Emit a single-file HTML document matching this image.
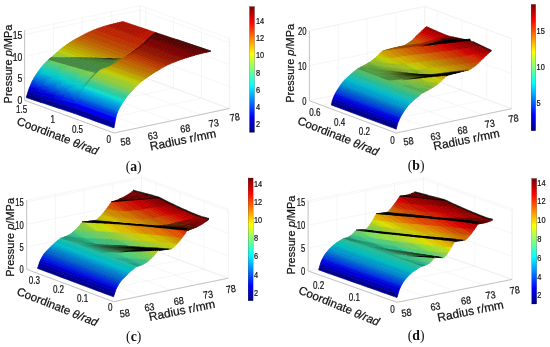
<!DOCTYPE html><html><head><meta charset="utf-8"><title>Pressure distribution</title><style>html,body{margin:0;padding:0;background:#fff}body{width:550px;height:347px;overflow:hidden;font-family:"Liberation Sans",sans-serif}</style></head><body><svg width="550" height="347" viewBox="0 0 550 347" style="display:block"><rect width="550" height="347" fill="#fff"/><defs><linearGradient id="jet" x1="0" y1="1" x2="0" y2="0"><stop offset="0.0000" stop-color="#00007f"/><stop offset="0.0312" stop-color="#00009f"/><stop offset="0.0625" stop-color="#0000bf"/><stop offset="0.0938" stop-color="#0000df"/><stop offset="0.1250" stop-color="#0000ff"/><stop offset="0.1562" stop-color="#001fff"/><stop offset="0.1875" stop-color="#003fff"/><stop offset="0.2188" stop-color="#005fff"/><stop offset="0.2500" stop-color="#007fff"/><stop offset="0.2812" stop-color="#009fff"/><stop offset="0.3125" stop-color="#00bfff"/><stop offset="0.3438" stop-color="#00dfff"/><stop offset="0.3750" stop-color="#00ffff"/><stop offset="0.4062" stop-color="#1fffdf"/><stop offset="0.4375" stop-color="#3fffbf"/><stop offset="0.4688" stop-color="#5fff9f"/><stop offset="0.5000" stop-color="#7fff7f"/><stop offset="0.5312" stop-color="#9fff5f"/><stop offset="0.5625" stop-color="#bfff3f"/><stop offset="0.5938" stop-color="#dfff1f"/><stop offset="0.6250" stop-color="#ffff00"/><stop offset="0.6562" stop-color="#ffdf00"/><stop offset="0.6875" stop-color="#ffbf00"/><stop offset="0.7188" stop-color="#ff9f00"/><stop offset="0.7500" stop-color="#ff7f00"/><stop offset="0.7812" stop-color="#ff5f00"/><stop offset="0.8125" stop-color="#ff3f00"/><stop offset="0.8438" stop-color="#ff1f00"/><stop offset="0.8750" stop-color="#ff0000"/><stop offset="0.9062" stop-color="#df0000"/><stop offset="0.9375" stop-color="#bf0000"/><stop offset="0.9688" stop-color="#9f0000"/><stop offset="1.0000" stop-color="#7f0000"/></linearGradient></defs><line x1="24.6" y1="100.3" x2="140.0" y2="75.8" stroke="#f0f0f0" stroke-width="0.6"/><line x1="140.0" y1="75.8" x2="229.4" y2="108.5" stroke="#f0f0f0" stroke-width="0.6"/><line x1="24.6" y1="78.3" x2="140.0" y2="53.9" stroke="#f0f0f0" stroke-width="0.6"/><line x1="140.0" y1="53.9" x2="229.4" y2="86.5" stroke="#f0f0f0" stroke-width="0.6"/><line x1="24.6" y1="56.4" x2="140.0" y2="31.9" stroke="#f0f0f0" stroke-width="0.6"/><line x1="140.0" y1="31.9" x2="229.4" y2="64.6" stroke="#f0f0f0" stroke-width="0.6"/><line x1="24.6" y1="34.5" x2="140.0" y2="10.0" stroke="#f0f0f0" stroke-width="0.6"/><line x1="140.0" y1="10.0" x2="229.4" y2="42.7" stroke="#f0f0f0" stroke-width="0.6"/><line x1="24.6" y1="30.1" x2="140.0" y2="5.6" stroke="#f0f0f0" stroke-width="0.6"/><line x1="140.0" y1="5.6" x2="229.4" y2="38.3" stroke="#f0f0f0" stroke-width="0.6"/><line x1="24.6" y1="100.3" x2="24.6" y2="30.1" stroke="#f0f0f0" stroke-width="0.6"/><line x1="114.0" y1="133.0" x2="24.6" y2="100.3" stroke="#f0f0f0" stroke-width="0.6"/><line x1="53.5" y1="94.2" x2="53.5" y2="23.9" stroke="#f0f0f0" stroke-width="0.6"/><line x1="142.8" y1="126.9" x2="53.5" y2="94.2" stroke="#f0f0f0" stroke-width="0.6"/><line x1="82.3" y1="88.0" x2="82.3" y2="17.8" stroke="#f0f0f0" stroke-width="0.6"/><line x1="171.7" y1="120.8" x2="82.3" y2="88.0" stroke="#f0f0f0" stroke-width="0.6"/><line x1="111.2" y1="81.9" x2="111.2" y2="11.7" stroke="#f0f0f0" stroke-width="0.6"/><line x1="200.6" y1="114.6" x2="111.2" y2="81.9" stroke="#f0f0f0" stroke-width="0.6"/><line x1="140.0" y1="75.8" x2="140.0" y2="5.6" stroke="#f0f0f0" stroke-width="0.6"/><line x1="229.4" y1="108.5" x2="140.0" y2="75.8" stroke="#f0f0f0" stroke-width="0.6"/><line x1="229.4" y1="108.5" x2="229.4" y2="38.3" stroke="#f0f0f0" stroke-width="0.6"/><line x1="114.0" y1="133.0" x2="229.4" y2="108.5" stroke="#f0f0f0" stroke-width="0.6"/><line x1="201.5" y1="98.3" x2="201.5" y2="28.0" stroke="#f0f0f0" stroke-width="0.6"/><line x1="86.1" y1="122.8" x2="201.5" y2="98.3" stroke="#f0f0f0" stroke-width="0.6"/><line x1="173.5" y1="88.1" x2="173.5" y2="17.8" stroke="#f0f0f0" stroke-width="0.6"/><line x1="58.1" y1="112.6" x2="173.5" y2="88.1" stroke="#f0f0f0" stroke-width="0.6"/><line x1="145.6" y1="77.8" x2="145.6" y2="7.6" stroke="#f0f0f0" stroke-width="0.6"/><line x1="30.2" y1="102.3" x2="145.6" y2="77.8" stroke="#f0f0f0" stroke-width="0.6"/><line x1="140.0" y1="75.8" x2="140.0" y2="5.6" stroke="#f0f0f0" stroke-width="0.6"/><line x1="229.4" y1="108.5" x2="229.4" y2="38.3" stroke="#f0f0f0" stroke-width="0.6"/><line x1="24.6" y1="100.3" x2="140.0" y2="75.8" stroke="#f0f0f0" stroke-width="0.6"/><line x1="140.0" y1="75.8" x2="229.4" y2="108.5" stroke="#f0f0f0" stroke-width="0.6"/><g fill="currentColor" stroke="currentColor" stroke-width=".7" stroke-linejoin="round"><path color="#a10" d="M145.9 30.5l-2.1-.7l-2.1-.7l-2-.7l-2.1-.7l-2-.7l-2.1-.7l-2.1-.7l-2-.7l-2.1-.7l-2-.7l-2.1-.7l-2.1-.7l2.1-.5l2 .7l2 .6l1.9 .7l2 .7l2 .6l2 .7l2 .7l2 .7l2 .6l2 .7l2 .7l2 .6z"/><path color="#b10" d="M154.1 33.4l-2.1-.8l-2-.7l-2.1-.7l-2-.7l1.2-.9l2 .7l2 .7l2 .7l2 .6z"/><path color="#a10" d="M154.9 33.4l-.8 0l1-1.1l.8 .3z"/><path color="#800" d="M155.8 33.5l-.9-.1l1-.8l.8 .3z"/><path color="#400" d="M173.5 39.5l-8.9-3l-8.8-3l.9-.6l9.1 3l9 3.1z"/><path color="#500" d="M208.9 51.7l-8.9-3.1l-8.8-3l-8.9-3l-8.8-3.1l1.3-.5l9 3l9.1 3.1l9 3l9 3.1z"/><path color="#a10" d="M144.6 31.4l-2.1-.7l-2.1-.8l-2.2-.7l-2.1-.7l-2.1-.8l-2.1-.7l-2.2-.8l-2.1-.7l-2.1-.7l-2.1-.8l-2.2-.7l-2.1-.8l2-.4l2.1 .7l2.1 .7l2 .7l2.1 .7l2 .7l2.1 .7l2.1 .7l2 .7l2.1 .7l2 .7l2.1 .7l2.1 .7z"/><path color="#b10" d="M153.1 34.4l-2.1-.8l-2.1-.7l-2.1-.7l-2.2-.8l1.3-.9l2 .7l2.1 .7l2 .7l2.1 .8z"/><path color="#800" d="M154 34.2l-.9 .2l1-1l.8 0z"/><path color="#500" d="M154.8 34.1l-.8 .1l.9-.8l.9 .1z"/><path color="#400" d="M172.2 40.1l-8.7-3l-8.7-3l1-.6l8.8 3l8.9 3z"/><path color="#500" d="M206.9 52.2l-8.7-3.1l-8.7-3l-8.7-3l-8.6-3l1.3-.6l8.8 3.1l8.9 3l8.8 3l8.9 3.1z"/><path color="#a10" d="M143.4 32.3l-2.2-.8l-2.2-.8l-2.2-.7l-2.2-.8l-2.2-.8l-2.2-.7l-2.2-.8l-2.1-.8l-2.2-.8l-2.2-.7l-2.2-.8l-2.2-.8l2-.5l2.1 .8l2.2 .7l2.1 .8l2.1 .7l2.1 .7l2.2 .8l2.1 .7l2.1 .8l2.1 .7l2.2 .7l2.1 .8l2.1 .7z"/><path color="#b10" d="M152.2 35.4l-2.2-.8l-2.2-.8l-2.2-.7l-2.2-.8l1.2-.9l2.2 .8l2.1 .7l2.1 .7l2.1 .8z"/><path color="#400" d="M153 35l-.8 .4l.9-1l.9-.2z"/><path color="#000" d="M153.9 34.7l-.9 .3l1-.8l.8-.1z"/><path color="#400" d="M162.4 37.7l-8.5-3l.9-.6l8.7 3z"/><path color="#500" d="M204.8 52.6l-8.5-3l-8.5-2.9l-8.5-3l-8.4-3l-8.5-3l1.1-.6l8.7 3l8.6 3l8.7 3l8.7 3l8.7 3.1z"/><path color="#a10" d="M142.2 33.2l-2.3-.8l-2.2-.8l-2.3-.8l-2.3-.8l-2.2-.9l-2.3-.8l-2.3-.8l-2.2-.8l-2.3-.8l-2.2-.8l-2.3-.8l-2.3-.8l2.1-.5l2.2 .8l2.2 .8l2.2 .7l2.2 .8l2.1 .8l2.2 .8l2.2 .7l2.2 .8l2.2 .8l2.2 .7l2.2 .8l2.2 .8z"/><path color="#b10" d="M151.2 36.4l-2.2-.8l-2.3-.8l-2.3-.8l-2.2-.8l1.2-.9l2.2 .8l2.2 .7l2.2 .8l2.2 .8z"/><path color="#000" d="M152.9 35.4l-.8 .5l-.9 .5l1-1l.8-.4l.9-.3z"/><path color="#500" d="M194.5 50.2l-8.3-3l-8.3-3l-8.4-2.9l-8.3-3l-8.3-2.9l1-.7l8.5 3l8.5 3l8.4 3l8.5 3l8.5 2.9z"/><path color="#600" d="M202.8 53.1l-8.3-2.9l1.8-.6l8.5 3z"/><path color="#a10" d="M138.6 33.2l-2.3-.8l-2.3-.9l-2.4-.8l-2.3-.8l-2.3-.9l-2.3-.8l-2.4-.8l-2.3-.9l-2.3-.8l-2.4-.9l-2.3-.8l2-.5l2.3 .8l2.3 .8l2.2 .8l2.3 .8l2.2 .8l2.3 .8l2.3 .8l2.2 .9l2.3 .8l2.3 .8l2.2 .8z"/><path color="#b10" d="M150.3 37.4l-2.4-.8l-2.3-.9l-2.3-.8l-2.4-.9l-2.3-.8l1.3-.8l2.3 .8l2.2 .8l2.3 .8l2.3 .8l2.2 .8z"/><path color="#000" d="M151.9 36.1l-.8 .6l-.8 .7l.9-1l.9-.5l.8-.5z"/><path color="#500" d="M192.6 50.7l-8.1-2.9l-8.1-3l-8.2-2.9l-8.1-2.9l-8.2-2.9l1-.7l8.3 2.9l8.3 3l8.4 2.9l8.3 3l8.3 3z"/><path color="#600" d="M200.8 53.6l-8.2-2.9l1.9-.5l8.3 2.9z"/><path color="#a10" d="M137.3 34l-2.4-.8l-2.4-.9l-2.4-.9l-2.4-.8l-2.4-.9l-2.4-.9l-2.3-.8l-2.4-.9l-2.4-.9l-2.4-.8l-2.4-.9l2-.5l2.3 .8l2.4 .9l2.3 .8l2.3 .9l2.4 .8l2.3 .8l2.3 .9l2.3 .8l2.4 .8l2.3 .9l2.3 .8z"/><path color="#b10" d="M149.3 38.4l-2.4-.9l-2.4-.9l-2.4-.8l-2.4-.9l-2.4-.9l1.3-.8l2.3 .8l2.4 .9l2.3 .8l2.3 .9l2.4 .8z"/><path color="#000" d="M150.1 37.6l-.8 .8l1-1l.8-.7z"/><path color="#200" d="M151 36.8l-.9 .8l1-.9l.8-.6z"/><path color="#500" d="M182.8 48.3l-7.9-2.8l-8-2.9l-8-2.9l-7.9-2.9l.9-.7l8.2 2.9l8.1 2.9l8.2 2.9l8.1 3z"/><path color="#600" d="M198.7 54.1l-7.9-2.9l-8-2.9l1.7-.5l8.1 2.9l8.2 2.9z"/><path color="#a10" d="M133.5 34l-2.4-.9l-2.5-.9l-2.4-.9l-2.5-.9l-2.5-.9l-2.4-.9l-2.5-.9l-2.4-.9l-2.5-.9l-2.4-.9l2-.5l2.4 .9l2.4 .8l2.4 .9l2.4 .9l2.3 .8l2.4 .9l2.4 .9l2.4 .8l2.4 .9l2.4 .9z"/><path color="#b10" d="M148.3 39.4l-2.5-.9l-2.4-.9l-2.5-.9l-2.5-.9l-2.4-.9l-2.5-.9l1.4-.8l2.4 .8l2.4 .9l2.4 .9l2.4 .8l2.4 .9l2.4 .9z"/><path color="#200" d="M149.9 37.6l-.8 .9l-.8 .9l1-1l.8-.8l.9-.8z"/><path color="#500" d="M157.7 40.4l-7.8-2.8l1.1-.8l7.9 2.9z"/><path color="#600" d="M196.7 54.6l-7.8-2.8l-7.8-2.8l-7.8-2.9l-7.8-2.8l-7.8-2.9l1.2-.7l8 2.9l8 2.9l7.9 2.8l8 2.9l7.9 2.9z"/><path color="#a10" d="M137.2 36.6l-2.6-.9l-2.5-.9l-2.5-.9l-2.5-1l-2.5-.9l-2.6-.9l-2.5-.9l-2.5-.9l-2.5-1l-2.5-.9l-2.6-.9l-2.5-.9l2.1-.6l2.4 .9l2.5 .9l2.4 .9l2.5 .9l2.4 .9l2.5 .9l2.5 .9l2.4 .9l2.5 .9l2.4 .9l2.5 .9l2.4 .9z"/><path color="#b10" d="M147.2 40.3l-2.5-.9l-2.5-.9l-2.5-1l-2.5-.9l1.2-.8l2.5 .9l2.5 .9l2.4 .9l2.5 .9z"/><path color="#200" d="M148.9 38.4l-.8 1l-.9 .9l1.1-.9l.8-.9l.8-.9z"/><path color="#600" d="M194.7 55.2l-7.6-2.8l-7.7-2.8l-7.6-2.8l-7.6-2.8l-7.7-2.8l-7.6-2.8l1-.8l7.8 2.8l7.8 2.9l7.8 2.8l7.8 2.9l7.8 2.8l7.8 2.8z"/><path color="#a20" d="M146.2 41.3l-2.6-1l-2.6-.9l-2.5-1l-2.6-.9l-2.6-.9l-2.6-1l-2.6-.9l-2.6-1l-2.5-.9l-2.6-1l-2.6-.9l-2.6-1l-2.6-.9l-2.5-.9l-2.6-1l-2.6-.9l2-.6l2.5 .9l2.6 .9l2.5 .9l2.5 1l2.5 .9l2.5 .9l2.6 .9l2.5 .9l2.5 1l2.5 .9l2.5 .9l2.6 .9l2.5 .9l2.5 1l2.5 .9l2.5 .9z"/><path color="#200" d="M147.9 39.4l-.9 .9l-.8 1l1-1l.9-.9l.8-1z"/><path color="#700" d="M192.7 55.8l-7.5-2.8l-7.5-2.7l-7.4-2.7l-7.5-2.8l-7.5-2.7l-7.4-2.7l1-1l7.6 2.8l7.7 2.8l7.6 2.8l7.6 2.8l7.7 2.8l7.6 2.8z"/><path color="#b20" d="M145.2 42.3l-2.6-1l-2.7-.9l-2.6-1l-2.7-1l-2.6-1l-2.7-.9l-2.6-1l-2.7-1l-2.6-.9l-2.7-1l-2.6-1l-2.7-.9l-2.6-1l-2.7-1l-2.6-.9l-2.6-1l2-.6l2.6 .9l2.6 1l2.5 .9l2.6 .9l2.6 1l2.6 .9l2.6 1l2.5 .9l2.6 1l2.6 .9l2.6 1l2.6 .9l2.6 .9l2.5 1l2.6 .9l2.6 1z"/><path color="#200" d="M146.9 40.4l-.9 .9l-.8 1l1-1l.8-1l.9-.9z"/><path color="#700" d="M190.6 56.4l-7.3-2.7l-7.3-2.7l-7.3-2.6l-7.2-2.7l-7.3-2.7l-7.3-2.6l1-1l7.4 2.7l7.5 2.7l7.5 2.8l7.4 2.7l7.5 2.7l7.5 2.8z"/><path color="#b20" d="M144.2 43.3l-2.7-1l-2.7-.9l-2.7-1l-2.8-1l-2.7-1l-2.7-1l-2.7-1l-2.7-1l-2.7-1l-2.7-1l-2.7-1l-2.7-1l-2.7-1l-2.8-.9l-2.7-1l-2.7-1l2.1-.7l2.6 1l2.6 .9l2.7 1l2.6 1l2.7 .9l2.6 1l2.7 1l2.6 .9l2.7 1l2.6 1l2.7 .9l2.6 1l2.7 1l2.6 1l2.7 .9l2.6 1z"/><path color="#100" d="M145.9 41.4l-.9 1l-.8 .9l1-1l.8-1l.9-.9z"/><path color="#700" d="M188.6 57l-7.1-2.6l-7.1-2.6l-7.2-2.6l-7.1-2.6l-7.1-2.6l-7.1-2.6l1-1l7.3 2.6l7.3 2.7l7.2 2.7l7.3 2.6l7.3 2.7l7.3 2.7z"/><path color="#b20" d="M143.2 44.4l-2.8-1l-2.8-1l-2.8-1l-2.7-1.1l-2.8-1l-2.8-1l-2.7-1l-2.8-1l-2.8-1l-2.8-1l-2.7-1.1l-2.8-1l-2.8-1l-2.8-1l-2.7-1l-2.8-1l2-.7l2.7 1l2.7 1l2.8 .9l2.7 1l2.7 1l2.7 1l2.7 1l2.7 1l2.7 1l2.7 1l2.7 1l2.7 1l2.8 1l2.7 1l2.7 .9l2.7 1z"/><path color="#100" d="M144.8 42.4l-.8 1l-.8 1l1-1.1l.8-.9l.9-1z"/><path color="#700" d="M186.6 57.7l-7-2.6l-6.9-2.5l-7-2.6l-7-2.5l-6.9-2.5l-7-2.6l1.1-1l7.1 2.6l7.1 2.6l7.1 2.6l7.2 2.6l7.1 2.6l7.1 2.6z"/><path color="#b20" d="M142.1 45.5l-2.8-1.1l-2.9-1l-2.8-1l-2.8-1.1l-2.9-1l-2.8-1l-2.8-1.1l-2.9-1l-2.8-1l-2.8-1.1l-2.9-1l-2.8-1.1l-2.8-1l-2.9-1l-2.8-1.1l-2.8-1l2-.7l2.8 1l2.7 1l2.8 1l2.8 1l2.8 1l2.7 1.1l2.8 1l2.8 1l2.8 1l2.7 1l2.8 1l2.8 1l2.7 1.1l2.8 1l2.8 1l2.8 1z"/><path color="#100" d="M143.8 43.4l-.9 1.1l-.8 1l1.1-1.1l.8-1l.8-1z"/><path color="#800" d="M184.5 58.3l-6.8-2.4l-6.8-2.5l-6.7-2.5l-6.8-2.5l-6.8-2.5l-6.8-2.5l1-1l7 2.6l6.9 2.5l7 2.5l7 2.6l6.9 2.5l7 2.6z"/><path color="#b20" d="M141 46.6l-2.9-1.1l-2.9-1l-2.9-1.1l-2.9-1.1l-2.9-1l-2.9-1.1l-2.9-1l-2.8-1.1l-2.9-1l-2.9-1.1l-2.9-1.1l-2.9-1l-2.9-1.1l-2.9-1l-2.9-1.1l-2.9-1l2.1-.8l2.8 1l2.8 1.1l2.9 1l2.8 1l2.8 1.1l2.9 1l2.8 1.1l2.8 1l2.9 1l2.8 1.1l2.8 1l2.9 1l2.8 1.1l2.8 1l2.9 1l2.8 1.1z"/><path color="#100" d="M142.6 44.4l-.8 1.1l-.8 1.1l1.1-1.1l.8-1l.9-1.1z"/><path color="#800" d="M182.5 59l-6.6-2.4l-6.7-2.4l-6.6-2.5l-6.7-2.4l-6.6-2.4l-6.7-2.5l1.2-1l6.8 2.5l6.8 2.5l6.8 2.5l6.7 2.5l6.8 2.5l6.8 2.4z"/><path color="#b30" d="M139.8 47.7l-3-1.1l-2.9-1l-3-1.1l-2.9-1.1l-2.9-1.1l-3-1.1l-2.9-1l-3-1.1l-2.9-1.1l-2.9-1.1l-3-1l-2.9-1.1l-3-1.1l-2.9-1.1l-3-1l-2.9-1.1l2-.8l2.9 1l2.9 1.1l2.9 1l2.9 1.1l2.9 1l2.9 1.1l2.9 1.1l2.9 1l2.8 1.1l2.9 1l2.9 1.1l2.9 1l2.9 1.1l2.9 1.1l2.9 1l2.9 1.1z"/><path color="#100" d="M141.4 45.4l-.8 1.2l-.8 1.1l1.2-1.1l.8-1.1l.8-1.1z"/><path color="#810" d="M180.5 59.7l-6.5-2.4l-6.5-2.3l-6.5-2.4l-6.5-2.4l-6.6-2.4l-6.5-2.4l1.2-1l6.7 2.5l6.6 2.4l6.7 2.4l6.6 2.5l6.7 2.4l6.6 2.4z"/><path color="#b30" d="M138.5 48.9l-3-1.1l-3-1.1l-3-1.1l-3-1.1l-3-1.1l-3-1.1l-2.9-1.1l-3-1.1l-3-1.1l-3-1.1l-3-1l-3-1.1l-3-1.1l-3-1.1l-2.9-1.1l-3-1.1l2-.9l2.9 1.1l3 1l2.9 1.1l3 1.1l2.9 1.1l3 1l2.9 1.1l2.9 1.1l3 1.1l2.9 1l3 1.1l2.9 1.1l2.9 1.1l3 1.1l2.9 1l3 1.1z"/><path color="#100" d="M140.1 46.4l-.8 1.3l-.8 1.2l1.3-1.2l.8-1.1l.8-1.2z"/><path color="#810" d="M178.4 60.4l-6.3-2.3l-6.4-2.3l-6.4-2.4l-6.4-2.3l-6.4-2.3l-6.4-2.4l1.3-1l6.5 2.4l6.6 2.4l6.5 2.4l6.5 2.4l6.5 2.3l6.5 2.4z"/><path color="#b30" d="M137.1 50.1l-3.1-1.2l-3-1.1l-3-1.1l-3-1.1l-3.1-1.1l-3-1.1l-3-1.1l-3-1.1l-3.1-1.1l-3-1.1l-3-1.1l-3.1-1.1l-3-1.1l-3-1.1l-3-1.2l-3.1-1.1l2.1-.9l3 1.1l2.9 1.1l3 1.1l3 1.1l3 1.1l3 1l3 1.1l3 1.1l3 1.1l2.9 1.1l3 1.1l3 1.1l3 1.1l3 1.1l3 1.1l3 1.1z"/><path color="#100" d="M138.7 47.4l-.8 1.3l-.8 1.4l1.4-1.2l.8-1.2l.8-1.3z"/><path color="#810" d="M176.4 61.2l-6.3-2.3l-6.2-2.3l-6.3-2.3l-6.3-2.3l-6.3-2.3l-6.3-2.3l1.4-1l6.4 2.4l6.4 2.3l6.4 2.3l6.4 2.4l6.4 2.3l6.3 2.3z"/><path color="#b40" d="M135.7 51.3l-3.1-1.1l-3.1-1.2l-3-1.1l-3.1-1.1l-3.1-1.1l-3-1.2l-3.1-1.1l-3.1-1.1l-3-1.1l-3.1-1.1l-3.1-1.2l-3-1.1l-3.1-1.1l-3.1-1.1l-3-1.1l-3.1-1.2l2-1l3.1 1.1l3 1.2l3 1.1l3 1.1l3.1 1.1l3 1.1l3 1.1l3.1 1.1l3 1.1l3 1.1l3 1.1l3.1 1.1l3 1.1l3 1.1l3 1.1l3.1 1.2z"/><path color="#100" d="M137.3 48.5l-.8 1.4l-.8 1.4l1.4-1.2l.8-1.4l.8-1.3z"/><path color="#910" d="M174.4 62l-6.2-2.3l-6.2-2.2l-6.1-2.3l-6.2-2.2l-6.2-2.3l-6.2-2.2l1.4-1.1l6.3 2.3l6.3 2.3l6.3 2.3l6.3 2.3l6.2 2.3l6.3 2.3z"/><path color="#b40" d="M134.3 52.5l-3.1-1.1l-3.1-1.2l-3.2-1.1l-3.1-1.1l-3.1-1.2l-3.1-1.1l-3.1-1.1l-3.1-1.2l-3.1-1.1l-3.1-1.1l-3.1-1.2l-3.1-1.1l-3.1-1.2l-3.1-1.1l-3.1-1.1l-3.1-1.2l2-1l3.1 1.2l3 1.1l3.1 1.1l3.1 1.1l3 1.1l3.1 1.2l3.1 1.1l3 1.1l3.1 1.1l3.1 1.1l3 1.2l3.1 1.1l3.1 1.1l3 1.1l3.1 1.2l3.1 1.1z"/><path color="#100" d="M135.9 49.5l-.8 1.5l-.8 1.5l1.4-1.2l.8-1.4l.8-1.4z"/><path color="#910" d="M172.3 62.8l-6-2.2l-6.1-2.2l-6.1-2.2l-6-2.3l-6.1-2.2l-6.1-2.2l1.4-1l6.2 2.2l6.2 2.3l6.2 2.2l6.1 2.3l6.2 2.2l6.2 2.3z"/><path color="#b40" d="M132.8 53.7l-3.1-1.1l-3.1-1.2l-3.2-1.1l-3.1-1.1l-3.2-1.2l-3.1-1.1l-3.2-1.2l-3.1-1.1l-3.2-1.2l-3.1-1.1l-3.1-1.2l-3.2-1.1l-3.1-1.2l-3.2-1.1l-3.1-1.2l-3.2-1.1l2.1-1.1l3.1 1.2l3.1 1.1l3.1 1.1l3.1 1.2l3.1 1.1l3.1 1.2l3.1 1.1l3.1 1.1l3.1 1.2l3.1 1.1l3.1 1.1l3.1 1.2l3.1 1.1l3.2 1.1l3.1 1.2l3.1 1.1z"/><path color="#000" d="M134.5 50.6l-.8 1.6l-.9 1.5l1.5-1.2l.8-1.5l.8-1.5z"/><path color="#920" d="M170.3 63.7l-6-2.2l-5.9-2.2l-6-2.2l-6-2.1l-5.9-2.2l-6-2.2l1.4-1.1l6.1 2.2l6.1 2.2l6 2.3l6.1 2.2l6.1 2.2l6 2.2z"/><path color="#b50" d="M131.4 55l-3.2-1.2l-3.2-1.1l-3.2-1.2l-3.2-1.2l-3.1-1.1l-3.2-1.2l-3.2-1.1l-3.2-1.2l-3.1-1.2l-3.2-1.1l-3.2-1.2l-3.2-1.2l-3.2-1.1l-3.1-1.2l-3.2-1.1l-3.2-1.2l2-1l3.2 1.1l3.1 1.2l3.2 1.1l3.1 1.2l3.2 1.1l3.1 1.2l3.1 1.1l3.2 1.2l3.1 1.1l3.2 1.2l3.1 1.1l3.2 1.2l3.1 1.1l3.2 1.1l3.1 1.2l3.1 1.1z"/><path color="#000" d="M133 51.7l-.8 1.6l-.8 1.7l1.4-1.3l.9-1.5l.8-1.6z"/><path color="#920" d="M168.3 64.6l-5.9-2.2l-5.9-2.1l-5.8-2.2l-5.9-2.1l-5.9-2.2l-5.9-2.1l1.5-1.1l6 2.2l5.9 2.2l6 2.1l6 2.2l5.9 2.2l6 2.2z"/><path color="#b50" d="M129.8 56.3l-3.2-1.2l-3.2-1.2l-3.2-1.2l-3.2-1.1l-3.2-1.2l-3.2-1.2l-3.3-1.2l-3.2-1.1l-3.2-1.2l-3.2-1.2l-3.2-1.1l-3.2-1.2l-3.2-1.2l-3.2-1.2l-3.2-1.1l-3.2-1.2l2-1.1l3.2 1.2l3.2 1.1l3.1 1.2l3.2 1.1l3.2 1.2l3.2 1.2l3.2 1.1l3.1 1.2l3.2 1.2l3.2 1.1l3.2 1.2l3.1 1.1l3.2 1.2l3.2 1.2l3.2 1.1l3.2 1.2z"/><path color="#000" d="M131.5 52.9l-.9 1.7l-.8 1.7l1.6-1.3l.8-1.7l.8-1.6z"/><path color="#a20" d="M166.3 65.6l-5.8-2.1l-5.8-2.2l-5.8-2.1l-5.8-2.1l-5.8-2.1l-5.8-2.1l1.5-1.2l5.9 2.1l5.9 2.2l5.9 2.1l5.8 2.2l5.9 2.1l5.9 2.2z"/><path color="#b60" d="M128.1 57.5l-3.2-1.2l-3.2-1.1l-3.3-1.2l-3.2-1.2l-3.2-1.2l-3.2-1.2l-3.3-1.2l-3.2-1.1l-3.2-1.2l-3.3-1.2l-3.2-1.2l-3.2-1.2l-3.3-1.1l-3.2-1.2l-3.2-1.2l-3.2-1.2l2-1.1l3.2 1.2l3.2 1.1l3.2 1.2l3.2 1.2l3.2 1.2l3.2 1.1l3.2 1.2l3.2 1.2l3.2 1.1l3.3 1.2l3.2 1.2l3.2 1.2l3.2 1.1l3.2 1.2l3.2 1.2l3.2 1.2z"/><path color="#000" d="M129.8 54.1l-.8 1.7l-.9 1.7l1.7-1.2l.8-1.7l.9-1.7z"/><path color="#a30" d="M164.2 66.7l-5.7-2.1l-5.7-2.1l-5.8-2.1l-5.7-2.1l-5.8-2.1l-5.7-2.1l1.7-1.2l5.8 2.1l5.8 2.1l5.8 2.1l5.8 2.1l5.8 2.2l5.8 2.1z"/><path color="#b60" d="M126.3 58.8l-3.2-1.2l-3.2-1.2l-3.3-1.2l-3.2-1.2l-3.3-1.2l-3.2-1.2l-3.3-1.1l-3.2-1.2l-3.3-1.2l-3.2-1.2l-3.3-1.2l-3.2-1.2l-3.2-1.2l-3.3-1.2l-3.2-1.1l-3.3-1.2l2.1-1.2l3.2 1.2l3.2 1.2l3.2 1.2l3.3 1.1l3.2 1.2l3.2 1.2l3.3 1.2l3.2 1.2l3.2 1.1l3.3 1.2l3.2 1.2l3.2 1.2l3.2 1.2l3.3 1.2l3.2 1.1l3.2 1.2z"/><path color="#000" d="M128 55.3l-.8 1.7l-.9 1.8l1.8-1.3l.9-1.7l.8-1.7z"/><path color="#b30" d="M162.2 67.8l-5.7-2.1l-5.7-2.1l-5.7-2l-5.7-2.1l-5.7-2.1l-5.7-2.1l1.8-1.2l5.7 2.1l5.8 2.1l5.7 2.1l5.8 2.1l5.7 2.1l5.7 2.1z"/><path color="#b70" d="M124.4 60l-3.3-1.2l-3.2-1.2l-3.3-1.2l-3.2-1.2l-3.3-1.1l-3.2-1.2l-3.3-1.2l-3.2-1.2l-3.3-1.2l-3.2-1.2l-3.3-1.2l-3.2-1.2l-3.3-1.2l-3.2-1.1l-3.3-1.2l-3.2-1.2l2-1.2l3.3 1.2l3.2 1.1l3.3 1.2l3.2 1.2l3.2 1.2l3.3 1.2l3.2 1.2l3.3 1.2l3.2 1.2l3.3 1.1l3.2 1.2l3.3 1.2l3.2 1.2l3.3 1.2l3.2 1.2l3.2 1.2z"/><path color="#000" d="M126.1 56.5l-.9 1.8l-.8 1.7l1.9-1.2l.9-1.8l.8-1.7z"/><path color="#b40" d="M160.2 69l-5.7-2.1l-5.7-2l-5.7-2.1l-5.7-2.1l-5.6-2.1l-5.7-2.1l1.9-1.2l5.7 2.1l5.7 2.1l5.7 2.1l5.7 2l5.7 2.1l5.7 2.1z"/><path color="#b70" d="M123.1 58.9l-.5 .1l-.4 .1l-.5 .1l-.4 .1l-.5 0l-.4 .1l-.5 .1l-.4 .1l-8.1-3l-8.1-2.9l-8.1-3l-8.1-2.9l-8-3l-8.1-3l1.4-.8l3.2 1.2l3.3 1.2l3.2 1.1l3.3 1.2l3.2 1.2l3.3 1.2l3.2 1.2l3.3 1.2l3.2 1.2l3.3 1.2l3.2 1.2l3.3 1.1l3.2 1.2l3.3 1.2z"/><path color="#b60" d="M123.5 58.8l-.4 .1l-5.2-1.3l3.2 1.2z"/><path color="#583" d="M124.6 57.4l-.2 1.3l-.5 .1l-.4 0l-2.4 0l3.3 1.2l.8-1.7l.9-1.8z"/><path color="#b40" d="M158.7 69.9l-5.6-2.1l-5.7-2.1l-5.7-2.1l-5.7-2l-5.7-2.1l-5.7-2.1l1.5-.9l5.7 2.1l5.6 2.1l5.7 2.1l5.7 2.1l5.7 2l5.7 2.1z"/><path color="#b80" d="M114.6 59.2l-7.5-2.7l-7.5-2.8l-7.5-2.7l-7.5-2.8l-7.5-2.7l-7.6-2.8l1.5-.9l8.1 3l8 3l8.1 2.9l8.1 3l8.1 2.9l8.1 3z"/><path color="#000" d="M118.3 59.3l-.7 0l-.8 0l-.7 0l-.8-.1l-.7 0l4.9 .4l.4-.1l.5-.1l.4-.1l.5 0l.4-.1z"/><path color="#583" d="M123.2 58.3l-.4 1.2l-.8 0l-.7-.1l-.8 0l-.7 0l-.7 0l-.8-.1l3.4-.1l.5-.1l.4-.1l.5-.1l.4-.1l.4 0l.5-.1l.2-1.3z"/><path color="#b50" d="M157.3 70.8l-5.7-2.1l-5.7-2.1l-5.6-2.1l-5.7-2.1l-5.7-2l-5.7-2.1l1.4-.9l5.7 2.1l5.7 2.1l5.7 2l5.7 2.1l5.7 2.1l5.6 2.1z"/><path color="#b80" d="M109.7 58.9l-6.9-2.6l-7-2.5l-6.9-2.5l-6.9-2.6l-7-2.5l-6.9-2.5l1.4-1l7.6 2.8l7.5 2.7l7.5 2.8l7.5 2.7l7.5 2.8l7.5 2.7z"/><path color="#000" d="M114.9 59.5l-1-.1l-1.1-.1l-1-.2l-1.1-.1l-1-.1l4.9 .3l.7 0l.8 .1l.7 0l.8 0l.7 0z"/><path color="#121" d="M115.9 59.7l-1-.2l3.4-.2l.8 .1z"/><path color="#231" d="M117 59.8l-1.1-.1l3.2-.3l.7 0z"/><path color="#583" d="M121.7 59.1l-.6 1.2l-1-.1l-1-.1l-1.1-.2l-1-.1l2.8-.4l.7 0l.8 0l.7 .1l.8 0l.4-1.2z"/><path color="#b50" d="M155.9 71.6l-5.7-2l-5.7-2.1l-5.7-2.1l-5.7-2.1l-5.7-2.1l-5.7-2.1l1.5-.8l5.7 2.1l5.7 2l5.7 2.1l5.6 2.1l5.7 2.1l5.7 2.1z"/><path color="#b90" d="M104.8 58.6l-6.3-2.3l-6.4-2.4l-6.4-2.3l-6.3-2.3l-6.4-2.3l-6.3-2.4l1.4-.9l6.9 2.5l7 2.5l6.9 2.6l6.9 2.5l7 2.5l6.9 2.6z"/><path color="#010" d="M106.1 58.8l-1.3-.2l4.9 .3l1 .1z"/><path color="#121" d="M107.5 59.1l-1.4-.3l4.6 .2l1.1 .1z"/><path color="#231" d="M108.8 59.3l-1.3-.2l4.3 0l1 .2z"/><path color="#241" d="M110.1 59.5l-1.3-.2l4 0l1.1 .1z"/><path color="#342" d="M111.5 59.8l-1.4-.3l3.8-.1l1 .1z"/><path color="#352" d="M114.2 60.2l-1.4-.2l-1.3-.2l3.4-.3l1 .2l1.1 .1z"/><path color="#462" d="M115.5 60.5l-1.3-.3l2.8-.4l1 .1z"/><path color="#583" d="M120.3 60l-.8 1.1l-1.3-.2l-1.4-.2l-1.3-.2l2.5-.6l1.1 .2l1 .1l1 .1l.6-1.2z"/><path color="#b60" d="M154.5 72.5l-5.7-2.1l-5.7-2.1l-5.7-2l-5.7-2.1l-5.7-2.1l-5.7-2.1l1.4-.9l5.7 2.1l5.7 2.1l5.7 2.1l5.7 2.1l5.7 2.1l5.7 2z"/><path color="#b90" d="M99.9 58.3l-5.8-2.1l-5.7-2.1l-5.8-2.1l-5.8-2.1l-5.8-2.1l-5.7-2.1l1.4-1.1l6.3 2.4l6.4 2.3l6.3 2.3l6.4 2.3l6.4 2.4l6.3 2.3z"/><path color="#242" d="M101.5 58.7l-1.6-.4l4.9 .3l1.3 .2z"/><path color="#342" d="M103.2 59l-1.7-.3l4.6 .1l1.4 .3z"/><path color="#352" d="M106.4 59.7l-1.6-.4l-1.6-.3l4.3 .1l1.3 .2l1.3 .2z"/><path color="#362" d="M108.1 60l-1.7-.3l3.7-.2l1.4 .3z"/><path color="#462" d="M113 61l-1.7-.3l-1.6-.4l-1.6-.3l3.4-.2l1.3 .2l1.4 .2l1.3 .3z"/><path color="#473" d="M114.6 61.3l-1.6-.3l2.5-.5l1.3 .2z"/><path color="#583" d="M118.8 60.9l-1 1.1l-1.6-.3l-1.6-.4l2.2-.6l1.4 .2l1.3 .2l.8-1.1z"/><path color="#b60" d="M153 73.4l-5.7-2.1l-5.7-2.1l-5.7-2.1l-5.7-2l-5.7-2.1l-5.7-2.1l1.5-.9l5.7 2.1l5.7 2.1l5.7 2.1l5.7 2l5.7 2.1l5.7 2.1z"/><path color="#ba0" d="M95 58.1l-5.2-1.9l-5.2-1.9l-5.2-1.9l-5.2-1.9l-5.2-1.9l-5.2-1.9l1.5-1l5.7 2.1l5.8 2.1l5.8 2.1l5.8 2.1l5.7 2.1l5.8 2.1z"/><path color="#352" d="M96.9 58.5l-1.9-.4l4.9 .2l1.6 .4z"/><path color="#362" d="M98.9 59l-2-.5l4.6 .2l1.7 .3z"/><path color="#462" d="M104.6 60.3l-1.9-.5l-1.9-.4l-1.9-.4l4.3 0l1.6 .3l1.6 .4l1.7 .3z"/><path color="#463" d="M106.6 60.7l-2-.4l3.5-.3l1.6 .3z"/><path color="#473" d="M112.3 62l-1.9-.4l-1.9-.5l-1.9-.4l3.1-.4l1.6 .4l1.7 .3l1.6 .3z"/><path color="#583" d="M117.3 61.8l-1.1 1.1l-1.9-.5l-2-.4l2.3-.7l1.6 .4l1.6 .3l1-1.1z"/><path color="#b60" d="M151.6 74.3l-5.7-2.1l-5.7-2.1l-5.7-2.1l-5.8-2.1l-5.7-2l-5.7-2.1l1.5-.9l5.7 2.1l5.7 2.1l5.7 2l5.7 2.1l5.7 2.1l5.7 2.1z"/><path color="#ba0" d="M90.1 57.9l-4.6-1.7l-4.6-1.7l-4.6-1.6l-4.7-1.7l-4.6-1.7l-4.6-1.7l1.4-1.1l5.2 1.9l5.2 1.9l5.2 1.9l5.2 1.9l5.2 1.9l5.2 1.9z"/><path color="#462" d="M92.3 58.5l-2.2-.6l4.9 .2l1.9 .4z"/><path color="#463" d="M96.8 59.5l-2.3-.5l-2.2-.5l4.6 0l2 .5l1.9 .4z"/><path color="#473" d="M112.3 63.2l-2.2-.5l-2.2-.5l-2.3-.6l-2.2-.5l-2.2-.5l-2.2-.6l-2.2-.5l4-.1l1.9 .4l1.9 .5l2 .4l1.9 .4l1.9 .5l1.9 .4l2 .4z"/><path color="#483" d="M115.8 62.7l-1.3 1l-2.2-.5l2-.8l1.9 .5l1.1-1.1z"/><path color="#b70" d="M150.2 75.2l-5.8-2.1l-5.7-2.1l-5.7-2.1l-5.7-2.1l-5.8-2l-5.7-2.1l1.5-.9l5.7 2.1l5.7 2l5.8 2.1l5.7 2.1l5.7 2.1l5.7 2.1z"/><path color="#bb0" d="M85.2 57.8l-4-1.5l-4.1-1.5l-4-1.5l-4-1.4l-4.1-1.5l-4-1.5l1.4-1.1l4.6 1.7l4.6 1.7l4.7 1.7l4.6 1.6l4.6 1.7l4.6 1.7z"/><path color="#473" d="M110.3 64l-2.5-.6l-2.5-.6l-2.5-.6l-2.5-.7l-2.5-.6l-2.5-.6l-2.6-.7l-2.5-.6l-2.5-.6l-2.5-.6l4.9 .1l2.2 .6l2.2 .5l2.3 .5l2.2 .5l2.2 .6l2.2 .5l2.2 .5l2.3 .6l2.2 .5l2.2 .5z"/><path color="#483" d="M114.3 63.6l-1.5 1.1l-2.5-.7l2-.8l2.2 .5l1.3-1z"/><path color="#b70" d="M148.8 76.2l-5.8-2.1l-5.7-2.1l-5.8-2.1l-5.7-2.1l-5.8-2.1l-5.7-2.1l1.5-.9l5.7 2.1l5.8 2l5.7 2.1l5.7 2.1l5.7 2.1l5.8 2.1z"/><path color="#bb0" d="M80.3 57.7l-3.4-1.3l-3.5-1.2l-3.5-1.3l-3.4-1.3l-3.5-1.2l-3.4-1.3l1.4-1.2l4 1.5l4.1 1.5l4 1.4l4 1.5l4.1 1.5l4 1.5z"/><path color="#473" d="M99.9 62.7l-2.8-.7l-2.8-.7l-2.8-.7l-2.8-.8l-2.8-.7l-2.8-.7l-2.8-.7l4.9 .1l2.5 .6l2.5 .6l2.5 .6l2.6 .7l2.5 .6l2.5 .6l2.5 .7z"/><path color="#483" d="M112.8 64.5l-1.7 1.1l-2.8-.7l-2.8-.7l-2.8-.8l-2.8-.7l2.9-.5l2.5 .6l2.5 .6l2.5 .6l2.5 .7l1.5-1.1z"/><path color="#b80" d="M147.3 77.2l-5.7-2.2l-5.8-2.1l-5.8-2.1l-5.7-2.1l-5.8-2.1l-5.7-2.1l1.5-.9l5.7 2.1l5.8 2.1l5.7 2.1l5.8 2.1l5.7 2.1l5.8 2.1z"/><path color="#bc1" d="M75.4 57.6l-2.9-1l-2.8-1.1l-2.9-1l-2.9-1.1l-2.9-1l-2.9-1.1l1.5-1.2l3.4 1.3l3.5 1.2l3.4 1.3l3.5 1.3l3.5 1.2l3.4 1.3z"/><path color="#473" d="M84.7 60.1l-3.1-.8l-3.1-.8l-3.1-.9l4.9 .1l2.8 .7l2.8 .7l2.8 .7z"/><path color="#483" d="M111.2 65.5l-1.8 1.1l-3.1-.8l-3.1-.8l-3-.9l-3.1-.8l-3.1-.8l-3.1-.8l-3.1-.8l-3.1-.8l4-.3l2.8 .8l2.8 .7l2.8 .7l2.8 .7l2.8 .7l2.8 .8l2.8 .7l2.8 .7l1.7-1.1z"/><path color="#b80" d="M145.9 78.2l-5.8-2.2l-5.8-2.1l-5.7-2.1l-5.8-2.1l-5.8-2.1l-5.8-2.1l1.6-1l5.7 2.1l5.8 2.1l5.7 2.1l5.8 2.1l5.8 2.1l5.7 2.2z"/><path color="#ac2" d="M70.5 57.7l-2.3-.9l-2.3-.8l-2.3-.9l-2.3-.8l-2.3-.9l-2.3-.8l1.4-1.3l2.9 1.1l2.9 1l2.9 1.1l2.9 1l2.8 1.1l2.9 1z"/><path color="#483" d="M104.1 66.6l-3.3-.9l-3.4-.9l-3.4-.9l-3.3-.9l-3.4-.9l-3.3-.9l-3.4-.9l-3.4-.9l-3.3-.9l-3.4-.8l4.9-.1l3.1 .9l3.1 .8l3.1 .8l3.1 .8l3.1 .8l3.1 .8l3.1 .8l3.1 .8l3 .9l3.1 .8z"/><path color="#484" d="M107.5 67.5l-3.4-.9l2.2-.8l3.1 .8z"/><path color="#483" d="M109.4 66.4l-1.9 1.1l1.9-.9l1.8-1.1z"/><path color="#b90" d="M144.5 79.2l-5.9-2.1l-5.8-2.2l-5.8-2.1l-5.9-2.2l-5.8-2.1l-5.9-2.1l1.8-.9l5.8 2.1l5.8 2.1l5.8 2.1l5.7 2.1l5.8 2.1l5.8 2.2z"/><path color="#9c2" d="M65.6 57.7l-1.7-.7l-1.7-.6l-1.7-.6l-1.8-.7l-1.7-.6l-1.7-.6l1.4-1.3l2.3 .8l2.3 .9l2.3 .8l2.3 .9l2.3 .8l2.3 .9z"/><path color="#483" d="M76.4 60.6l-3.6-1l-3.6-1l-3.6-.9l4.9 0l3.4 .8l3.3 .9l3.4 .9z"/><path color="#484" d="M105.3 68.4l-3.6-1l-3.6-1l-3.6-.9l-3.6-1l-3.6-1l-3.6-1l-3.7-.9l-3.6-1l4.2-.3l3.4 .9l3.3 .9l3.4 .9l3.3 .9l3.4 .9l3.4 .9l3.3 .9l3.4 .9z"/><path color="#483" d="M107.4 67.2l-2.1 1.2l2.2-.9l1.9-1.1z"/><path color="#ba0" d="M143.1 80.3l-6-2.2l-5.9-2.2l-6-2.2l-5.9-2.1l-6-2.2l-5.9-2.2l2-.8l5.9 2.1l5.8 2.1l5.9 2.2l5.8 2.1l5.8 2.2l5.9 2.1z"/><path color="#9c3" d="M60.7 57.7l-1.1-.4l-1.2-.5l-1.1-.4l-1.2-.4l-1.1-.4l-1.1-.4l1.4-1.3l1.7 .6l1.7 .6l1.8 .7l1.7 .6l1.7 .6l1.7 .7z"/><path color="#484" d="M103 69.2l-3.9-1l-3.8-1.1l-3.8-1l-3.9-1.1l-3.8-1l-3.9-1.1l-3.8-1l-3.9-1.1l-3.8-1l-3.8-1.1l-3.9-1l4.9 0l3.6 .9l3.6 1l3.6 1l3.6 1l3.7 .9l3.6 1l3.6 1l3.6 1l3.6 .9l3.6 1l3.6 1z"/><path color="#483" d="M105.2 68.1l-2.2 1.1l2.3-.8l2.1-1.2z"/><path color="#ba0" d="M141.6 81.4l-6-2.2l-6.1-2.3l-6.1-2.2l-6-2.2l-6.1-2.2l-6.1-2.2l2.2-.9l5.9 2.2l6 2.2l5.9 2.1l6 2.2l5.9 2.2l6 2.2z"/><path color="#8c4" d="M55.8 57.7l-.5-.2l-.6-.2l-.6-.2l-.5-.3l-.6-.2l-.6-.2l1.5-1.2l1.1 .4l1.1 .4l1.2 .4l1.1 .4l1.2 .5l1.1 .4z"/><path color="#484" d="M103 69l-2.3 1.1l-4.1-1.1l-4.1-1.2l-4.1-1.1l-4-1.1l-4.1-1.2l-4.1-1.1l-4.1-1.1l-4-1.1l-4.1-1.2l-4.1-1.1l-4.1-1.1l4.9 0l3.9 1l3.8 1.1l3.8 1l3.9 1.1l3.8 1l3.9 1.1l3.8 1l3.9 1.1l3.8 1l3.8 1.1l3.9 1l2.2-1.1z"/><path color="#bb0" d="M140.2 82.6l-6.2-2.3l-6.2-2.3l-6.2-2.2l-6.2-2.3l-6.2-2.3l-6.2-2.2l2.2-.9l6.1 2.2l6.1 2.2l6 2.2l6.1 2.2l6.1 2.3l6 2.2z"/><path color="#7c4" d="M51 57.6l1.4-1.2l.6 .2l.6 .2l.5 .3l.6 .2l.6 .2z"/><path color="#7b4" d="M51 57.6l4.3-.1l.5 .2z"/><path color="#484" d="M100.9 70l-2.5 1l-4.3-1.2l-4.3-1.2l-4.3-1.2l-4.3-1.2l-4.3-1.2l-4.3-1.3l-4.4-1.2l-4.3-1.2l-4.3-1.2l-4.3-1.2l-4.3-1.3l4.8 .1l4.1 1.1l4.1 1.1l4.1 1.2l4 1.1l4.1 1.1l4.1 1.1l4.1 1.2l4 1.1l4.1 1.1l4.1 1.2l4.1 1.1l2.3-1.1z"/><path color="#bc0" d="M138.8 83.8l-6.3-2.3l-6.3-2.3l-6.4-2.3l-6.3-2.3l-6.3-2.3l-6.3-2.3l2.1-1l6.2 2.2l6.2 2.3l6.2 2.3l6.2 2.2l6.2 2.3l6.2 2.3z"/><path color="#484" d="M99 71.1l-2.5 .9l-4.3-1.1l-4.2-1.2l-4.3-1.3l-4.3-1.2l-4.2-1.2l-4.3-1.3l-4.3-1.2l-4.2-1.2l-4.3-1.3l-4.3-1.2l-4.2-1.2l1.4-1l4.3 1.3l4.3 1.2l4.3 1.2l4.3 1.2l4.4 1.2l4.3 1.3l4.3 1.2l4.3 1.2l4.3 1.2l4.3 1.2l4.3 1.2l2.5-1z"/><path color="#bc1" d="M137.4 85.2l-6.4-2.4l-6.4-2.3l-6.4-2.4l-6.4-2.3l-6.4-2.3l-6.4-2.4l1.9-1.1l6.3 2.3l6.3 2.3l6.3 2.3l6.4 2.3l6.3 2.3l6.3 2.3z"/><path color="#484" d="M92 72.6l-2.9-.8l-3-.9l-2.9-.8l-2.9-.8l-2.9-.9l-2.9-.8l-3-.8l-2.9-.9l-2.9-.8l-2.9-.8l-3-.9l-2.9-.8l-2.9-.8l-2.9-.9l-2.9-.8l1.4-1.5l4.2 1.2l4.3 1.2l4.3 1.3l4.2 1.2l4.3 1.2l4.3 1.3l4.2 1.2l4.3 1.2l4.3 1.3z"/><path color="#494" d="M96.1 72.9l-1.2 .5l-2.9-.8l-4-2.9l4.2 1.2l4.3 1.1z"/><path color="#484" d="M97.4 72.5l-1.3 .4l.4-.9l2.5-.9z"/><path color="#ac2" d="M135.9 86.6l-6.4-2.4l-6.4-2.3l-6.5-2.4l-6.4-2.3l-6.4-2.4l-6.4-2.3l1.6-1.4l6.4 2.4l6.4 2.3l6.4 2.3l6.4 2.4l6.4 2.3l6.4 2.4z"/><path color="#5b6" d="M49.6 62.3l-2.9-.9l1.5-1.3l2.9 .8z"/><path color="#5c6" d="M52.5 63.1l-2.9-.8l1.5-1.4l2.9 .9z"/><path color="#6c6" d="M64.2 66.5l-2.9-.9l-2.9-.8l-3-.9l-2.9-.8l1.5-1.3l2.9 .8l2.9 .8l3 .9l2.9 .8z"/><path color="#6c5" d="M70.1 68.2l-3-.9l-2.9-.8l1.5-1.4l2.9 .8l2.9 .9z"/><path color="#7c5" d="M81.7 71.5l-2.9-.8l-2.9-.9l-2.9-.8l-2.9-.8l1.4-1.4l3 .8l2.9 .8l2.9 .9l2.9 .8z"/><path color="#7c4" d="M87.6 73.2l-2.9-.8l-3-.9l1.5-1.4l2.9 .8l3 .9z"/><path color="#8c4" d="M93.4 74.9l-2.9-.8l-2.9-.9l1.5-1.4l2.9 .8l2.9 .8z"/><path color="#682" d="M95.9 74l-1.2 .4l-1.3 .5l1.5-1.5l1.2-.5l1.3-.4z"/><path color="#9c3" d="M134.4 88.1l-6.4-2.4l-6.4-2.3l-6.4-2.4l-6.5-2.3l-6.4-2.4l-6.4-2.3l1.5-1.5l6.4 2.3l6.4 2.4l6.4 2.3l6.5 2.4l6.4 2.3l6.4 2.4z"/><path color="#4c7" d="M48.1 63.7l-2.9-.8l1.5-1.5l2.9 .9z"/><path color="#5c7" d="M59.8 67.1l-2.9-.8l-2.9-.9l-3-.8l-2.9-.9l1.5-1.4l2.9 .8l2.9 .8l3 .9l2.9 .8z"/><path color="#5c6" d="M65.6 68.8l-2.9-.8l-2.9-.9l1.5-1.5l2.9 .9l2.9 .8z"/><path color="#6c6" d="M77.3 72.2l-2.9-.9l-2.9-.8l-2.9-.8l-3-.9l1.5-1.5l3 .9l2.9 .8l2.9 .8l2.9 .9z"/><path color="#6c5" d="M83.2 73.9l-2.9-.9l-3-.8l1.5-1.5l2.9 .8l3 .9z"/><path color="#7c5" d="M91.9 76.4l-2.9-.8l-2.9-.9l-2.9-.8l1.5-1.5l2.9 .8l2.9 .9l2.9 .8z"/><path color="#593" d="M93.2 76l-1.3 .4l1.5-1.5l1.3-.5z"/><path color="#693" d="M94.4 75.6l-1.2 .4l1.5-1.6l1.2-.4z"/><path color="#9c3" d="M133 89.7l-6.5-2.4l-6.4-2.3l-6.4-2.4l-6.4-2.3l-6.5-2.4l-6.4-2.3l1.5-1.6l6.4 2.3l6.4 2.4l6.5 2.3l6.4 2.4l6.4 2.3l6.4 2.4z"/><path color="#4c8" d="M58.3 68.7l-2.9-.8l-2.9-.9l-2.9-.8l-3-.9l-2.9-.8l1.5-1.6l2.9 .8l2.9 .9l3 .8l2.9 .9l2.9 .8z"/><path color="#4c7" d="M61.2 69.6l-2.9-.9l1.5-1.6l2.9 .9z"/><path color="#5c7" d="M75.8 73.8l-2.9-.8l-2.9-.9l-2.9-.8l-2.9-.9l-3-.8l1.5-1.6l2.9 .8l3 .9l2.9 .8l2.9 .8l2.9 .9z"/><path color="#5c6" d="M78.8 74.7l-3-.9l1.5-1.6l3 .8z"/><path color="#6c6" d="M90.5 78.1l-3-.9l-2.9-.8l-2.9-.9l-2.9-.8l1.5-1.7l2.9 .9l2.9 .8l2.9 .9l2.9 .8z"/><path color="#594" d="M91.7 77.6l-1.2 .5l1.4-1.7l1.3-.4z"/><path color="#694" d="M92.9 77.2l-1.2 .4l1.5-1.6l1.2-.4z"/><path color="#8c4" d="M131.5 91.3l-6.5-2.4l-6.4-2.3l-6.4-2.4l-6.4-2.3l-6.5-2.4l-6.4-2.3l1.5-1.6l6.4 2.3l6.5 2.4l6.4 2.3l6.4 2.4l6.4 2.3l6.5 2.4z"/><path color="#3c9" d="M59.8 71.3l-3-.9l-2.9-.8l-2.9-.9l-2.9-.8l-3-.8l-2.9-.9l1.5-1.7l2.9 .8l3 .9l2.9 .8l2.9 .9l2.9 .8l2.9 .9z"/><path color="#4c8" d="M77.3 76.4l-2.9-.9l-3-.8l-2.9-.9l-2.9-.8l-2.9-.9l-2.9-.8l1.4-1.7l3 .8l2.9 .9l2.9 .8l2.9 .9l2.9 .8l3 .9z"/><path color="#5c7" d="M89 79.8l-2.9-.9l-3-.8l-2.9-.9l-2.9-.8l1.5-1.7l2.9 .8l2.9 .9l2.9 .8l3 .9z"/><path color="#495" d="M90.2 79.3l-1.2 .5l1.5-1.7l1.2-.5z"/><path color="#595" d="M91.4 78.9l-1.2 .4l1.5-1.7l1.2-.4z"/><path color="#7c5" d="M130 93l-6.4-2.4l-6.5-2.3l-6.4-2.4l-6.4-2.3l-6.4-2.4l-6.5-2.3l1.5-1.7l6.4 2.3l6.5 2.4l6.4 2.3l6.4 2.4l6.4 2.3l6.5 2.4z"/><path color="#2cb" d="M43.7 68.9l-3-.8l1.5-1.9l2.9 .9z"/><path color="#2ca" d="M58.3 73.1l-3-.8l-2.9-.9l-2.9-.8l-2.9-.8l-2.9-.9l1.4-1.8l3 .8l2.9 .8l2.9 .9l2.9 .8l3 .9z"/><path color="#3ca" d="M61.2 74l-2.9-.9l1.5-1.8l2.9 .8z"/><path color="#3c9" d="M75.8 78.2l-2.9-.9l-2.9-.8l-3-.8l-2.9-.9l-2.9-.8l1.5-1.9l2.9 .9l2.9 .8l2.9 .9l3 .8l2.9 .9z"/><path color="#4c9" d="M78.7 79l-2.9-.8l1.5-1.8l2.9 .8z"/><path color="#4c8" d="M87.5 81.5l-2.9-.8l-3-.8l-2.9-.9l1.5-1.8l2.9 .9l3 .8l2.9 .9z"/><path color="#4a6" d="M88.7 81.1l-1.2 .4l1.5-1.7l1.2-.5z"/><path color="#4a5" d="M90 80.6l-1.3 .5l1.5-1.8l1.2-.4z"/><path color="#6c7" d="M128.5 94.7l-6.4-2.3l-6.4-2.4l-6.5-2.3l-6.4-2.4l-6.4-2.3l-6.4-2.4l1.4-1.7l6.5 2.3l6.4 2.4l6.4 2.3l6.4 2.4l6.5 2.3l6.4 2.4z"/><path color="#0cc" d="M42.2 70.9l-2.9-.8l1.4-2l3 .8z"/><path color="#1cc" d="M48 72.5l-2.9-.8l-2.9-.8l1.5-2l2.9 .9l2.9 .8z"/><path color="#1cb" d="M59.7 75.9l-2.9-.9l-2.9-.8l-3-.8l-2.9-.9l1.5-1.9l2.9 .8l2.9 .9l3 .8l2.9 .9z"/><path color="#2cb" d="M62.6 76.7l-2.9-.8l1.5-1.9l2.9 .8z"/><path color="#2ca" d="M77.2 80.8l-2.9-.8l-2.9-.8l-2.9-.8l-2.9-.9l-3-.8l1.5-1.9l2.9 .9l3 .8l2.9 .8l2.9 .9l2.9 .8z"/><path color="#3c9" d="M86 83.3l-2.9-.8l-2.9-.8l-3-.9l1.5-1.8l2.9 .9l3 .8l2.9 .8z"/><path color="#3a7" d="M87.2 82.9l-1.2 .4l1.5-1.8l1.2-.4z"/><path color="#3a6" d="M88.5 82.5l-1.3 .4l1.5-1.8l1.3-.5z"/><path color="#4c8" d="M127 96.6l-6.4-2.4l-6.4-2.3l-6.5-2.4l-6.4-2.3l-6.4-2.4l-6.4-2.3l1.5-1.9l6.4 2.4l6.4 2.3l6.4 2.4l6.5 2.3l6.4 2.4l6.4 2.3z"/><path color="#0bc" d="M40.7 72.9l-2.9-.8l1.5-2l2.9 .8z"/><path color="#0cc" d="M61.1 78.6l-2.9-.8l-2.9-.8l-2.9-.8l-2.9-.8l-3-.8l-2.9-.9l-2.9-.8l1.5-2l2.9 .8l2.9 .8l2.9 .9l3 .8l2.9 .8l2.9 .9l2.9 .8z"/><path color="#1cc" d="M67 80.3l-2.9-.8l-3-.9l1.5-1.9l3 .8l2.9 .9z"/><path color="#1cb" d="M78.7 83.5l-2.9-.8l-3-.8l-2.9-.8l-2.9-.8l1.5-1.9l2.9 .8l2.9 .8l2.9 .8l3 .9z"/><path color="#2ca" d="M84.5 85.2l-2.9-.9l-2.9-.8l1.5-1.8l2.9 .8l2.9 .8z"/><path color="#2a8" d="M85.8 84.8l-1.3 .4l1.5-1.9l1.2-.4z"/><path color="#3a8" d="M87 84.4l-1.2 .4l1.4-1.9l1.3-.4z"/><path color="#3c9" d="M125.5 98.5l-6.4-2.3l-6.4-2.4l-6.4-2.3l-6.5-2.4l-6.4-2.3l-6.4-2.4l1.5-1.9l6.4 2.3l6.4 2.4l6.4 2.3l6.5 2.4l6.4 2.3l6.4 2.4z"/><path color="#0ac" d="M39.8 74.2l-2.9-.8l.9-1.3l2.9 .8z"/><path color="#0bc" d="M57.3 79l-2.9-.8l-2.9-.8l-2.9-.8l-2.9-.8l-3-.8l-2.9-.8l.9-1.3l2.9 .8l2.9 .9l3 .8l2.9 .8l2.9 .8l2.9 .8z"/><path color="#0cc" d="M74.9 83.9l-3-.8l-2.9-.8l-2.9-.8l-2.9-.8l-2.9-.8l-3-.9l.9-1.2l2.9 .8l3 .9l2.9 .8l2.9 .8l2.9 .8l3 .8z"/><path color="#1cc" d="M80.7 85.5l-2.9-.8l-2.9-.8l.9-1.2l2.9 .8l2.9 .8z"/><path color="#1cb" d="M83.6 86.3l-2.9-.8l.9-1.2l2.9 .9z"/><path color="#1ba" d="M84.9 86l-1.3 .3l.9-1.1l1.3-.4z"/><path color="#2b9" d="M86.1 85.7l-1.2 .3l.9-1.2l1.2-.4z"/><path color="#2ca" d="M124.7 99.8l-6.5-2.4l-6.4-2.3l-6.4-2.4l-6.5-2.3l-6.4-2.4l-6.4-2.3l.9-1.3l6.4 2.4l6.4 2.3l6.5 2.4l6.4 2.3l6.4 2.4l6.4 2.3z"/><path color="#0ac" d="M50.6 78.7l-2.9-.8l-2.9-.8l-3-.8l-2.9-.8l-2.9-.8l.9-1.3l2.9 .8l2.9 .8l3 .8l2.9 .8l2.9 .8z"/><path color="#0bc" d="M65.2 82.7l-2.9-.8l-2.9-.8l-2.9-.8l-3-.8l-2.9-.8l.9-1.3l2.9 .8l2.9 .8l3 .9l2.9 .8l2.9 .8z"/><path color="#0cc" d="M82.8 87.5l-3-.8l-2.9-.8l-2.9-.8l-2.9-.8l-3-.8l-2.9-.8l.9-1.2l2.9 .8l2.9 .8l3 .8l2.9 .8l2.9 .8l2.9 .8z"/><path color="#1bb" d="M84 87.2l-1.2 .3l.8-1.2l1.3-.3z"/><path color="#1ba" d="M85.2 86.9l-1.2 .3l.9-1.2l1.2-.3z"/><path color="#1db" d="M123.8 101l-6.5-2.3l-6.4-2.4l-6.4-2.3l-6.4-2.4l-6.5-2.3l-6.4-2.4l.9-1.2l6.4 2.3l6.4 2.4l6.5 2.3l6.4 2.4l6.4 2.3l6.5 2.4z"/><path color="#09d" d="M49.7 80.1l-2.9-.8l-2.9-.8l-2.9-.8l-3-.8l-2.9-.8l.9-1.4l2.9 .8l2.9 .8l3 .8l2.9 .8l2.9 .8z"/><path color="#0ad" d="M52.6 80.9l-2.9-.8l.9-1.4l2.9 .8z"/><path color="#0ac" d="M61.4 83.2l-2.9-.8l-2.9-.7l-3-.8l.9-1.4l3 .8l2.9 .8l2.9 .8z"/><path color="#0bc" d="M76 87.2l-2.9-.8l-2.9-.8l-2.9-.8l-3-.8l-2.9-.8l.9-1.3l2.9 .8l2.9 .8l3 .8l2.9 .8l2.9 .8z"/><path color="#0cc" d="M81.9 88.7l-3-.7l-2.9-.8l.9-1.3l2.9 .8l3 .8z"/><path color="#0bb" d="M83.1 88.5l-1.2 .2l.9-1.2l1.2-.3z"/><path color="#0cb" d="M84.3 88.3l-1.2 .2l.9-1.3l1.2-.3z"/><path color="#1dc" d="M122.9 102.4l-6.4-2.4l-6.5-2.3l-6.4-2.4l-6.4-2.3l-6.5-2.4l-6.4-2.3l.9-1.4l6.4 2.4l6.5 2.3l6.4 2.4l6.4 2.3l6.4 2.4l6.5 2.3z"/><path color="#08d" d="M45.9 80.7l-2.9-.8l-2.9-.7l-3-.8l-2.9-.8l.9-1.5l2.9 .8l3 .8l2.9 .8l2.9 .8z"/><path color="#09d" d="M60.5 84.6l-2.9-.8l-2.9-.8l-2.9-.7l-3-.8l-2.9-.8l.9-1.4l2.9 .8l2.9 .8l3 .8l2.9 .7l2.9 .8z"/><path color="#0ad" d="M69.3 86.9l-2.9-.7l-3-.8l-2.9-.8l.9-1.4l2.9 .8l3 .8l2.9 .8z"/><path color="#0ac" d="M72.2 87.7l-2.9-.8l.9-1.3l2.9 .8z"/><path color="#0bc" d="M83.4 89.7l-1.2 .2l-1.2 .1l-2.9-.7l-3-.8l-2.9-.8l.9-1.3l2.9 .8l2.9 .8l3 .7l1.2-.2l1.2-.2z"/><path color="#0cd" d="M122 103.8l-6.4-2.4l-6.5-2.3l-6.4-2.4l-6.4-2.3l-6.4-2.4l-6.5-2.3l.9-1.4l6.4 2.3l6.5 2.4l6.4 2.3l6.4 2.4l6.5 2.3l6.4 2.4z"/><path color="#07d" d="M45 82.2l-2.9-.8l-2.9-.7l-2.9-.8l-3-.7l.9-1.6l2.9 .8l3 .8l2.9 .7l2.9 .8z"/><path color="#08d" d="M56.7 85.3l-2.9-.8l-2.9-.8l-3-.7l-2.9-.8l.9-1.5l2.9 .8l3 .8l2.9 .7l2.9 .8z"/><path color="#09d" d="M71.3 89.1l-2.9-.8l-2.9-.7l-2.9-.8l-3-.8l-2.9-.7l.9-1.5l2.9 .8l2.9 .8l3 .8l2.9 .7l2.9 .8z"/><path color="#0ad" d="M80.1 91.4l-2.9-.8l-3-.7l-2.9-.8l.9-1.4l2.9 .8l3 .8l2.9 .7z"/><path color="#0ac" d="M82.5 91.1l-1.2 .1l-1.2 .2l.9-1.4l1.2-.1l1.2-.2z"/><path color="#0bd" d="M121.1 105.2l-6.4-2.4l-6.4-2.3l-6.5-2.4l-6.4-2.3l-6.4-2.4l-6.5-2.3l.9-1.4l6.5 2.3l6.4 2.4l6.4 2.3l6.4 2.4l6.5 2.3l6.4 2.4z"/><path color="#06d" d="M44.1 83.8l-2.9-.8l-2.9-.7l-2.9-.8l-3-.7l.9-1.6l3 .7l2.9 .8l2.9 .7l2.9 .8z"/><path color="#07d" d="M55.8 86.8l-2.9-.8l-2.9-.7l-2.9-.8l-3-.7l.9-1.6l2.9 .8l3 .7l2.9 .8l2.9 .8z"/><path color="#08d" d="M67.5 89.8l-2.9-.8l-2.9-.7l-3-.8l-2.9-.7l.9-1.5l2.9 .7l3 .8l2.9 .8l2.9 .7z"/><path color="#09d" d="M79.2 92.8l-2.9-.8l-2.9-.7l-3-.8l-2.9-.7l.9-1.5l2.9 .8l2.9 .8l3 .7l2.9 .8z"/><path color="#09c" d="M80.4 92.7l-1.2 .1l.9-1.4l1.2-.2z"/><path color="#0ac" d="M81.7 92.6l-1.3 .1l.9-1.5l1.2-.1z"/><path color="#0ad" d="M120.2 106.7l-6.4-2.4l-6.4-2.3l-6.5-2.4l-6.4-2.3l-6.4-2.4l-6.4-2.3l.8-1.5l6.5 2.3l6.4 2.4l6.4 2.3l6.5 2.4l6.4 2.3l6.4 2.4z"/><path color="#04d" d="M34.5 83.3l-2.9-.7l.8-1.8l3 .7z"/><path color="#05d" d="M43.2 85.5l-2.9-.7l-2.9-.7l-2.9-.8l.9-1.8l2.9 .8l2.9 .7l2.9 .8z"/><path color="#06d" d="M54.9 88.5l-2.9-.8l-2.9-.7l-2.9-.7l-3-.8l.9-1.7l3 .7l2.9 .8l2.9 .7l2.9 .8z"/><path color="#07d" d="M66.6 91.4l-2.9-.7l-2.9-.8l-2.9-.7l-3-.7l.9-1.7l2.9 .7l3 .8l2.9 .7l2.9 .8z"/><path color="#08d" d="M78.3 94.3l-2.9-.7l-2.9-.7l-3-.8l-2.9-.7l.9-1.6l2.9 .7l3 .8l2.9 .7l2.9 .8z"/><path color="#08c" d="M79.5 94.3l-1.2 0l.9-1.5l1.2-.1z"/><path color="#09c" d="M80.8 94.2l-1.3 .1l.9-1.6l1.3-.1z"/><path color="#09d" d="M119.3 108.3l-6.4-2.4l-6.4-2.3l-6.5-2.4l-6.4-2.3l-6.4-2.4l-6.4-2.3l.9-1.6l6.4 2.3l6.4 2.4l6.4 2.3l6.5 2.4l6.4 2.3l6.4 2.4z"/><path color="#03d" d="M36.5 86.1l-2.9-.8l-2.9-.7l.9-2l2.9 .7l2.9 .8z"/><path color="#04d" d="M48.2 88.9l-2.9-.7l-2.9-.7l-3-.7l-2.9-.7l.9-2l2.9 .7l2.9 .7l3 .8l2.9 .7z"/><path color="#05d" d="M57 91l-3-.7l-2.9-.7l-2.9-.7l.9-1.9l2.9 .7l2.9 .8l3 .7z"/><path color="#06d" d="M68.7 93.9l-3-.7l-2.9-.7l-2.9-.8l-2.9-.7l.9-1.8l2.9 .7l2.9 .8l2.9 .7l2.9 .7z"/><path color="#07d" d="M78.7 96l-1.3 0l-2.9-.7l-2.9-.7l-2.9-.7l.8-1.8l3 .8l2.9 .7l2.9 .7l1.2 0z"/><path color="#08d" d="M118.4 110.1l-6.4-2.4l-6.4-2.3l-6.4-2.4l-6.5-2.3l-6.4-2.4l-6.4-2.3l-1.2 0l.8-1.7l1.3-.1l6.4 2.3l6.4 2.4l6.4 2.3l6.5 2.4l6.4 2.3l6.4 2.4z"/><path color="#02d" d="M41.5 89.6l-3-.7l-2.9-.7l-2.9-.7l-2.9-.7l.9-2.2l2.9 .7l2.9 .8l2.9 .7l3 .7z"/><path color="#03d" d="M50.2 91.7l-2.9-.7l-2.9-.7l-2.9-.7l.9-2.1l2.9 .7l2.9 .7l2.9 .7z"/><path color="#04d" d="M59 93.8l-2.9-.7l-2.9-.7l-3-.7l.9-2.1l2.9 .7l3 .7l2.9 .7z"/><path color="#05d" d="M70.7 96.6l-2.9-.7l-3-.7l-2.9-.7l-2.9-.7l.9-2.1l2.9 .8l2.9 .7l3 .7l2.9 .7z"/><path color="#06d" d="M77.8 98l-1.3-.1l-2.9-.6l-2.9-.7l.9-2l2.9 .7l2.9 .7l1.3 0z"/><path color="#07d" d="M117.6 112.1l-6.5-2.3l-6.4-2.4l-6.4-2.3l-6.5-2.4l-6.4-2.3l-6.4-2.4l-1.2 0l.9-2l1.2 0l6.4 2.3l6.4 2.4l6.5 2.3l6.4 2.4l6.4 2.3l6.4 2.4z"/><path color="#00d" d="M37.7 91.2l-3-.7l-2.9-.7l-2.9-.7l.9-2.3l2.9 .7l2.9 .7l2.9 .7z"/><path color="#01d" d="M46.4 93.3l-2.9-.7l-2.9-.7l-2.9-.7l.8-2.3l3 .7l2.9 .7l2.9 .7z"/><path color="#02d" d="M55.2 95.3l-2.9-.7l-3-.6l-2.9-.7l.9-2.3l2.9 .7l3 .7l2.9 .7z"/><path color="#03d" d="M64 97.4l-3-.7l-2.9-.7l-2.9-.7l.9-2.2l2.9 .7l2.9 .7l2.9 .7z"/><path color="#04d" d="M72.7 99.5l-2.9-.7l-2.9-.7l-2.9-.7l.8-2.2l3 .7l2.9 .7l2.9 .7z"/><path color="#05d" d="M116.7 114.4l-6.5-2.3l-6.4-2.4l-6.4-2.3l-6.4-2.4l-6.5-2.3l-6.4-2.4l-1.2-.1l-1.3-.1l-2.9-.6l.9-2.2l2.9 .6l1.3 .1l1.2 0l6.4 2.4l6.4 2.3l6.5 2.4l6.4 2.3l6.4 2.4l6.5 2.3z"/><path color="#00b" d="M30.9 92.5l-2.9-.8l.9-2.6l2.9 .7z"/><path color="#00c" d="M39.7 94.7l-2.9-.8l-2.9-.7l-3-.7l.9-2.7l2.9 .7l3 .7l2.9 .7z"/><path color="#00d" d="M54.3 98.3l-2.9-.7l-2.9-.7l-3-.8l-2.9-.7l-2.9-.7l.9-2.8l2.9 .7l2.9 .7l2.9 .7l3 .6l2.9 .7z"/><path color="#01d" d="M57.2 99.1l-2.9-.8l.9-3l2.9 .7z"/><path color="#01e" d="M63.1 100.5l-2.9-.7l-3-.7l.9-3.1l2.9 .7l3 .7z"/><path color="#02e" d="M74.8 103.5l-3-.8l-2.9-.7l-2.9-.7l-2.9-.8l.9-3.1l2.9 .7l2.9 .7l2.9 .7l2.9 .6z"/><path color="#03e" d="M115.8 118l-6.5-2.4l-6.4-2.3l-6.4-2.4l-6.4-2.3l-6.5-2.4l-6.4-2.4l-1.2-.1l-1.2-.2l.8-3.4l1.3 .1l1.2 .1l6.4 2.4l6.5 2.3l6.4 2.4l6.4 2.3l6.4 2.4l6.5 2.3z"/><path color="#009" d="M33 96.3l-3-.8l-2.9-.9l.9-2.9l2.9 .8l3 .7z"/><path color="#00a" d="M41.7 98.9l-2.9-.9l-2.9-.8l-2.9-.9l.9-3.1l2.9 .7l2.9 .8l2.9 .7z"/><path color="#00b" d="M53.4 102.2l-2.9-.8l-2.9-.8l-2.9-.9l-3-.8l.9-3.5l2.9 .7l3 .8l2.9 .7l2.9 .7z"/><path color="#00c" d="M65.1 105.6l-2.9-.8l-2.9-.9l-3-.8l-2.9-.9l.9-3.9l2.9 .8l3 .7l2.9 .7l2.9 .8z"/><path color="#00d" d="M76.3 108.8l-1.2-.3l-1.2-.3l-2.9-.9l-3-.8l-2.9-.9l.9-4.3l2.9 .7l2.9 .7l3 .8l1.2 .2l1.2 .1z"/><path color="#00e" d="M114.9 122.9l-6.4-2.3l-6.5-2.4l-6.4-2.3l-6.4-2.4l-6.4-2.3l-6.5-2.4l.9-5l6.4 2.4l6.5 2.4l6.4 2.3l6.4 2.4l6.4 2.3l6.5 2.4z"/><path color="#007" d="M40.8 102.4l-2.9-1l-2.9-.9l-2.9-1l-2.9-1l-3-.9l.9-3l2.9 .9l3 .8l2.9 .9l2.9 .8l2.9 .9z"/><path color="#008" d="M58.4 108.2l-2.9-1l-3-1l-2.9-.9l-2.9-1l-2.9-1l-3-.9l.9-3.5l3 .8l2.9 .9l2.9 .8l2.9 .8l2.9 .9l3 .8z"/><path color="#009" d="M114 127.9l-6.4-2.3l-6.5-2.4l-6.4-2.3l-6.4-2.4l-6.4-2.3l-6.5-2.4l-1.2-.4l-1.2-.4l-2.9-1l-3-.9l-2.9-1l-2.9-1l-2.9-.9l.9-4.3l2.9 .9l2.9 .8l2.9 .9l3 .8l2.9 .9l1.2 .3l1.2 .3l6.5 2.4l6.4 2.3l6.4 2.4l6.4 2.3l6.5 2.4l6.4 2.3z"/></g><path d="M176.3 39.3L177.2 39.6L178.1 39.9L179 40.2L179.8 40.5L180.7 40.8L181.6 41.1L182.5 41.4L183.4 41.7L184.3 42L185.2 42.3L186.1 42.6L187 42.9L187.8 43.2L188.7 43.5L189.6 43.8L190.5 44.1L191.4 44.4L192.3 44.7L193.2 45L194.1 45.3L194.9 45.6L195.8 45.9L196.7 46.2L197.6 46.5L198.5 46.8L199.4 47.1L200.3 47.4L201.2 47.7L202.1 48L202.9 48.3L203.8 48.6L204.7 48.9L205.6 49.2L206.5 49.5L207.4 49.8L208.3 50.1L209.2 50.4L210 50.7L210.9 51" fill="none" stroke="#000" stroke-opacity="0.55" stroke-width="1.0"/><path d="M24.6 30.1L24.6 100.3L114.0 133.0L229.4 108.5" fill="none" stroke="#c4c4c4" stroke-width="1"/><line x1="309.4" y1="100.7" x2="424.7" y2="76.4" stroke="#f0f0f0" stroke-width="0.6"/><line x1="424.7" y1="76.4" x2="511.5" y2="108.7" stroke="#f0f0f0" stroke-width="0.6"/><line x1="309.4" y1="65.7" x2="424.7" y2="41.4" stroke="#f0f0f0" stroke-width="0.6"/><line x1="424.7" y1="41.4" x2="511.5" y2="73.7" stroke="#f0f0f0" stroke-width="0.6"/><line x1="309.4" y1="30.7" x2="424.7" y2="6.4" stroke="#f0f0f0" stroke-width="0.6"/><line x1="424.7" y1="6.4" x2="511.5" y2="38.7" stroke="#f0f0f0" stroke-width="0.6"/><line x1="309.4" y1="30.7" x2="424.7" y2="6.4" stroke="#f0f0f0" stroke-width="0.6"/><line x1="424.7" y1="6.4" x2="511.5" y2="38.7" stroke="#f0f0f0" stroke-width="0.6"/><line x1="309.4" y1="100.7" x2="309.4" y2="30.7" stroke="#f0f0f0" stroke-width="0.6"/><line x1="396.2" y1="133.0" x2="309.4" y2="100.7" stroke="#f0f0f0" stroke-width="0.6"/><line x1="338.2" y1="94.6" x2="338.2" y2="24.6" stroke="#f0f0f0" stroke-width="0.6"/><line x1="425.0" y1="126.9" x2="338.2" y2="94.6" stroke="#f0f0f0" stroke-width="0.6"/><line x1="367.0" y1="88.6" x2="367.0" y2="18.6" stroke="#f0f0f0" stroke-width="0.6"/><line x1="453.9" y1="120.8" x2="367.0" y2="88.6" stroke="#f0f0f0" stroke-width="0.6"/><line x1="395.9" y1="82.5" x2="395.9" y2="12.5" stroke="#f0f0f0" stroke-width="0.6"/><line x1="482.7" y1="114.8" x2="395.9" y2="82.5" stroke="#f0f0f0" stroke-width="0.6"/><line x1="424.7" y1="76.4" x2="424.7" y2="6.4" stroke="#f0f0f0" stroke-width="0.6"/><line x1="511.5" y1="108.7" x2="424.7" y2="76.4" stroke="#f0f0f0" stroke-width="0.6"/><line x1="511.5" y1="108.7" x2="511.5" y2="38.7" stroke="#f0f0f0" stroke-width="0.6"/><line x1="396.2" y1="133.0" x2="511.5" y2="108.7" stroke="#f0f0f0" stroke-width="0.6"/><line x1="486.7" y1="99.5" x2="486.7" y2="29.5" stroke="#f0f0f0" stroke-width="0.6"/><line x1="371.4" y1="123.8" x2="486.7" y2="99.5" stroke="#f0f0f0" stroke-width="0.6"/><line x1="461.9" y1="90.2" x2="461.9" y2="20.2" stroke="#f0f0f0" stroke-width="0.6"/><line x1="346.6" y1="114.5" x2="461.9" y2="90.2" stroke="#f0f0f0" stroke-width="0.6"/><line x1="437.1" y1="81.0" x2="437.1" y2="11.0" stroke="#f0f0f0" stroke-width="0.6"/><line x1="321.8" y1="105.3" x2="437.1" y2="81.0" stroke="#f0f0f0" stroke-width="0.6"/><line x1="424.7" y1="76.4" x2="424.7" y2="6.4" stroke="#f0f0f0" stroke-width="0.6"/><line x1="511.5" y1="108.7" x2="511.5" y2="38.7" stroke="#f0f0f0" stroke-width="0.6"/><line x1="309.4" y1="100.7" x2="424.7" y2="76.4" stroke="#f0f0f0" stroke-width="0.6"/><line x1="424.7" y1="76.4" x2="511.5" y2="108.7" stroke="#f0f0f0" stroke-width="0.6"/><g fill="currentColor" stroke="currentColor" stroke-width=".7" stroke-linejoin="round"><path color="#900" d="M445.1 36.8l-10.7-4.4l-9.5-4.4l1.6-1.4l.4 .2l10.7 4.8l10.7 4.4z"/><path color="#700" d="M450.6 37.9l-5.5-1.1l3.2-.8l5.6 1.2z"/><path color="#400" d="M461.7 40l-5.5-1.1l-5.6-1l3.3-.7l5.5 1.1l5.5 1.2z"/><path color="#300" d="M467.2 41l-5.5-1l3.2-.5l5.5 1.2z"/><path color="#700" d="M477.9 46.4l-10.7-5.4l3.2-.3l10.7 5.2z"/><path color="#800" d="M488.6 51.6l-10.7-5.2l3.2-.5l10.3 4.9z"/><path color="#900" d="M489.8 52.2l-1.2-.6l2.8-.8z"/><path color="#a00" d="M441.9 37.7l-10.7-4.6l-7.9-3.7l1.6-1.4l9.5 4.4l10.7 4.4z"/><path color="#800" d="M447.4 38.6l-5.5-.9l3.2-.9l5.5 1.1z"/><path color="#400" d="M453 39.5l-5.6-.9l3.2-.7l5.6 1z"/><path color="#300" d="M464 41.3l-5.5-.9l-5.5-.9l3.2-.6l5.5 1.1l5.5 1z"/><path color="#800" d="M474.7 46.9l-10.7-5.6l3.2-.3l10.7 5.4z"/><path color="#900" d="M488.2 53.6l-2.8-1.3l-10.7-5.4l3.2-.5l10.7 5.2l1.2 .6z"/><path color="#b00" d="M438.7 38.6l-10.7-4.7l-6.3-3l1.6-1.5l7.9 3.7l10.7 4.6z"/><path color="#800" d="M444.2 39.3l-5.5-.7l3.2-.9l5.5 .9z"/><path color="#400" d="M449.8 40.1l-5.6-.8l3.2-.7l5.6 .9z"/><path color="#300" d="M460.8 41.6l-5.5-.7l-5.5-.8l3.2-.6l5.5 .9l5.5 .9z"/><path color="#800" d="M471.5 47.4l-10.7-5.8l3.2-.3l10.7 5.6z"/><path color="#900" d="M482.2 52.9l-10.7-5.5l3.2-.5l10.7 5.4z"/><path color="#a00" d="M486.6 55.1l-4.4-2.2l3.2-.6l2.8 1.3z"/><path color="#c00" d="M435.5 39.4l-10.7-4.7l-4.7-2.3l1.6-1.5l6.3 3l10.7 4.7z"/><path color="#900" d="M441 40l-5.5-.6l3.2-.8l5.5 .7z"/><path color="#500" d="M446.5 40.7l-5.5-.7l3.2-.7l5.6 .8z"/><path color="#300" d="M452.1 41.3l-5.6-.6l3.3-.6l5.5 .8z"/><path color="#200" d="M457.6 41.9l-5.5-.6l3.2-.4l5.5 .7z"/><path color="#900" d="M468.3 47.9l-10.7-6l3.2-.3l10.7 5.8z"/><path color="#a00" d="M479 53.6l-10.7-5.7l3.2-.5l10.7 5.5z"/><path color="#b00" d="M485 56.6l-6-3l3.2-.7l4.4 2.2z"/><path color="#c10" d="M432.3 40.3l-10.7-4.8l-3.2-1.5l1.7-1.6l4.7 2.3l10.7 4.7z"/><path color="#910" d="M437.8 40.8l-5.5-.5l3.2-.9l5.5 .6z"/><path color="#600" d="M443.3 41.3l-5.5-.5l3.2-.8l5.5 .7z"/><path color="#300" d="M448.9 41.8l-5.6-.5l3.2-.6l5.6 .6z"/><path color="#200" d="M454.4 42.3l-5.5-.5l3.2-.5l5.5 .6z"/><path color="#900" d="M465.1 48.4l-10.7-6.1l3.2-.4l10.7 6z"/><path color="#b00" d="M475.8 54.3l-10.7-5.9l3.2-.5l10.7 5.7z"/><path color="#c00" d="M483.4 58.1l-7.6-3.8l3.2-.7l6 3z"/><path color="#c20" d="M429.1 41.2l-10.7-4.9l-1.6-.7l1.6-1.6l3.2 1.5l10.7 4.8z"/><path color="#910" d="M434.6 41.5l-5.5-.3l3.2-.9l5.5 .5z"/><path color="#700" d="M440.1 41.9l-5.5-.4l3.2-.7l5.5 .5z"/><path color="#400" d="M445.7 42.2l-5.6-.3l3.2-.6l5.6 .5z"/><path color="#200" d="M451.2 42.6l-5.5-.4l3.2-.4l5.5 .5z"/><path color="#a00" d="M461.9 49l-10.7-6.4l3.2-.3l10.7 6.1z"/><path color="#c00" d="M472.6 55l-10.7-6l3.2-.6l10.7 5.9z"/><path color="#c10" d="M481.8 59.7l-9.2-4.7l3.2-.7l7.6 3.8z"/><path color="#c20" d="M415.2 37.2l1.6-1.6l1.6 .7z"/><path color="#c30" d="M425.9 42l-10.7-4.8l3.2-.9l10.7 4.9z"/><path color="#920" d="M431.4 42.3l-5.5-.3l3.2-.8l5.5 .3z"/><path color="#810" d="M436.9 42.5l-5.5-.2l3.2-.8l5.5 .4z"/><path color="#500" d="M442.4 42.7l-5.5-.2l3.2-.6l5.6 .3z"/><path color="#200" d="M448 43l-5.6-.3l3.3-.5l5.5 .4z"/><path color="#a00" d="M458.7 49.5l-10.7-6.5l3.2-.4l10.7 6.4z"/><path color="#c00" d="M469.4 55.7l-10.7-6.2l3.2-.5l10.7 6z"/><path color="#c20" d="M480.1 61.3l0 0l-10.7-5.6l3.2-.7l9.2 4.7z"/><path color="#c40" d="M422.7 43l-9.1-4.2l1.6-1.6l10.7 4.8z"/><path color="#920" d="M428.2 43l-5.5 0l3.2-1l5.5 .3z"/><path color="#910" d="M433.7 43.1l-5.5-.1l3.2-.7l5.5 .2z"/><path color="#600" d="M439.2 43.2l-5.5-.1l3.2-.6l5.5 .2z"/><path color="#300" d="M444.8 43.3l-5.6-.1l3.2-.5l5.6 .3z"/><path color="#b00" d="M455.5 50l-10.7-6.7l3.2-.3l10.7 6.5z"/><path color="#c10" d="M466.2 56.4l-10.7-6.4l3.2-.5l10.7 6.2z"/><path color="#c30" d="M478.5 63l-1.6-.9l-10.7-5.7l3.2-.7l10.7 5.6l0 0z"/><path color="#c50" d="M419.5 43.9l-7.5-3.4l1.6-1.7l9.1 4.2z"/><path color="#930" d="M425 43.8l-5.5 .1l3.2-.9l5.5 0z"/><path color="#920" d="M430.5 43.8l-5.5 0l3.2-.8l5.5 .1z"/><path color="#710" d="M436 43.7l-5.5 .1l3.2-.7l5.5 .1z"/><path color="#400" d="M441.6 43.7l-5.6 0l3.2-.5l5.6 .1z"/><path color="#c00" d="M452.3 50.6l-10.7-6.9l3.2-.4l10.7 6.7z"/><path color="#c20" d="M463 57.1l-10.7-6.5l3.2-.6l10.7 6.4z"/><path color="#c30" d="M473.7 63l-10.7-5.9l3.2-.7l10.7 5.7z"/><path color="#c40" d="M476.9 64.6l-3.2-1.6l3.2-.9l1.6 .9z"/><path color="#b50" d="M416.3 44.2l-5.9-2.6l1.6-1.1l7.5 3.4z"/><path color="#940" d="M421.8 44.2l-5.5 0l3.2-.3l5.5-.1z"/><path color="#920" d="M427.3 44.1l-5.5 .1l3.2-.4l5.5 0z"/><path color="#810" d="M432.8 44.1l-5.5 0l3.2-.3l5.5-.1z"/><path color="#500" d="M438.3 44l-5.5 .1l3.2-.4l5.6 0z"/><path color="#c00" d="M449.1 51l-10.8-7l3.3-.3l10.7 6.9z"/><path color="#c20" d="M459.8 57.4l-10.7-6.4l3.2-.4l10.7 6.5z"/><path color="#b40" d="M470.5 63.4l-10.7-6l3.2-.3l10.7 5.9z"/><path color="#b50" d="M475.3 65.8l-4.8-2.4l3.2-.4l3.2 1.6z"/><path color="#b60" d="M413.1 44.6l-4.3-1.9l1.6-1.1l5.9 2.6z"/><path color="#940" d="M418.6 44.6l-5.5 0l3.2-.4l5.5 0z"/><path color="#930" d="M424.1 44.5l-5.5 .1l3.2-.4l5.5-.1z"/><path color="#810" d="M429.6 44.5l-5.5 0l3.2-.4l5.5 0z"/><path color="#600" d="M435.1 44.4l-5.5 .1l3.2-.4l5.5-.1z"/><path color="#c10" d="M445.9 51.4l-10.8-7l3.2-.4l10.8 7z"/><path color="#c30" d="M456.6 57.8l-10.7-6.4l3.2-.4l10.7 6.4z"/><path color="#b40" d="M467.3 63.7l-10.7-5.9l3.2-.4l10.7 6z"/><path color="#b50" d="M473.7 66.9l-6.4-3.2l3.2-.3l4.8 2.4z"/><path color="#b60" d="M409.9 45l-2.8-1.2l1.7-1.1l4.3 1.9z"/><path color="#940" d="M415.4 44.9l-5.5 .1l3.2-.4l5.5 0z"/><path color="#930" d="M420.9 44.9l-5.5 0l3.2-.3l5.5-.1z"/><path color="#920" d="M426.4 44.8l-5.5 .1l3.2-.4l5.5 0z"/><path color="#710" d="M431.9 44.8l-5.5 0l3.2-.3l5.5-.1z"/><path color="#c10" d="M442.6 51.7l-10.7-6.9l3.2-.4l10.8 7z"/><path color="#c30" d="M453.4 58.2l-10.8-6.5l3.3-.3l10.7 6.4z"/><path color="#b50" d="M464.1 64.1l-10.7-5.9l3.2-.4l10.7 5.9z"/><path color="#b60" d="M472.1 68l-8-3.9l3.2-.4l6.4 3.2z"/><path color="#b60" d="M406.7 45.4l-1.2-.5l1.6-1.1l2.8 1.2z"/><path color="#950" d="M412.2 45.3l-5.5 .1l3.2-.4l5.5-.1z"/><path color="#930" d="M417.7 45.3l-5.5 0l3.2-.4l5.5 0z"/><path color="#920" d="M423.2 45.2l-5.5 .1l3.2-.4l5.5-.1z"/><path color="#710" d="M428.7 45.2l-5.5 0l3.2-.4l5.5 0z"/><path color="#c20" d="M439.4 52.1l-10.7-6.9l3.2-.4l10.7 6.9z"/><path color="#c40" d="M450.2 58.6l-10.8-6.5l3.2-.4l10.8 6.5z"/><path color="#b50" d="M460.9 64.5l-10.7-5.9l3.2-.4l10.7 5.9z"/><path color="#b60" d="M470.5 69.1l-9.6-4.6l3.2-.4l8 3.9z"/><path color="#a60" d="M403.9 45.8l1.6-.9l1.2 .5z"/><path color="#950" d="M409 45.7l-5.1 .1l2.8-.4l5.5-.1z"/><path color="#940" d="M414.5 45.7l-5.5 0l3.2-.4l5.5 0z"/><path color="#930" d="M420 45.6l-5.5 .1l3.2-.4l5.5-.1z"/><path color="#810" d="M425.5 45.6l-5.5 0l3.2-.4l5.5 0z"/><path color="#c20" d="M436.2 52.5l-10.7-6.9l3.2-.4l10.7 6.9z"/><path color="#c40" d="M446.9 59l-10.7-6.5l3.2-.4l10.8 6.5z"/><path color="#b60" d="M457.7 64.9l-10.8-5.9l3.3-.4l10.7 5.9z"/><path color="#b70" d="M468.8 69.9l-.4 0l-10.7-5l3.2-.4l9.6 4.6z"/><path color="#950" d="M405.8 46.1l-3.5 0l1.6-.3l5.1-.1z"/><path color="#940" d="M411.3 46.1l-5.5 0l3.2-.4l5.5 0z"/><path color="#930" d="M416.8 46l-5.5 .1l3.2-.4l5.5-.1z"/><path color="#920" d="M422.3 46l-5.5 0l3.2-.4l5.5 0z"/><path color="#c30" d="M433 52.9l-10.7-6.9l3.2-.4l10.7 6.9z"/><path color="#c50" d="M443.7 59.4l-10.7-6.5l3.2-.4l10.7 6.5z"/><path color="#b60" d="M454.5 65.3l-10.8-5.9l3.2-.4l10.8 5.9z"/><path color="#b70" d="M465.2 70.3l-10.7-5l3.2-.4l10.7 5z"/><path color="#850" d="M467.2 70.3l-2 0l3.2-.4l.4 0z"/><path color="#950" d="M408.1 46.5l-5.5 0l-1.9 0l1.6-.4l3.5 0l5.5 0z"/><path color="#930" d="M413.6 46.4l-5.5 .1l3.2-.4l5.5-.1z"/><path color="#920" d="M419.1 46.4l-5.5 0l3.2-.4l5.5 0z"/><path color="#c30" d="M429.8 53.3l-10.7-6.9l3.2-.4l10.7 6.9z"/><path color="#c50" d="M440.5 59.8l-10.7-6.5l3.2-.4l10.7 6.5z"/><path color="#b70" d="M451.2 65.7l-10.7-5.9l3.2-.4l10.8 5.9z"/><path color="#b80" d="M462 70.7l-10.8-5l3.3-.4l10.7 5z"/><path color="#750" d="M465.6 70.7l-3.6 0l3.2-.4l2 0z"/><path color="#960" d="M399.3 46.9l-.2 0l1.6-.4l1.9 0z"/><path color="#950" d="M404.9 46.9l-5.6 0l3.3-.4l5.5 0z"/><path color="#940" d="M410.4 46.8l-5.5 .1l3.2-.4l5.5-.1z"/><path color="#930" d="M415.9 46.8l-5.5 0l3.2-.4l5.5 0z"/><path color="#c40" d="M426.6 53.7l-10.7-6.9l3.2-.4l10.7 6.9z"/><path color="#c60" d="M437.3 60.2l-10.7-6.5l3.2-.4l10.7 6.5z"/><path color="#b70" d="M448 66.1l-10.7-5.9l3.2-.4l10.7 5.9z"/><path color="#b80" d="M458.8 71.1l-10.8-5l3.2-.4l10.8 5z"/><path color="#750" d="M464 71.1l-5.2 0l3.2-.4l3.6 0z"/><path color="#960" d="M397.5 47.3l1.6-.4l.2 0z"/><path color="#950" d="M401.7 47.3l-4.2 0l1.8-.4l5.6 0z"/><path color="#940" d="M407.2 47.2l-5.5 .1l3.2-.4l5.5-.1z"/><path color="#930" d="M412.7 47.2l-5.5 0l3.2-.4l5.5 0z"/><path color="#c40" d="M423.4 54.1l-10.7-6.9l3.2-.4l10.7 6.9z"/><path color="#c60" d="M434.1 60.6l-10.7-6.5l3.2-.4l10.7 6.5z"/><path color="#b80" d="M444.8 66.5l-10.7-5.9l3.2-.4l10.7 5.9z"/><path color="#b90" d="M455.5 71.5l-10.7-5l3.2-.4l10.8 5z"/><path color="#650" d="M461.1 71.5l-5.6 0l3.3-.4l5.2 0z"/><path color="#320" d="M462.4 71.5l-1.3 0l2.9-.4z"/><path color="#950" d="M398.5 47.7l-2.7 0l1.7-.4l4.2 0z"/><path color="#940" d="M404 47.6l-5.5 .1l3.2-.4l5.5-.1z"/><path color="#930" d="M409.5 47.6l-5.5 0l3.2-.4l5.5 0z"/><path color="#c50" d="M420.2 54.5l-10.7-6.9l3.2-.4l10.7 6.9z"/><path color="#c70" d="M430.9 61l-10.7-6.5l3.2-.4l10.7 6.5z"/><path color="#b80" d="M441.6 66.9l-10.7-5.9l3.2-.4l10.7 5.9z"/><path color="#b90" d="M452.3 71.9l-10.7-5l3.2-.4l10.7 5z"/><path color="#650" d="M457.9 71.9l-5.6 0l3.2-.4l5.6 0z"/><path color="#320" d="M460.8 71.8l-2.9 .1l3.2-.4l1.3 0z"/><path color="#960" d="M395.2 48l-1 .1l1.6-.4l2.7 0z"/><path color="#950" d="M400.8 48l-5.6 0l3.3-.3l5.5-.1z"/><path color="#940" d="M406.3 48l-5.5 0l3.2-.4l5.5 0z"/><path color="#c50" d="M417 54.9l-10.7-6.9l3.2-.4l10.7 6.9z"/><path color="#c70" d="M427.7 61.4l-10.7-6.5l3.2-.4l10.7 6.5z"/><path color="#b90" d="M438.4 67.3l-10.7-5.9l3.2-.4l10.7 5.9z"/><path color="#ba0" d="M449.1 72.3l-10.7-5l3.2-.4l10.7 5z"/><path color="#650" d="M454.7 72.3l-5.6 0l3.2-.4l5.6 0z"/><path color="#210" d="M459.2 72.2l-4.5 .1l3.2-.4l2.9-.1z"/><path color="#960" d="M392.6 48.4l1.6-.3l1-.1z"/><path color="#950" d="M397.6 48.4l-5 0l2.6-.4l5.6 0z"/><path color="#940" d="M403.1 48.4l-5.5 0l3.2-.4l5.5 0z"/><path color="#c60" d="M413.8 55.3l-10.7-6.9l3.2-.4l10.7 6.9z"/><path color="#c80" d="M424.5 61.8l-10.7-6.5l3.2-.4l10.7 6.5z"/><path color="#b90" d="M435.2 67.7l-10.7-5.9l3.2-.4l10.7 5.9z"/><path color="#ba0" d="M445.9 72.7l-10.7-5l3.2-.4l10.7 5z"/><path color="#650" d="M451.4 72.7l-5.5 0l3.2-.4l5.6 0z"/><path color="#110" d="M457 72.6l-5.6 .1l3.3-.4l4.5-.1z"/><path color="#000" d="M457.5 72.6l-.5 0l2.2-.4z"/><path color="#950" d="M394.4 48.8l-3.4 0l1.6-.4l5 0z"/><path color="#940" d="M399.9 48.8l-5.5 0l3.2-.4l5.5 0z"/><path color="#c60" d="M410.6 55.7l-10.7-6.9l3.2-.4l10.7 6.9z"/><path color="#c80" d="M421.3 62.2l-10.7-6.5l3.2-.4l10.7 6.5z"/><path color="#ba0" d="M432 68.1l-10.7-5.9l3.2-.4l10.7 5.9z"/><path color="#bb0" d="M442.7 73.1l-10.7-5l3.2-.4l10.7 5z"/><path color="#660" d="M448.2 73.1l-5.5 0l3.2-.4l5.5 0z"/><path color="#110" d="M453.8 73l-5.6 .1l3.2-.4l5.6-.1z"/><path color="#000" d="M455.9 73l-2.1 0l3.2-.4l.5 0z"/><path color="#960" d="M391.1 49.2l-1.7 0l1.6-.4l3.4 0z"/><path color="#950" d="M396.7 49.2l-5.6 0l3.3-.4l5.5 0z"/><path color="#c70" d="M407.4 56.1l-10.7-6.9l3.2-.4l10.7 6.9z"/><path color="#c90" d="M418.1 62.6l-10.7-6.5l3.2-.4l10.7 6.5z"/><path color="#ba0" d="M428.8 68.5l-10.7-5.9l3.2-.4l10.7 5.9z"/><path color="#bb0" d="M439.5 73.5l-10.7-5l3.2-.4l10.7 5z"/><path color="#660" d="M445 73.5l-5.5 0l3.2-.4l5.5 0z"/><path color="#110" d="M450.6 73.4l-5.6 .1l3.2-.4l5.6-.1z"/><path color="#000" d="M454.3 73.4l-3.7 0l3.2-.4l2.1 0z"/><path color="#960" d="M387.9 49.7l-.1 0l1.6-.5l1.7 0z"/><path color="#950" d="M393.5 49.6l-5.6 .1l3.2-.5l5.6 0z"/><path color="#c70" d="M404.2 56.5l-10.7-6.9l3.2-.4l10.7 6.9z"/><path color="#c90" d="M414.9 63l-10.7-6.5l3.2-.4l10.7 6.5z"/><path color="#cb0" d="M425.6 68.9l-10.7-5.9l3.2-.4l10.7 5.9z"/><path color="#bb0" d="M436.3 74l-10.7-5.1l3.2-.4l10.7 5z"/><path color="#660" d="M441.8 73.9l-5.5 .1l3.2-.5l5.5 0z"/><path color="#110" d="M447.3 73.9l-5.5 0l3.2-.4l5.6-.1z"/><path color="#000" d="M452.7 73.8l-5.4 .1l3.3-.5l3.7 0z"/><path color="#960" d="M386.2 50.1l1.6-.4l.1 0z"/><path color="#950" d="M390.3 50l-4.1 .1l1.7-.4l5.6-.1z"/><path color="#c80" d="M401 57l-10.7-7l3.2-.4l10.7 6.9z"/><path color="#ca0" d="M411.7 63.4l-10.7-6.4l3.2-.5l10.7 6.5z"/><path color="#cb0" d="M422.4 69.4l-10.7-6l3.2-.4l10.7 5.9z"/><path color="#ab1" d="M433.1 74.4l-10.7-5l3.2-.5l10.7 5.1z"/><path color="#660" d="M438.6 74.3l-5.5 .1l3.2-.4l5.5-.1z"/><path color="#110" d="M444.1 74.3l-5.5 0l3.2-.4l5.5 0z"/><path color="#000" d="M451.1 74.2l-1.4 .1l-5.6 0l3.2-.4l5.4-.1z"/><path color="#960" d="M387 50.5l-2.5 0l1.7-.4l4.1-.1z"/><path color="#c80" d="M397.8 57.4l-10.8-6.9l3.3-.5l10.7 7z"/><path color="#ca0" d="M408.5 63.9l-10.7-6.5l3.2-.4l10.7 6.4z"/><path color="#bc0" d="M419.2 69.8l-10.7-5.9l3.2-.5l10.7 6z"/><path color="#ab1" d="M429.9 74.8l-10.7-5l3.2-.4l10.7 5z"/><path color="#661" d="M435.4 74.8l-5.5 0l3.2-.4l5.5-.1z"/><path color="#110" d="M440.9 74.8l-5.5 0l3.2-.5l5.5 0z"/><path color="#000" d="M449.5 74.7l-3 0l-5.6 .1l3.2-.5l5.6 0l1.4-.1z"/><path color="#960" d="M383.8 51l-.9 0l1.6-.5l2.5 0z"/><path color="#c90" d="M394.6 57.9l-10.8-6.9l3.2-.5l10.8 6.9z"/><path color="#cb0" d="M405.3 64.3l-10.7-6.4l3.2-.5l10.7 6.5z"/><path color="#bc1" d="M416 70.2l-10.7-5.9l3.2-.4l10.7 5.9z"/><path color="#9b2" d="M426.7 75.2l-10.7-5l3.2-.4l10.7 5z"/><path color="#561" d="M432.2 75.2l-5.5 0l3.2-.4l5.5 0z"/><path color="#110" d="M437.7 75.2l-5.5 0l3.2-.4l5.5 0z"/><path color="#000" d="M447.9 75.1l-4.7 .1l-5.5 0l3.2-.4l5.6-.1l3 0z"/><path color="#c90" d="M391.1 58.1l-9.8-6.1l1.6-1l.9 0l10.8 6.9z"/><path color="#bb0" d="M401.8 64.3l-10.7-6.2l3.5-.2l10.7 6.4z"/><path color="#ab1" d="M412.5 70.1l-10.7-5.8l3.5 0l10.7 5.9z"/><path color="#8a2" d="M423.2 75.1l-10.7-5l3.5 .1l10.7 5z"/><path color="#561" d="M428.8 75.2l-5.6-.1l3.5 .1l5.5 0z"/><path color="#110" d="M434.3 75.3l-5.5-.1l3.4 0l5.5 0z"/><path color="#000" d="M446.2 76.1l-.9-.6l-5.5-.1l-5.5-.1l3.4-.1l5.5 0l4.7-.1z"/><path color="#ca0" d="M387.4 58.2l-7.7-4.6l1.6-1.6l9.8 6.1z"/><path color="#cb0" d="M398.1 64.3l-10.7-6.1l3.7-.1l10.7 6.2z"/><path color="#ab1" d="M408.8 69.9l-10.7-5.6l3.7 0l10.7 5.8z"/><path color="#8a2" d="M419.5 74.8l-10.7-4.9l3.7 .2l10.7 5z"/><path color="#561" d="M425 75.1l-5.5-.3l3.7 .3l5.6 .1z"/><path color="#110" d="M430.5 75.3l-5.5-.2l3.8 .1l5.5 .1z"/><path color="#000" d="M441.6 75.9l-5.5-.3l-5.6-.3l3.8 0l5.5 .1l5.5 .1z"/><path color="#c90" d="M444.6 77.8l-3-1.9l3.7-.4l.9 .6z"/><path color="#cb0" d="M383.3 58.2l-5.2-3l1.6-1.6l7.7 4.6z"/><path color="#bc0" d="M393.7 64l-10.4-5.8l4.1 0l10.7 6.1z"/><path color="#ab2" d="M404.1 69.4l-10.4-5.4l4.4 .3l10.7 5.6z"/><path color="#8b2" d="M414.4 74.1l-10.3-4.7l4.7 .5l10.7 4.9z"/><path color="#561" d="M420.3 74.6l-5.9-.5l5.1 .7l5.5 .3z"/><path color="#110" d="M426.1 75.2l-5.8-.6l4.7 .5l5.5 .2z"/><path color="#000" d="M437.8 76.2l-5.8-.5l-5.9-.5l4.4 .1l5.6 .3l5.5 .3z"/><path color="#ca0" d="M443 79.4l-5.2-3.2l3.8-.3l3 1.9z"/><path color="#cc0" d="M379.2 58.3l-2.7-1.6l1.6-1.5l5.2 3z"/><path color="#bc1" d="M389.3 63.8l-10.1-5.5l4.1-.1l10.4 5.8z"/><path color="#9b2" d="M399.3 68.9l-10-5.1l4.4 .2l10.4 5.4z"/><path color="#8a3" d="M409.4 73.4l-10.1-4.5l4.8 .5l10.3 4.7z"/><path color="#561" d="M415.6 74.2l-6.2-.8l5 .7l5.9 .5z"/><path color="#110" d="M421.7 75l-6.1-.8l4.7 .4l5.8 .6z"/><path color="#000" d="M434.1 76.6l-6.2-.8l-6.2-.8l4.4 .2l5.9 .5l5.8 .5z"/><path color="#cb0" d="M441.4 80.9l-7.3-4.3l3.7-.4l5.2 3.2z"/><path color="#bc0" d="M375.1 58.4l-.2-.2l1.6-1.5l2.7 1.6z"/><path color="#ac1" d="M384.9 63.6l-9.8-5.2l4.1-.1l10.1 5.5z"/><path color="#9b2" d="M394.6 68.4l-9.7-4.8l4.4 .2l10 5.1z"/><path color="#8a3" d="M404.3 72.7l-9.7-4.3l4.7 .5l10.1 4.5z"/><path color="#562" d="M410.8 73.8l-6.5-1.1l5.1 .7l6.2 .8z"/><path color="#110" d="M417.3 74.9l-6.5-1.1l4.8 .4l6.1 .8z"/><path color="#000" d="M423.8 75.9l-6.5-1l4.4 .1l6.2 .8z"/><path color="#110" d="M430.3 77l-6.5-1.1l4.1-.1l6.2 .8z"/><path color="#cc0" d="M439.8 82.4l-9.5-5.4l3.8-.4l7.3 4.3z"/><path color="#ac1" d="M373.2 59.6l1.7-1.4l.2 .2z"/><path color="#ab2" d="M380.5 63.3l-7.3-3.7l1.9-1.2l9.8 5.2z"/><path color="#9b2" d="M389.9 67.9l-9.4-4.6l4.4 .3l9.7 4.8z"/><path color="#7a3" d="M399.3 72l-9.4-4.1l4.7 .5l9.7 4.3z"/><path color="#572" d="M406.1 73.3l-6.8-1.3l5 .7l6.5 1.1z"/><path color="#120" d="M412.9 74.7l-6.8-1.4l4.7 .5l6.5 1.1z"/><path color="#110" d="M419.7 76.1l-6.8-1.4l4.4 .2l6.5 1z"/><path color="#220" d="M426.6 77.4l-6.9-1.3l4.1-.2l6.5 1.1z"/><path color="#bc0" d="M436 82.6l-9.4-5.2l3.7-.4l9.5 5.4z"/><path color="#bc1" d="M438.2 83.7l-2.2-1.1l3.8-.2z"/><path color="#9b2" d="M376.1 63l-4.5-2.2l1.6-1.2l7.3 3.7z"/><path color="#8b3" d="M385.2 67.3l-9.1-4.3l4.4 .3l9.4 4.6z"/><path color="#7a3" d="M394.2 71.2l-9-3.9l4.7 .6l9.4 4.1z"/><path color="#582" d="M401.4 72.9l-7.2-1.7l5.1 .8l6.8 1.3z"/><path color="#231" d="M408.5 74.5l-7.1-1.6l4.7 .4l6.8 1.4z"/><path color="#220" d="M415.7 76.2l-7.2-1.7l4.4 .2l6.8 1.4z"/><path color="#330" d="M422.8 77.8l-7.1-1.6l4-.1l6.9 1.3z"/><path color="#bc1" d="M431.9 82.6l-9.1-4.8l3.8-.4l9.4 5.2z"/><path color="#ab2" d="M436.6 85l-4.7-2.4l4.1 0l2.2 1.1z"/><path color="#9b3" d="M371.7 62.8l-1.7-.8l1.6-1.2l4.5 2.2z"/><path color="#8b3" d="M380.4 66.8l-8.7-4l4.4 .2l9.1 4.3z"/><path color="#7a3" d="M389.2 70.5l-8.8-3.7l4.8 .5l9 3.9z"/><path color="#682" d="M396.7 72.4l-7.5-1.9l5 .7l7.2 1.7z"/><path color="#341" d="M404.1 74.3l-7.4-1.9l4.7 .5l7.1 1.6z"/><path color="#230" d="M411.6 76.3l-7.5-2l4.4 .2l7.2 1.7z"/><path color="#340" d="M419.1 78.2l-7.5-1.9l4.1-.1l7.1 1.6z"/><path color="#ac1" d="M427.8 82.7l-8.7-4.5l3.7-.4l9.1 4.8z"/><path color="#9b2" d="M434.9 86.1l-7.1-3.4l4.1-.1l4.7 2.4z"/><path color="#8b3" d="M368.4 63l1.6-1l1.7 .8z"/><path color="#7b3" d="M375.7 66.2l-7.3-3.2l3.3-.2l8.7 4z"/><path color="#7a3" d="M384.1 69.7l-8.4-3.5l4.7 .6l8.8 3.7z"/><path color="#683" d="M391.9 71.9l-7.8-2.2l5.1 .8l7.5 1.9z"/><path color="#461" d="M399.7 74.1l-7.8-2.2l4.8 .5l7.4 1.9z"/><path color="#341" d="M407.5 76.4l-7.8-2.3l4.4 .2l7.5 2z"/><path color="#451" d="M415.3 78.6l-7.8-2.2l4.1-.1l7.5 1.9z"/><path color="#9b2" d="M423.7 82.7l-8.4-4.1l3.8-.4l8.7 4.5z"/><path color="#8b3" d="M433.3 87.1l-1.1-.5l-8.5-3.9l4.1 0l7.1 3.4z"/><path color="#7a3" d="M371 65.7l-4.2-1.8l1.6-.9l7.3 3.2z"/><path color="#6a3" d="M379.1 69l-8.1-3.3l4.7 .5l8.4 3.5z"/><path color="#693" d="M387.2 71.4l-8.1-2.4l5 .7l7.8 2.2z"/><path color="#572" d="M395.3 73.9l-8.1-2.5l4.7 .5l7.8 2.2z"/><path color="#451" d="M411.6 78.9l-8.2-2.5l-8.1-2.5l4.4 .2l7.8 2.3l7.8 2.2z"/><path color="#9b2" d="M419.7 82.7l-8.1-3.8l3.7-.3l8.4 4.1z"/><path color="#8b3" d="M427.8 86.3l-8.1-3.6l4 0l8.5 3.9z"/><path color="#7b3" d="M431.7 88l-3.9-1.7l4.4 .3l1.1 .5z"/><path color="#7a3" d="M366.3 65.2l-1.1-.4l1.6-.9l4.2 1.8z"/><path color="#693" d="M382.5 71.1l-8.5-2.8l-7.7-3.1l4.7 .5l8.1 3.3l8.1 2.4z"/><path color="#582" d="M390.9 73.8l-8.4-2.7l4.7 .3l8.1 2.5z"/><path color="#462" d="M407.8 79.3l-8.4-2.8l-8.5-2.7l4.4 .1l8.1 2.5l8.2 2.5z"/><path color="#8b3" d="M415.6 82.7l-7.8-3.4l3.8-.4l8.1 3.8z"/><path color="#7b3" d="M423.4 86.1l-7.8-3.4l4.1 0l8.1 3.6z"/><path color="#7a3" d="M430.1 88.9l-6.7-2.8l4.4 .2l3.9 1.7z"/><path color="#7b4" d="M363.6 65.7l1.6-.9l1.1 .4z"/><path color="#6a4" d="M369 67.9l-5.4-2.2l2.7-.5l7.7 3.1z"/><path color="#593" d="M377.8 70.8l-8.8-2.9l5 .4l8.5 2.8z"/><path color="#583" d="M386.5 73.7l-8.7-2.9l4.7 .3l8.4 2.7z"/><path color="#572" d="M395.3 76.7l-8.8-3l4.4 .1l8.5 2.7z"/><path color="#462" d="M404.1 79.6l-8.8-2.9l4.1-.2l8.4 2.8z"/><path color="#8b4" d="M411.5 82.8l-7.4-3.2l3.7-.3l7.8 3.4z"/><path color="#7b4" d="M428.5 89.9l-2-.8l-7.5-3.1l-7.5-3.2l4.1-.1l7.8 3.4l6.7 2.8z"/><path color="#6a4" d="M363.9 67.4l-2-.8l1.7-.9l5.4 2.2z"/><path color="#594" d="M373 70.5l-9.1-3.1l5.1 .5l8.8 2.9z"/><path color="#593" d="M382.1 73.7l-9.1-3.2l4.8 .3l8.7 2.9z"/><path color="#583" d="M391.2 76.8l-9.1-3.1l4.4 0l8.8 3z"/><path color="#573" d="M400.3 80l-9.1-3.2l4.1-.1l8.8 2.9z"/><path color="#7b4" d="M414.6 85.9l-7.2-3l-7.1-2.9l3.8-.4l7.4 3.2l7.5 3.2z"/><path color="#6b4" d="M421.7 88.8l-7.1-2.9l4.4 .1l7.5 3.1z"/><path color="#6a4" d="M426.9 90.8l-5.2-2l4.8 .3l2 .8z"/><path color="#5a4" d="M360.3 67.4l1.6-.8l2 .8z"/><path color="#594" d="M377.7 73.6l-9.4-3.3l-8-2.9l3.6 0l9.1 3.1l9.1 3.2z"/><path color="#583" d="M387.1 77l-9.4-3.4l4.4 .1l9.1 3.1z"/><path color="#483" d="M396.5 80.3l-9.4-3.3l4.1-.2l9.1 3.2z"/><path color="#7b5" d="M403.4 83.1l-6.9-2.8l3.8-.3l7.1 2.9z"/><path color="#6b5" d="M417 88.5l-6.8-2.7l-6.8-2.7l4-.2l7.2 3l7.1 2.9z"/><path color="#6a5" d="M425.3 91.6l-1.5-.5l-6.8-2.6l4.7 .3l5.2 2z"/><path color="#594" d="M383.1 77.1l-9.8-3.5l-9.7-3.6l-4.9-1.8l1.6-.8l8 2.9l9.4 3.3l9.4 3.4z"/><path color="#484" d="M392.8 80.6l-9.7-3.5l4-.1l9.4 3.3z"/><path color="#6b5" d="M405.8 85.7l-6.5-2.5l-6.5-2.6l3.7-.3l6.9 2.8l6.8 2.7z"/><path color="#5a5" d="M423.6 92.4l-4.8-1.8l-6.5-2.4l-6.5-2.5l4.4 .1l6.8 2.7l6.8 2.6l1.5 .5z"/><path color="#495" d="M358.9 69.7l-1.8-.6l1.6-.9l4.9 1.8z"/><path color="#494" d="M379 77.2l-10.1-3.7l-10-3.8l4.7 .3l9.7 3.6l9.8 3.5z"/><path color="#484" d="M389 81l-10-3.8l4.1-.1l9.7 3.5z"/><path color="#5b5" d="M401.4 85.6l-6.2-2.3l-6.2-2.3l3.8-.4l6.5 2.6l6.5 2.5z"/><path color="#5a5" d="M422 93.3l-8.3-3.1l-6.2-2.3l-6.1-2.3l4.4 .1l6.5 2.5l6.5 2.4l4.8 1.8z"/><path color="#5b6" d="M420.2 94.8l-2.7-1l-2.7-1l-2.7-1l-2.7-1l-2.7-1l-2.7-1l-2.7-1.1l-2.7-1l-2.7-1l-2.7-1l-2.7-1l-2.7-1l-2.7-1l-2.7-1l-2.7-1l-2.7-1l-2.7-1l-2.8-1l-2.7-1l-2.7-1l-2.7-1l-2.7-1.1l-2.7-1l-2.7-1l1.8-1.5l2.7 1l2.7 1l2.7 1l2.7 1l2.7 1l2.7 1l2.7 1l2.7 1l2.7 1.1l2.8 1l2.7 1l2.7 1l2.7 1l2.7 1l2.7 1l2.7 1l2.7 1l2.7 1l2.7 1l2.7 1l2.7 1l2.7 1l2.7 1.1l2.7 1z"/><path color="#4b7" d="M418.5 96.3l-2.8-1l-2.7-1l-2.7-1l-2.7-1l-2.7-1l-2.7-1l-2.7-1.1l-2.7-1l-2.7-1l-2.7-1l-2.7-1l-2.7-1l-2.7-1l-2.7-1l-2.7-1l-2.7-1l-2.7-1l-2.7-1l-2.7-1l-2.8-1l-2.7-1l-2.7-1.1l-2.7-1l-2.7-1l1.8-1.5l2.7 1l2.7 1l2.7 1.1l2.7 1l2.7 1l2.7 1l2.8 1l2.7 1l2.7 1l2.7 1l2.7 1l2.7 1l2.7 1l2.7 1l2.7 1l2.7 1l2.7 1l2.7 1.1l2.7 1l2.7 1l2.7 1l2.7 1l2.7 1l2.7 1z"/><path color="#3b8" d="M416.7 97.7l-2.7-1l-2.7-1l-2.8-1l-2.7-1l-2.7-1l-2.7-1l-2.7-1l-2.7-1l-2.7-1l-2.7-1l-2.7-1l-2.7-1l-2.7-1l-2.7-1.1l-2.7-1l-2.7-1l-2.7-1l-2.7-1l-2.7-1l-2.7-1l-2.7-1l-2.8-1l-2.7-1l-2.7-1l1.8-1.5l2.7 1l2.7 1l2.7 1.1l2.7 1l2.8 1l2.7 1l2.7 1l2.7 1l2.7 1l2.7 1l2.7 1l2.7 1l2.7 1l2.7 1l2.7 1l2.7 1l2.7 1l2.7 1.1l2.7 1l2.7 1l2.7 1l2.7 1l2.7 1l2.8 1z"/><path color="#2b9" d="M414.9 99.2l-2.7-1l-2.7-1l-2.7-1l-2.7-1l-2.7-1l-2.8-1l-2.7-1l-2.7-1l-2.7-1.1l-2.7-1l-2.7-1l-2.7-1l-2.7-1l-2.7-1l-2.7-1l-2.7-1l-2.7-1l-2.7-1l-2.7-1l-2.7-1l-2.7-1l-2.7-1l-2.7-1l-2.7-1.1l1.7-1.4l2.7 1l2.7 1l2.8 1l2.7 1l2.7 1l2.7 1l2.7 1l2.7 1l2.7 1l2.7 1l2.7 1.1l2.7 1l2.7 1l2.7 1l2.7 1l2.7 1l2.7 1l2.7 1l2.7 1l2.7 1l2.7 1l2.8 1l2.7 1l2.7 1z"/><path color="#2ba" d="M413.1 100.7l-2.7-1l-2.7-1l-2.7-1l-2.7-1l-2.7-1l-2.7-1l-2.7-1l-2.8-1l-2.7-1l-2.7-1l-2.7-1l-2.7-1l-2.7-1l-2.7-1.1l-2.7-1l-2.7-1l-2.7-1l-2.7-1l-2.7-1l-2.7-1l-2.7-1l-2.7-1l-2.7-1l-2.7-1l1.8-1.6l2.7 1.1l2.7 1l2.7 1l2.7 1l2.7 1l2.7 1l2.7 1l2.7 1l2.7 1l2.7 1l2.7 1l2.7 1l2.7 1l2.7 1l2.7 1l2.7 1.1l2.7 1l2.7 1l2.8 1l2.7 1l2.7 1l2.7 1l2.7 1l2.7 1z"/><path color="#1bb" d="M411.3 102.4l-2.7-1l-2.7-1l-2.7-1l-2.7-1l-2.7-1l-2.7-1l-2.7-1.1l-2.7-1l-2.7-1l-2.7-1l-2.8-1l-2.7-1l-2.7-1l-2.7-1l-2.7-1l-2.7-1l-2.7-1l-2.7-1l-2.7-1l-2.7-1l-2.7-1l-2.7-1.1l-2.7-1l-2.7-1l1.8-1.6l2.7 1l2.7 1l2.7 1l2.7 1l2.7 1l2.7 1l2.7 1l2.7 1l2.7 1l2.7 1l2.7 1.1l2.7 1l2.7 1l2.7 1l2.7 1l2.7 1l2.8 1l2.7 1l2.7 1l2.7 1l2.7 1l2.7 1l2.7 1l2.7 1z"/><path color="#0bc" d="M409.5 104.2l-2.7-1l-2.7-1l-2.7-1l-2.7-1l-2.7-1l-2.7-1l-2.7-1l-2.7-1l-2.7-1l-2.7-1l-2.7-1l-2.7-1l-2.8-1.1l-2.7-1l-2.7-1l-2.7-1l-2.7-1l-2.7-1l-2.7-1l-2.7-1l-2.7-1l-2.7-1l-2.7-1l-2.7-1l1.8-1.9l2.7 1l2.7 1l2.7 1.1l2.7 1l2.7 1l2.7 1l2.7 1l2.7 1l2.7 1l2.7 1l2.7 1l2.7 1l2.7 1l2.8 1l2.7 1l2.7 1l2.7 1l2.7 1.1l2.7 1l2.7 1l2.7 1l2.7 1l2.7 1l2.7 1z"/><path color="#0ac" d="M407.7 106.3l-2.7-1l-2.7-1l-2.7-1l-2.7-1l-2.7-1l-2.7-1l-2.7-1l-2.7-1l-2.7-1.1l-2.7-1l-2.7-1l-2.7-1l-2.7-1l-2.7-1l-2.7-1l-2.8-1l-2.7-1l-2.7-1l-2.7-1l-2.7-1l-2.7-1l-2.7-1l-2.7-1l-2.7-1.1l1.8-2l2.7 1l2.7 1l2.7 1l2.7 1l2.7 1l2.7 1l2.7 1l2.7 1l2.7 1l2.7 1l2.7 1l2.8 1.1l2.7 1l2.7 1l2.7 1l2.7 1l2.7 1l2.7 1l2.7 1l2.7 1l2.7 1l2.7 1l2.7 1l2.7 1z"/><path color="#09c" d="M406.8 107.5l-2.7-1l-2.7-1l-2.7-1l-2.8-1l-2.7-1l-2.7-1l-2.7-1l-2.7-1l-2.7-1l-2.7-1l-2.7-1.1l-2.7-1l-2.7-1l-2.7-1l-2.7-1l-2.7-1l-2.7-1l-2.7-1l-2.7-1l-2.7-1l-2.7-1l-2.7-1l-2.8-1l-2.7-1l1-1.3l2.7 1.1l2.7 1l2.7 1l2.7 1l2.7 1l2.7 1l2.7 1l2.7 1l2.8 1l2.7 1l2.7 1l2.7 1l2.7 1l2.7 1l2.7 1l2.7 1.1l2.7 1l2.7 1l2.7 1l2.7 1l2.7 1l2.7 1l2.7 1l2.7 1z"/><path color="#09c" d="M405.8 108.8l-2.7-1l-2.7-1l-2.7-1l-2.7-1l-2.7-1l-2.7-1l-2.7-1.1l-2.7-1l-2.7-1l-2.7-1l-2.7-1l-2.8-1l-2.7-1l-2.7-1l-2.7-1l-2.7-1l-2.7-1l-2.7-1l-2.7-1l-2.7-1l-2.7-1l-2.7-1.1l-2.7-1l-2.7-1l.9-1.2l2.7 1l2.8 1l2.7 1l2.7 1l2.7 1l2.7 1l2.7 1l2.7 1l2.7 1l2.7 1l2.7 1l2.7 1l2.7 1l2.7 1.1l2.7 1l2.7 1l2.7 1l2.7 1l2.7 1l2.7 1l2.8 1l2.7 1l2.7 1l2.7 1z"/><path color="#08c" d="M404.8 110.1l-2.7-1l-2.7-1l-2.7-1l-2.7-1l-2.7-1l-2.7-1l-2.7-1l-2.7-1l-2.7-1l-2.7-1l-2.7-1l-2.7-1l-2.7-1l-2.7-1.1l-2.7-1l-2.7-1l-2.7-1l-2.7-1l-2.8-1l-2.7-1l-2.7-1l-2.7-1l-2.7-1l-2.7-1l1-1.4l2.7 1l2.7 1l2.7 1.1l2.7 1l2.7 1l2.7 1l2.7 1l2.7 1l2.7 1l2.7 1l2.7 1l2.7 1l2.8 1l2.7 1l2.7 1l2.7 1l2.7 1l2.7 1.1l2.7 1l2.7 1l2.7 1l2.7 1l2.7 1l2.7 1z"/><path color="#07c" d="M403.9 111.5l-2.7-1l-2.7-1l-2.7-1l-2.7-1l-2.7-1l-2.7-1l-2.8-1l-2.7-1l-2.7-1l-2.7-1l-2.7-1l-2.7-1l-2.7-1l-2.7-1l-2.7-1.1l-2.7-1l-2.7-1l-2.7-1l-2.7-1l-2.7-1l-2.7-1l-2.7-1l-2.7-1l-2.7-1l.9-1.4l2.7 1l2.7 1l2.7 1l2.7 1l2.7 1l2.8 1l2.7 1l2.7 1l2.7 1l2.7 1l2.7 1.1l2.7 1l2.7 1l2.7 1l2.7 1l2.7 1l2.7 1l2.7 1l2.7 1l2.7 1l2.7 1l2.7 1l2.7 1l2.7 1z"/><path color="#06c" d="M402.9 113l-2.7-1l-2.7-1l-2.7-1l-2.7-1l-2.7-1l-2.7-1l-2.7-1l-2.7-1l-2.7-1l-2.7-1l-2.7-1.1l-2.7-1l-2.7-1l-2.7-1l-2.8-1l-2.7-1l-2.7-1l-2.7-1l-2.7-1l-2.7-1l-2.7-1l-2.7-1l-2.7-1l-2.7-1l1-1.5l2.7 1l2.7 1l2.7 1l2.7 1l2.7 1l2.7 1l2.7 1l2.7 1l2.7 1l2.7 1.1l2.7 1l2.7 1l2.7 1l2.7 1l2.7 1l2.7 1l2.7 1l2.8 1l2.7 1l2.7 1l2.7 1l2.7 1l2.7 1l2.7 1z"/><path color="#05c" d="M402 114.6l-2.7-1.1l-2.7-1l-2.8-1l-2.7-1l-2.7-1l-2.7-1l-2.7-1l-2.7-1l-2.7-1l-2.7-1l-2.7-1l-2.7-1l-2.7-1l-2.7-1l-2.7-1l-2.7-1.1l-2.7-1l-2.7-1l-2.7-1l-2.7-1l-2.7-1l-2.8-1l-2.7-1l-2.7-1l1-1.5l2.7 1l2.7 1l2.7 1l2.7 1l2.7 1l2.7 1l2.7 1l2.7 1l2.7 1l2.8 1l2.7 1l2.7 1l2.7 1l2.7 1.1l2.7 1l2.7 1l2.7 1l2.7 1l2.7 1l2.7 1l2.7 1l2.7 1l2.7 1l2.7 1z"/><path color="#04d" d="M401 116.2l-2.7-1l-2.7-1l-2.7-1l-2.7-1l-2.7-1l-2.7-1l-2.7-1l-2.7-1.1l-2.7-1l-2.7-1l-2.8-1l-2.7-1l-2.7-1l-2.7-1l-2.7-1l-2.7-1l-2.7-1l-2.7-1l-2.7-1l-2.7-1l-2.7-1l-2.7-1l-2.7-1.1l-2.7-1l.9-1.6l2.7 1l2.7 1l2.8 1l2.7 1l2.7 1l2.7 1l2.7 1l2.7 1l2.7 1.1l2.7 1l2.7 1l2.7 1l2.7 1l2.7 1l2.7 1l2.7 1l2.7 1l2.7 1l2.7 1l2.7 1l2.7 1l2.8 1l2.7 1l2.7 1.1z"/><path color="#03d" d="M400 118l-2.7-1l-2.7-1l-2.7-1l-2.7-1l-2.7-1l-2.7-1l-2.7-1.1l-2.7-1l-2.7-1l-2.7-1l-2.7-1l-2.7-1l-2.7-1l-2.7-1l-2.7-1l-2.7-1l-2.7-1l-2.8-1l-2.7-1l-2.7-1l-2.7-1l-2.7-1.1l-2.7-1l-2.7-1l1-1.8l2.7 1l2.7 1.1l2.7 1l2.7 1l2.7 1l2.7 1l2.7 1l2.7 1l2.7 1l2.7 1l2.7 1l2.7 1l2.7 1l2.8 1l2.7 1l2.7 1l2.7 1.1l2.7 1l2.7 1l2.7 1l2.7 1l2.7 1l2.7 1l2.7 1z"/><path color="#01d" d="M399.1 120l-2.7-1l-2.7-1l-2.7-1l-2.7-1l-2.7-1l-2.7-1l-2.8-1.1l-2.7-1l-2.7-1l-2.7-1l-2.7-1l-2.7-1l-2.7-1l-2.7-1l-2.7-1l-2.7-1l-2.7-1l-2.7-1l-2.7-1l-2.7-1l-2.7-1l-2.7-1.1l-2.7-1l-2.7-1l.9-2l2.7 1l2.7 1l2.7 1.1l2.7 1l2.7 1l2.7 1l2.8 1l2.7 1l2.7 1l2.7 1l2.7 1l2.7 1l2.7 1l2.7 1l2.7 1l2.7 1l2.7 1l2.7 1.1l2.7 1l2.7 1l2.7 1l2.7 1l2.7 1l2.7 1z"/><path color="#00d" d="M398.1 122.2l-2.7-1l-2.7-1l-2.7-1l-2.7-1l-2.7-1l-2.7-1l-2.7-1l-2.7-1l-2.7-1l-2.7-1l-2.7-1l-2.7-1l-2.7-1.1l-2.8-1l-2.7-1l-2.7-1l-2.7-1l-2.7-1l-2.7-1l-2.7-1l-2.7-1l-2.7-1l-2.7-1l-2.7-1l1-2.3l2.7 1l2.7 1l2.7 1.1l2.7 1l2.7 1l2.7 1l2.7 1l2.7 1l2.7 1l2.7 1l2.7 1l2.7 1l2.7 1l2.7 1l2.7 1l2.7 1l2.7 1l2.8 1.1l2.7 1l2.7 1l2.7 1l2.7 1l2.7 1l2.7 1z"/><path color="#00b" d="M397.2 125l-2.7-1l-2.7-1l-2.8-1l-2.7-1l-2.7-1l-2.7-1l-2.7-1l-2.7-1l-2.7-1l-2.7-1l-2.7-1l-2.7-1.1l-2.7-1l-2.7-1l-2.7-1l-2.7-1l-2.7-1l-2.7-1l-2.7-1l-2.7-1l-2.7-1l-2.8-1l-2.7-1l-2.7-1l1-2.8l2.7 1l2.7 1l2.7 1l2.7 1l2.7 1l2.7 1l2.7 1l2.7 1l2.7 1l2.7 1l2.8 1l2.7 1.1l2.7 1l2.7 1l2.7 1l2.7 1l2.7 1l2.7 1l2.7 1l2.7 1l2.7 1l2.7 1l2.7 1l2.7 1z"/><path color="#008" d="M396.2 129.2l-2.7-1.1l-2.7-1l-2.7-1l-2.7-1l-2.7-1l-2.7-1l-2.7-1l-2.7-1l-2.7-1l-2.8-1l-2.7-1l-2.7-1l-2.7-1l-2.7-1l-2.7-1.1l-2.7-1l-2.7-1l-2.7-1l-2.7-1l-2.7-1l-2.7-1l-2.7-1l-2.7-1l-2.7-1l.9-4.1l2.7 1l2.7 1l2.8 1l2.7 1l2.7 1l2.7 1l2.7 1l2.7 1l2.7 1l2.7 1l2.7 1l2.7 1l2.7 1.1l2.7 1l2.7 1l2.7 1l2.7 1l2.7 1l2.7 1l2.7 1l2.7 1l2.8 1l2.7 1l2.7 1z"/></g><g stroke="#000" stroke-linecap="butt" stroke-linejoin="round" fill="none"><path d="M401.7 79.9L403.5 79.8" stroke-width=".2"/><path d="M403.5 79.7L405.4 79.5" stroke-width=".3"/><path d="M405.4 79.5L407.2 79.3" stroke-width=".4"/><path d="M407.2 79.3L409 79.1" stroke-width=".5"/><path d="M409 79L410.8 78.9" stroke-width=".6"/><path d="M410.8 78.8L412.6 78.6" stroke-width=".8"/><path d="M412.6 78.6L414.4 78.4" stroke-width=".9"/><path d="M414.4 78.4L416.2 78.2" stroke-width="1"/><path d="M416.2 78.1L418 78" stroke-width="1.1"/><path d="M418 77.9L419.9 77.7" stroke-width="1.2"/><path d="M419.9 77.7L421.7 77.5" stroke-width="1.3"/><path d="M421.7 77.4L423.5 77.2" stroke-width="1.4"/><path d="M423.5 77.2L425.3 77" stroke-width="1.6"/><path d="M425.3 76.9L427.1 76.7" stroke-width="1.7"/><path d="M427.1 76.7L428.9 76.5" stroke-width="1.7"/><path d="M428.9 76.5L430.7 76.3" stroke-width="1.7"/><path d="M430.7 76.3L432.6 76.1" stroke-width="1.7"/><path d="M432.6 76.1L434.4 76" stroke-width="1.7"/><path d="M434.4 76L436.2 75.8" stroke-width="1.7"/><path d="M436.2 75.8L438 75.6" stroke-width="1.7"/><path d="M438 75.6L439.8 75.4" stroke-width="1.7"/><path d="M439.8 75.4L441.6 75.2" stroke-width="1.7"/><path d="M441.6 75.2L443.4 75.1" stroke-width="1.7"/><path d="M443.4 75.1L445.2 74.9" stroke-width="1.7"/><path d="M445.2 74.9L446.9 74.7" stroke-width="1.7"/><path d="M419.3 46.5L420.8 46.3" stroke-width=".2"/><path d="M420.8 46.2L422.4 46" stroke-width=".3"/><path d="M422.4 45.9L423.9 45.7" stroke-width=".5"/><path d="M423.9 45.6L425.5 45.4" stroke-width=".7"/><path d="M425.5 45.3L427 45.1" stroke-width="1"/><path d="M427 45L428.6 44.8" stroke-width="1.2"/><path d="M428.6 44.7L430.1 44.5" stroke-width="1.4"/><path d="M430.1 44.4L431.7 44.2" stroke-width="1.7"/><path d="M431.7 44.1L433.2 43.9" stroke-width="2"/><path d="M433.2 43.8L434.8 43.6" stroke-width="2.2"/><path d="M434.8 43.5L436.3 43.3" stroke-width="2.4"/><path d="M436.3 43.2L437.9 43" stroke-width="2.6"/><path d="M437.9 42.9L439.4 42.7" stroke-width="2.8"/><path d="M439.4 42.6L441 42.4" stroke-width="3.1"/><path d="M441 42.3L442.5 42.1" stroke-width="3.3"/><path d="M442.5 42L444.1 41.9" stroke-width="3.4"/><path d="M444.1 41.9L445.6 41.7" stroke-width="3.5"/><path d="M445.6 41.7L447.2 41.5" stroke-width="3.4"/><path d="M447.2 41.5L448.7 41.4" stroke-width="3.4"/><path d="M448.7 41.4L450.3 41.2" stroke-width="3.3"/><path d="M450.3 41.3L451.8 41.1" stroke-width="3.2"/><path d="M451.8 41.2L453.4 41" stroke-width="3.1"/><path d="M453.4 41.1L454.9 40.9" stroke-width="3"/><path d="M454.9 41.1L456.5 40.9" stroke-width="2.7"/><path d="M456.5 41.1L458 40.9" stroke-width="2.4"/><path d="M458 41L459.6 40.8" stroke-width="2.2"/><path d="M459.6 40.8L461.1 40.7" stroke-width="2.2"/><path d="M461.1 40.7L462.7 40.5" stroke-width="2.2"/><path d="M462.7 40.5L464.2 40.4" stroke-width="2.2"/><path d="M464.2 40.4L465.8 40.2" stroke-width="2.2"/><path d="M465.8 40.2L467.3 40.1" stroke-width="2.2"/><path d="M467.3 40.1L468.9 39.9" stroke-width="2.2"/><path d="M468.9 39.9L470.4 39.8" stroke-width="2.2"/></g><path d="M472.8 41.6L473.3 41.8L473.8 42.1L474.3 42.3L474.7 42.5L475.2 42.8L475.7 43L476.2 43.2L476.7 43.5L477.1 43.7L477.6 43.9L478.1 44.2L478.6 44.4L479 44.6L479.5 44.8L480 45.1L480.5 45.3L480.9 45.5L481.4 45.8L481.9 46L482.4 46.2L482.9 46.4L483.3 46.7L483.8 46.9L484.3 47.1L484.8 47.3L485.2 47.6L485.7 47.8L486.2 48L486.7 48.2L487.1 48.5L487.6 48.7L488.1 48.9L488.6 49.1L489.1 49.4L489.5 49.6L490 49.8L490.5 50L491 50.2L491.4 50.5" fill="none" stroke="#000" stroke-opacity="0.7" stroke-width="1.2"/><path d="M309.4 30.7L309.4 100.7L396.2 133.0L511.5 108.7" fill="none" stroke="#c4c4c4" stroke-width="1"/><line x1="26.7" y1="269.3" x2="141.5" y2="245.8" stroke="#f0f0f0" stroke-width="0.6"/><line x1="141.5" y1="245.8" x2="228.3" y2="278.2" stroke="#f0f0f0" stroke-width="0.6"/><line x1="26.7" y1="246.9" x2="141.5" y2="223.4" stroke="#f0f0f0" stroke-width="0.6"/><line x1="141.5" y1="223.4" x2="228.3" y2="255.8" stroke="#f0f0f0" stroke-width="0.6"/><line x1="26.7" y1="224.4" x2="141.5" y2="200.9" stroke="#f0f0f0" stroke-width="0.6"/><line x1="141.5" y1="200.9" x2="228.3" y2="233.3" stroke="#f0f0f0" stroke-width="0.6"/><line x1="26.7" y1="201.9" x2="141.5" y2="178.4" stroke="#f0f0f0" stroke-width="0.6"/><line x1="141.5" y1="178.4" x2="228.3" y2="210.8" stroke="#f0f0f0" stroke-width="0.6"/><line x1="26.7" y1="200.2" x2="141.5" y2="176.7" stroke="#f0f0f0" stroke-width="0.6"/><line x1="141.5" y1="176.7" x2="228.3" y2="209.1" stroke="#f0f0f0" stroke-width="0.6"/><line x1="26.7" y1="269.3" x2="26.7" y2="200.2" stroke="#f0f0f0" stroke-width="0.6"/><line x1="113.5" y1="301.7" x2="26.7" y2="269.3" stroke="#f0f0f0" stroke-width="0.6"/><line x1="55.4" y1="263.4" x2="55.4" y2="194.3" stroke="#f0f0f0" stroke-width="0.6"/><line x1="142.2" y1="295.8" x2="55.4" y2="263.4" stroke="#f0f0f0" stroke-width="0.6"/><line x1="84.1" y1="257.6" x2="84.1" y2="188.4" stroke="#f0f0f0" stroke-width="0.6"/><line x1="170.9" y1="289.9" x2="84.1" y2="257.6" stroke="#f0f0f0" stroke-width="0.6"/><line x1="112.8" y1="251.7" x2="112.8" y2="182.5" stroke="#f0f0f0" stroke-width="0.6"/><line x1="199.6" y1="284.1" x2="112.8" y2="251.7" stroke="#f0f0f0" stroke-width="0.6"/><line x1="141.5" y1="245.8" x2="141.5" y2="176.7" stroke="#f0f0f0" stroke-width="0.6"/><line x1="228.3" y1="278.2" x2="141.5" y2="245.8" stroke="#f0f0f0" stroke-width="0.6"/><line x1="228.3" y1="278.2" x2="228.3" y2="209.1" stroke="#f0f0f0" stroke-width="0.6"/><line x1="113.5" y1="301.7" x2="228.3" y2="278.2" stroke="#f0f0f0" stroke-width="0.6"/><line x1="204.1" y1="269.2" x2="204.1" y2="200.0" stroke="#f0f0f0" stroke-width="0.6"/><line x1="89.3" y1="292.7" x2="204.1" y2="269.2" stroke="#f0f0f0" stroke-width="0.6"/><line x1="179.9" y1="260.1" x2="179.9" y2="191.0" stroke="#f0f0f0" stroke-width="0.6"/><line x1="65.1" y1="283.6" x2="179.9" y2="260.1" stroke="#f0f0f0" stroke-width="0.6"/><line x1="155.8" y1="251.1" x2="155.8" y2="182.0" stroke="#f0f0f0" stroke-width="0.6"/><line x1="41.0" y1="274.6" x2="155.8" y2="251.1" stroke="#f0f0f0" stroke-width="0.6"/><line x1="141.5" y1="245.8" x2="141.5" y2="176.7" stroke="#f0f0f0" stroke-width="0.6"/><line x1="228.3" y1="278.2" x2="228.3" y2="209.1" stroke="#f0f0f0" stroke-width="0.6"/><line x1="26.7" y1="269.3" x2="141.5" y2="245.8" stroke="#f0f0f0" stroke-width="0.6"/><line x1="141.5" y1="245.8" x2="228.3" y2="278.2" stroke="#f0f0f0" stroke-width="0.6"/><g fill="currentColor" stroke="currentColor" stroke-width=".7" stroke-linejoin="round"><path color="#700" d="M143.6 195.3l-11.4-2.9l-.8-.2l1.6-1.3l2.8 .8l11.4 3z"/><path color="#600" d="M155 198.1l-11.4-2.8l3.6-.6l11.4 3.1z"/><path color="#700" d="M168.9 205.4l-13.9-7.3l3.6-.3l14 7z"/><path color="#800" d="M182.8 212l-13.9-6.6l3.7-.6l13.9 6.4z"/><path color="#900" d="M196.7 217.9l-13.9-5.9l3.7-.8l13.9 5.8z"/><path color="#800" d="M207.3 220.5l-10.6-2.6l3.7-.9l8.6 2.3z"/><path color="#700" d="M139.9 195.8l-10.2-2.4l1.7-1.2l.8 .2l11.4 2.9z"/><path color="#600" d="M151.3 198.5l-11.4-2.7l3.7-.5l11.4 2.8z"/><path color="#800" d="M165.2 206l-13.9-7.5l3.7-.4l13.9 7.3z"/><path color="#900" d="M179.1 212.8l-13.9-6.8l3.7-.6l13.9 6.6z"/><path color="#a00" d="M193.1 218.8l-14-6l3.7-.8l13.9 5.9z"/><path color="#800" d="M204.5 221.4l-11.4-2.6l3.6-.9l10.6 2.6z"/><path color="#700" d="M205.6 221.7l-1.1-.3l2.8-.9z"/><path color="#700" d="M136.2 196.3l-8.2-1.8l1.7-1.1l10.2 2.4z"/><path color="#600" d="M147.6 198.8l-11.4-2.5l3.7-.5l11.4 2.7z"/><path color="#800" d="M161.6 206.6l-14-7.8l3.7-.3l13.9 7.5z"/><path color="#a00" d="M175.5 213.6l-13.9-7l3.6-.6l13.9 6.8z"/><path color="#b00" d="M189.4 219.6l-13.9-6l3.6-.8l14 6z"/><path color="#800" d="M200.8 222.2l-11.4-2.6l3.7-.8l11.4 2.6z"/><path color="#700" d="M204 222.8l-3.2-.6l3.7-.8l1.1 .3z"/><path color="#700" d="M132.6 196.8l-6.3-1.3l1.7-1l8.2 1.8z"/><path color="#600" d="M144 199.1l-11.4-2.3l3.6-.5l11.4 2.5z"/><path color="#900" d="M157.9 207.2l-13.9-8.1l3.6-.3l14 7.8z"/><path color="#b00" d="M171.8 214.4l-13.9-7.2l3.7-.6l13.9 7z"/><path color="#c00" d="M185.7 220.5l-13.9-6.1l3.7-.8l13.9 6z"/><path color="#800" d="M197.1 222.9l-11.4-2.4l3.7-.9l11.4 2.6z"/><path color="#700" d="M202.3 223.9l-5.2-1l3.7-.7l3.2 .6z"/><path color="#700" d="M128.9 197.3l-4.3-.8l1.7-1l6.3 1.3z"/><path color="#600" d="M140.3 199.5l-11.4-2.2l3.7-.5l11.4 2.3z"/><path color="#a00" d="M154.2 207.8l-13.9-8.3l3.7-.4l13.9 8.1z"/><path color="#c00" d="M168.2 215.2l-14-7.4l3.7-.6l13.9 7.2z"/><path color="#c10" d="M182.1 221.4l-13.9-6.2l3.6-.8l13.9 6.1z"/><path color="#800" d="M193.5 223.6l-11.4-2.2l3.6-.9l11.4 2.4z"/><path color="#700" d="M200.6 224.9l-7.1-1.3l3.6-.7l5.2 1z"/><path color="#700" d="M125.2 197.9l-2.3-.4l1.7-1l4.3 .8z"/><path color="#600" d="M136.6 199.8l-11.4-1.9l3.7-.6l11.4 2.2z"/><path color="#b00" d="M150.6 208.5l-14-8.7l3.7-.3l13.9 8.3z"/><path color="#c10" d="M164.5 216l-13.9-7.5l3.6-.7l14 7.4z"/><path color="#c20" d="M178.4 222.3l-13.9-6.3l3.7-.8l13.9 6.2z"/><path color="#710" d="M189.8 224.3l-11.4-2l3.7-.9l11.4 2.2z"/><path color="#700" d="M198.9 225.8l-9.1-1.5l3.7-.7l7.1 1.3z"/><path color="#600" d="M133 200.2l-11.4-1.8l-.4-.1l1.7-.8l2.3 .4l11.4 1.9z"/><path color="#b00" d="M146.9 209.1l-13.9-8.9l3.6-.4l14 8.7z"/><path color="#c20" d="M160.8 216.8l-13.9-7.7l3.7-.6l13.9 7.5z"/><path color="#c30" d="M174.7 223.2l-13.9-6.4l3.7-.8l13.9 6.3z"/><path color="#610" d="M186.1 225l-11.4-1.8l3.7-.9l11.4 2z"/><path color="#600" d="M197.2 226.7l-11.1-1.7l3.7-.7l9.1 1.5z"/><path color="#600" d="M119.5 199.1l1.7-.8l.4 .1z"/><path color="#500" d="M129.3 200.5l-9.8-1.4l2.1-.7l11.4 1.8z"/><path color="#c00" d="M143.2 209.7l-13.9-9.2l3.7-.3l13.9 8.9z"/><path color="#c30" d="M157.2 217.6l-14-7.9l3.7-.6l13.9 7.7z"/><path color="#c40" d="M171.1 224.1l-13.9-6.5l3.6-.8l13.9 6.4z"/><path color="#620" d="M182.5 225.7l-11.4-1.6l3.6-.9l11.4 1.8z"/><path color="#610" d="M193.9 227.3l-11.4-1.6l3.6-.7l11.1 1.7z"/><path color="#600" d="M195.5 227.5l-1.6-.2l3.3-.6z"/><path color="#500" d="M125.6 200.8l-7.7-.9l1.6-.8l9.8 1.4z"/><path color="#c10" d="M139.6 210.3l-14-9.5l3.7-.3l13.9 9.2z"/><path color="#c30" d="M153.5 218.4l-13.9-8.1l3.6-.6l14 7.9z"/><path color="#c50" d="M167.4 225l-13.9-6.6l3.7-.8l13.9 6.5z"/><path color="#520" d="M178.8 226.4l-11.4-1.4l3.7-.9l11.4 1.6z"/><path color="#510" d="M190.2 227.8l-11.4-1.4l3.7-.7l11.4 1.6z"/><path color="#500" d="M193.8 228.2l-3.6-.4l3.7-.5l1.6 .2z"/><path color="#400" d="M122 201.2l-5.8-.8l1.7-.5l7.7 .9z"/><path color="#c10" d="M135.9 210.6l-13.9-9.4l3.6-.4l14 9.5z"/><path color="#c40" d="M149.8 218.8l-13.9-8.2l3.7-.3l13.9 8.1z"/><path color="#b50" d="M163.7 225.3l-13.9-6.5l3.7-.4l13.9 6.6z"/><path color="#420" d="M175.1 226.7l-11.4-1.4l3.7-.3l11.4 1.4z"/><path color="#410" d="M192.1 228.8l-5.6-.7l-11.4-1.4l3.7-.3l11.4 1.4l3.6 .4z"/><path color="#400" d="M118.3 201.5l-3.8-.5l1.7-.6l5.8 .8z"/><path color="#c20" d="M132.2 210.9l-13.9-9.4l3.7-.3l13.9 9.4z"/><path color="#c50" d="M146.2 219.1l-14-8.2l3.7-.3l13.9 8.2z"/><path color="#b60" d="M160.1 225.6l-13.9-6.5l3.6-.3l13.9 6.5z"/><path color="#420" d="M171.5 227l-11.4-1.4l3.6-.3l11.4 1.4z"/><path color="#410" d="M190.5 229.4l-7.6-1l-11.4-1.4l3.6-.3l11.4 1.4l5.6 .7z"/><path color="#300" d="M114.6 201.8l-1.8-.2l1.7-.6l3.8 .5z"/><path color="#c20" d="M128.6 211.3l-14-9.5l3.7-.3l13.9 9.4z"/><path color="#c50" d="M142.5 219.4l-13.9-8.1l3.6-.4l14 8.2z"/><path color="#b70" d="M156.4 226l-13.9-6.6l3.7-.3l13.9 6.5z"/><path color="#420" d="M167.8 227.4l-11.4-1.4l3.7-.4l11.4 1.4z"/><path color="#310" d="M188.8 230l-9.6-1.2l-11.4-1.4l3.7-.4l11.4 1.4l7.6 1z"/><path color="#300" d="M111.1 202.3l1.7-.7l1.8 .2z"/><path color="#c30" d="M124.7 211.5l-13.6-9.2l3.5-.5l14 9.5z"/><path color="#c60" d="M138.6 219.7l-13.9-8.2l3.9-.2l13.9 8.1z"/><path color="#b70" d="M152.6 226.2l-14-6.5l3.9-.3l13.9 6.6z"/><path color="#530" d="M164 227.6l-11.4-1.4l3.8-.2l11.4 1.4z"/><path color="#310" d="M186.8 230.4l-11.4-1.4l-11.4-1.4l3.8-.2l11.4 1.4l9.6 1.2z"/><path color="#300" d="M187.1 230.7l-.3-.3l2-.4z"/><path color="#d40" d="M118.6 210.9l-9.2-6l1.7-2.6l13.6 9.2z"/><path color="#c70" d="M132.5 219.1l-13.9-8.2l6.1 .6l13.9 8.2z"/><path color="#c80" d="M146.5 225.6l-14-6.5l6.1 .6l14 6.5z"/><path color="#430" d="M157.8 227l-11.3-1.4l6.1 .6l11.4 1.4z"/><path color="#210" d="M169.2 228.4l-11.4-1.4l6.2 .6l11.4 1.4z"/><path color="#200" d="M180.6 229.8l-11.4-1.4l6.2 .6l11.4 1.4z"/><path color="#d20" d="M185.4 233.2l-4.8-3.4l6.2 .6l.3 .3z"/><path color="#c50" d="M112.5 210.3l-4.8-3.1l1.7-2.3l9.2 6z"/><path color="#c70" d="M126.4 218.5l-13.9-8.2l6.1 .6l13.9 8.2z"/><path color="#c80" d="M140.3 225l-13.9-6.5l6.1 .6l14 6.5z"/><path color="#430" d="M151.7 226.4l-11.4-1.4l6.2 .6l11.3 1.4z"/><path color="#110" d="M163.1 227.8l-11.4-1.4l6.1 .6l11.4 1.4z"/><path color="#100" d="M174.5 229.2l-11.4-1.4l6.1 .6l11.4 1.4z"/><path color="#d30" d="M183.7 235.6l-9.2-6.4l6.1 .6l4.8 3.4z"/><path color="#c60" d="M106.4 209.7l-.4-.2l1.7-2.3l4.8 3.1z"/><path color="#c80" d="M120.3 217.9l-13.9-8.2l6.1 .6l13.9 8.2z"/><path color="#c90" d="M134.2 224.4l-13.9-6.5l6.1 .6l13.9 6.5z"/><path color="#430" d="M145.6 225.8l-11.4-1.4l6.1 .6l11.4 1.4z"/><path color="#100" d="M168.4 228.6l-11.4-1.4l-11.4-1.4l6.1 .6l11.4 1.4l11.4 1.4z"/><path color="#d50" d="M182 237.9l-13.6-9.3l6.1 .6l9.2 6.4z"/><path color="#c70" d="M104.4 211.6l1.6-2.1l.4 .2z"/><path color="#c80" d="M114.2 217.3l-9.8-5.7l2-1.9l13.9 8.2z"/><path color="#c90" d="M128.1 223.8l-13.9-6.5l6.1 .6l13.9 6.5z"/><path color="#430" d="M139.5 225.2l-11.4-1.4l6.1 .6l11.4 1.4z"/><path color="#000" d="M162.3 228l-11.4-1.4l-11.4-1.4l6.1 .6l11.4 1.4l11.4 1.4z"/><path color="#d50" d="M176.2 237.4l-13.9-9.4l6.1 .6l13.6 9.3z"/><path color="#c70" d="M180.3 240l-4.1-2.6l5.8 .5z"/><path color="#c90" d="M108.1 216.6l-5.4-2.9l1.7-2.1l9.8 5.7z"/><path color="#ca0" d="M122 223.2l-13.9-6.6l6.1 .7l13.9 6.5z"/><path color="#440" d="M133.4 224.6l-11.4-1.4l6.1 .6l11.4 1.4z"/><path color="#000" d="M156.2 227.4l-11.4-1.4l-11.4-1.4l6.1 .6l11.4 1.4l11.4 1.4z"/><path color="#d60" d="M170.1 236.8l-13.9-9.4l6.1 .6l13.9 9.4z"/><path color="#c80" d="M178.6 242l-8.5-5.2l6.1 .6l4.1 2.6z"/><path color="#ca0" d="M101.9 216l-.9-.5l1.7-1.8l5.4 2.9z"/><path color="#cb0" d="M115.9 222.6l-14-6.6l6.2 .6l13.9 6.6z"/><path color="#440" d="M127.3 224l-11.4-1.4l6.1 .6l11.4 1.4z"/><path color="#000" d="M150 226.8l-11.3-1.4l-11.4-1.4l6.1 .6l11.4 1.4l11.4 1.4z"/><path color="#d70" d="M164 236.2l-14-9.4l6.2 .6l13.9 9.4z"/><path color="#c90" d="M177 243.9l-13-7.7l6.1 .6l8.5 5.2z"/><path color="#cb0" d="M109.7 222l-10.4-4.7l1.7-1.8l.9 .5l14 6.6z"/><path color="#440" d="M121.1 223.4l-11.4-1.4l6.2 .6l11.4 1.4z"/><path color="#000" d="M143.9 226.2l-11.4-1.4l-11.4-1.4l6.2 .6l11.4 1.4l11.3 1.4z"/><path color="#d70" d="M157.9 235.6l-14-9.4l6.1 .6l14 9.4z"/><path color="#ca0" d="M171.8 243.8l-13.9-8.2l6.1 .6l13 7.7z"/><path color="#cb0" d="M175.3 245.6l-3.5-1.8l5.2 .1z"/><path color="#bb0" d="M103.6 221.4l-6-2.6l1.7-1.5l10.4 4.7z"/><path color="#440" d="M115 222.8l-11.4-1.4l6.1 .6l11.4 1.4z"/><path color="#000" d="M137.8 225.6l-11.4-1.4l-11.4-1.4l6.1 .6l11.4 1.4l11.4 1.4z"/><path color="#d80" d="M151.7 235.1l-13.9-9.5l6.1 .6l14 9.4z"/><path color="#cb0" d="M165.7 243.2l-14-8.1l6.2 .5l13.9 8.2z"/><path color="#cc0" d="M173.6 247.2l-7.9-4l6.1 .6l3.5 1.8z"/><path color="#ab1" d="M97.5 220.9l-1.6-.7l1.7-1.4l6 2.6z"/><path color="#440" d="M108.9 222.3l-11.4-1.4l6.1 .5l11.4 1.4z"/><path color="#000" d="M131.7 225.1l-11.4-1.4l-11.4-1.4l6.1 .5l11.4 1.4l11.4 1.4z"/><path color="#d80" d="M145.6 234.5l-13.9-9.4l6.1 .5l13.9 9.5z"/><path color="#cb0" d="M159.5 242.7l-13.9-8.2l6.1 .6l14 8.1z"/><path color="#bc1" d="M171.9 248.6l-12.4-5.9l6.2 .5l7.9 4z"/><path color="#891" d="M94.2 220.7l1.7-.5l1.6 .7z"/><path color="#440" d="M102.8 221.8l-8.6-1.1l3.3 .2l11.4 1.4z"/><path color="#000" d="M125.6 224.6l-11.4-1.4l-11.4-1.4l6.1 .5l11.4 1.4l11.4 1.4z"/><path color="#d90" d="M139.5 234.1l-13.9-9.5l6.1 .5l13.9 9.4z"/><path color="#cc0" d="M153.4 242.2l-13.9-8.1l6.1 .4l13.9 8.2z"/><path color="#bc1" d="M167.4 248.7l-14-6.5l6.1 .5l12.4 5.9z"/><path color="#9a1" d="M170.2 249.1l-2.8-.4l4.5-.1z"/><path color="#220" d="M96.7 221.4l-4.1-.5l1.6-.2l8.6 1.1z"/><path color="#000" d="M119.5 224.2l-11.4-1.4l-11.4-1.4l6.1 .4l11.4 1.4l11.4 1.4z"/><path color="#da0" d="M133.4 233.6l-13.9-9.4l6.1 .4l13.9 9.5z"/><path color="#cc0" d="M147.3 241.8l-13.9-8.2l6.1 .5l13.9 8.1z"/><path color="#ac2" d="M161.2 248.3l-13.9-6.5l6.1 .4l14 6.5z"/><path color="#781" d="M168.5 249.2l-7.3-.9l6.2 .4l2.8 .4z"/><path color="#000" d="M113.3 223.8l-11.4-1.4l-11-1.4l1.7-.1l4.1 .5l11.4 1.4l11.4 1.4z"/><path color="#db0" d="M127.3 233.3l-14-9.5l6.2 .4l13.9 9.4z"/><path color="#bc1" d="M141.2 241.4l-13.9-8.1l6.1 .3l13.9 8.2z"/><path color="#9c3" d="M155.1 247.9l-13.9-6.5l6.1 .4l13.9 6.5z"/><path color="#561" d="M166.5 249.3l-11.4-1.4l6.1 .4l7.3 .9z"/><path color="#010" d="M166.8 249.4l-.3-.1l2-.1z"/><path color="#000" d="M107.2 223.5l-11.4-1.4l-6.6-.9l1.7-.2l11 1.4l11.4 1.4z"/><path color="#db0" d="M121.1 232.9l-13.9-9.4l6.1 .3l14 9.5z"/><path color="#bc2" d="M135.1 241.1l-14-8.2l6.2 .4l13.9 8.1z"/><path color="#9c3" d="M149 247.6l-13.9-6.5l6.1 .3l13.9 6.5z"/><path color="#341" d="M160.4 249l-11.4-1.4l6.1 .3l11.4 1.4z"/><path color="#000" d="M165.1 249.6l-4.7-.6l6.1 .3l.3 .1z"/><path color="#000" d="M101.1 223.1l-11.4-1.4l-2.2-.2l1.7-.3l6.6 .9l11.4 1.4z"/><path color="#dc0" d="M115 232.6l-13.9-9.5l6.1 .4l13.9 9.4z"/><path color="#ac3" d="M129 240.8l-14-8.2l6.1 .3l14 8.2z"/><path color="#8c4" d="M142.9 247.3l-13.9-6.5l6.1 .3l13.9 6.5z"/><path color="#341" d="M154.3 248.7l-11.4-1.4l6.1 .3l11.4 1.4z"/><path color="#000" d="M163.5 249.8l-9.2-1.1l6.1 .3l4.7 .6z"/><path color="#000" d="M95 222.8l-9.2-1.1l1.7-.2l2.2 .2l11.4 1.4z"/><path color="#cd0" d="M108.9 232.3l-13.9-9.5l6.1 .3l13.9 9.5z"/><path color="#9c3" d="M122.8 240.4l-13.9-8.1l6.1 .3l14 8.2z"/><path color="#7c5" d="M136.8 246.9l-14-6.5l6.2 .4l13.9 6.5z"/><path color="#342" d="M148.2 248.4l-11.4-1.5l6.1 .4l11.4 1.4z"/><path color="#000" d="M161.8 250l-2.2-.2l-11.4-1.4l6.1 .3l9.2 1.1z"/><path color="#000" d="M88.9 222.5l-4.8-.6l1.7-.2l9.2 1.1z"/><path color="#bd1" d="M102.8 231.9l-13.9-9.4l6.1 .3l13.9 9.5z"/><path color="#8c4" d="M116.7 240.1l-13.9-8.2l6.1 .4l13.9 8.1z"/><path color="#6c6" d="M130.6 246.6l-13.9-6.5l6.1 .3l14 6.5z"/><path color="#342" d="M142 248l-11.4-1.4l6.2 .3l11.4 1.5z"/><path color="#000" d="M160.1 250.3l-6.7-.9l-11.4-1.4l6.2 .4l11.4 1.4l2.2 .2z"/><path color="#000" d="M82.7 222.1l-.3 0l1.7-.2l4.8 .6z"/><path color="#bd2" d="M96.7 231.5l-14-9.4l6.2 .4l13.9 9.4z"/><path color="#7c5" d="M110.6 239.5l-13.9-8l6.1 .4l13.9 8.2z"/><path color="#5b6" d="M124.5 246l-13.9-6.5l6.1 .6l13.9 6.5z"/><path color="#242" d="M135.9 247.5l-11.4-1.5l6.1 .6l11.4 1.4z"/><path color="#000" d="M158.4 250.5l-11.1-1.5l-11.4-1.5l6.1 .5l11.4 1.4l6.7 .9z"/><path color="#bc1" d="M80.7 224.1l1.7-2l.3 0z"/><path color="#9c3" d="M92.1 231.4l-11.4-7.3l2-2l14 9.4z"/><path color="#7c5" d="M106 239.4l-13.9-8l4.6 .1l13.9 8z"/><path color="#5b6" d="M119.9 245.8l-13.9-6.4l4.6 .1l13.9 6.5z"/><path color="#242" d="M131.3 247.4l-11.4-1.6l4.6 .2l11.4 1.5z"/><path color="#000" d="M154.1 250.7l-11.4-1.7l-11.4-1.6l4.6 .1l11.4 1.5l11.1 1.5z"/><path color="#bc1" d="M156.7 252.4l-2.6-1.7l4.3-.2z"/><path color="#8c4" d="M87.6 231.4l-8.5-5.3l1.6-2l11.4 7.3z"/><path color="#6c6" d="M101.5 239.2l-13.9-7.8l4.5 0l13.9 8z"/><path color="#4b7" d="M115.4 245.6l-13.9-6.4l4.5 .2l13.9 6.4z"/><path color="#243" d="M126.8 247.3l-11.4-1.7l4.5 .2l11.4 1.6z"/><path color="#000" d="M149.6 250.8l-11.4-1.7l-11.4-1.8l4.5 .1l11.4 1.6l11.4 1.7z"/><path color="#ac2" d="M155 254.4l-5.4-3.6l4.5-.1l2.6 1.7z"/><path color="#7c5" d="M83.1 231.4l-5.7-3.5l1.7-1.8l8.5 5.3z"/><path color="#6c6" d="M97 239.1l-13.9-7.7l4.5 0l13.9 7.8z"/><path color="#4b7" d="M110.9 245.4l-13.9-6.3l4.5 .1l13.9 6.4z"/><path color="#253" d="M122.3 247.2l-11.4-1.8l4.5 .2l11.4 1.7z"/><path color="#010" d="M133.7 249.1l-11.4-1.9l4.5 .1l11.4 1.8z"/><path color="#110" d="M145.1 251l-11.4-1.9l4.5 0l11.4 1.7z"/><path color="#9c3" d="M153.3 256.3l-8.2-5.3l4.5-.2l5.4 3.6z"/><path color="#7c5" d="M78.6 231.4l-2.9-1.7l1.7-1.8l5.7 3.5z"/><path color="#5c7" d="M92.5 238.9l-13.9-7.5l4.5 0l13.9 7.7z"/><path color="#4b7" d="M106.4 245.1l-13.9-6.2l4.5 .2l13.9 6.3z"/><path color="#253" d="M117.8 247.1l-11.4-2l4.5 .3l11.4 1.8z"/><path color="#121" d="M140.6 251.2l-11.4-2l-11.4-2.1l4.5 .1l11.4 1.9l11.4 1.9z"/><path color="#8c4" d="M151.6 258l-11-6.8l4.5-.2l8.2 5.3z"/><path color="#6c6" d="M74.1 231.3l-.1 0l1.7-1.6l2.9 1.7z"/><path color="#5c7" d="M88 238.7l-13.9-7.4l4.5 .1l13.9 7.5z"/><path color="#3b8" d="M101.9 244.9l-13.9-6.2l4.5 .2l13.9 6.2z"/><path color="#264" d="M113.3 247l-11.4-2.1l4.5 .2l11.4 2z"/><path color="#131" d="M124.7 249.2l-11.4-2.2l4.5 .1l11.4 2.1z"/><path color="#231" d="M136.1 251.3l-11.4-2.1l4.5 0l11.4 2z"/><path color="#7c5" d="M150 259.6l-13.9-8.3l4.5-.1l11 6.8z"/><path color="#5c7" d="M72.3 232.8l1.7-1.5l.1 0z"/><path color="#4c7" d="M83.5 238.6l-11.2-5.8l1.8-1.5l13.9 7.4z"/><path color="#3b8" d="M97.5 244.7l-14-6.1l4.5 .1l13.9 6.2z"/><path color="#264" d="M108.9 246.9l-11.4-2.2l4.4 .2l11.4 2.1z"/><path color="#242" d="M131.6 251.5l-11.4-2.3l-11.3-2.3l4.4 .1l11.4 2.2l11.4 2.1z"/><path color="#6c6" d="M145.6 259.7l-14-8.2l4.5-.2l13.9 8.3z"/><path color="#5c7" d="M148.3 261.1l-2.7-1.4l4.4-.1z"/><path color="#3b8" d="M79 238.1l-8.4-4.1l1.7-1.2l11.2 5.8z"/><path color="#2a7" d="M93 244.1l-14-6l4.5 .5l14 6.1z"/><path color="#275" d="M104.4 246.6l-11.4-2.5l4.5 .6l11.4 2.2z"/><path color="#243" d="M115.8 249.2l-11.4-2.6l4.5 .3l11.3 2.3z"/><path color="#242" d="M127.1 251.7l-11.3-2.5l4.4 0l11.4 2.3z"/><path color="#6c6" d="M141.1 259.5l-14-7.8l4.5-.2l14 8.2z"/><path color="#4b7" d="M146.6 262.3l-5.5-2.8l4.5 .2l2.7 1.4z"/><path color="#3b8" d="M74.5 237.6l-5.6-2.6l1.7-1l8.4 4.1z"/><path color="#2a7" d="M88.5 243.4l-14-5.8l4.5 .5l14 6z"/><path color="#276" d="M99.9 246.3l-11.4-2.9l4.5 .7l11.4 2.5z"/><path color="#253" d="M111.3 249.1l-11.4-2.8l4.5 .3l11.4 2.6z"/><path color="#353" d="M122.7 251.9l-11.4-2.8l4.5 .1l11.3 2.5z"/><path color="#5c7" d="M136.6 259.2l-13.9-7.3l4.4-.2l14 7.8z"/><path color="#4b7" d="M144.9 263.3l-8.3-4.1l4.5 .3l5.5 2.8z"/><path color="#3a8" d="M70.1 237.1l-2.9-1.3l1.7-.8l5.6 2.6z"/><path color="#297" d="M84 242.8l-13.9-5.7l4.4 .5l14 5.8z"/><path color="#286" d="M95.4 245.9l-11.4-3.1l4.5 .6l11.4 2.9z"/><path color="#264" d="M106.8 249l-11.4-3.1l4.5 .4l11.4 2.8z"/><path color="#364" d="M118.2 252.1l-11.4-3.1l4.5 .1l11.4 2.8z"/><path color="#5c7" d="M132.1 259l-13.9-6.9l4.5-.2l13.9 7.3z"/><path color="#3b8" d="M143.2 264.2l-11.1-5.2l4.5 .2l8.3 4.1z"/><path color="#2a8" d="M65.6 236.6l1.6-.8l2.9 1.3z"/><path color="#297" d="M90.9 245.6l-11.4-3.4l-13.9-5.6l4.5 .5l13.9 5.7l11.4 3.1z"/><path color="#275" d="M102.3 249l-11.4-3.4l4.5 .3l11.4 3.1z"/><path color="#375" d="M113.7 252.4l-11.4-3.4l4.5 0l11.4 3.1z"/><path color="#4c8" d="M127.6 258.9l-13.9-6.5l4.5-.3l13.9 6.9z"/><path color="#3b8" d="M141.5 265l-13.9-6.1l4.5 .1l11.1 5.2z"/><path color="#2a8" d="M63.9 237.3l1.7-.7z"/><path color="#297" d="M86.4 245.3l-11.4-3.7l-11.1-4.3l1.7-.7l13.9 5.6l11.4 3.4z"/><path color="#286" d="M109.2 252.6l-11.4-3.6l-11.4-3.7l4.5 .3l11.4 3.4l11.4 3.4z"/><path color="#3b8" d="M123.1 258.7l-13.9-6.1l4.5-.2l13.9 6.5z"/><path color="#2a8" d="M139.8 265.6l-2.8-1.1l-13.9-5.8l4.5 .2l13.9 6.1z"/><path color="#297" d="M70.5 241l-8.3-3.2l1.7-.5l11.1 4.3z"/><path color="#2a8" d="M81.9 245l-11.4-4l4.5 .6l11.4 3.7z"/><path color="#297" d="M104.7 252.9l-11.4-4l-11.4-3.9l4.5 .3l11.4 3.7l11.4 3.6z"/><path color="#3b8" d="M118.6 258.5l-13.9-5.6l4.5-.3l13.9 6.1z"/><path color="#2a8" d="M132.5 264l-13.9-5.5l4.5 .2l13.9 5.8z"/><path color="#298" d="M138.1 266.2l-5.6-2.2l4.5 .5l2.8 1.1z"/><path color="#197" d="M66 240.4l-5.5-2.1l1.7-.5l8.3 3.2z"/><path color="#2a8" d="M100.2 253.2l-11.4-4.3l-11.4-4.3l-11.4-4.2l4.5 .6l11.4 4l11.4 3.9l11.4 4z"/><path color="#2b9" d="M114.1 258.4l-13.9-5.2l4.5-.3l13.9 5.6z"/><path color="#2a8" d="M128 263.6l-13.9-5.2l4.5 .1l13.9 5.5z"/><path color="#297" d="M136.5 266.7l-8.5-3.1l4.5 .4l5.6 2.2z"/><path color="#2ba" d="M135 267.8l-3.1-1.2l-3.2-1.2l-3.2-1.1l-3.1-1.2l-3.2-1.2l-3.2-1.2l-3.1-1.2l-3.2-1.2l-3.2-1.1l-3.1-1.2l-3.2-1.2l-3.2-1.2l-3.1-1.2l-3.2-1.1l-3.2-1.2l-3.1-1.2l-3.2-1.2l-3.2-1.2l-3.1-1.2l-3.2-1.1l-3.1-1.2l-3.2-1.2l-3.2-1.2l-3.1-1.2l1.4-1.1l3.2 1.2l3.1 1.2l3.2 1.2l3.2 1.2l3.1 1.1l3.2 1.2l3.1 1.2l3.2 1.2l3.2 1.2l3.1 1.2l3.2 1.1l3.2 1.2l3.1 1.2l3.2 1.2l3.2 1.2l3.1 1.1l3.2 1.2l3.2 1.2l3.1 1.2l3.2 1.2l3.2 1.1l3.1 1.2l3.2 1.2l3.2 1.2z"/><path color="#1ba" d="M133.6 268.9l-3.2-1.2l-3.1-1.2l-3.2-1.2l-3.2-1.1l-3.1-1.2l-3.2-1.2l-3.2-1.2l-3.1-1.2l-3.2-1.1l-3.2-1.2l-3.1-1.2l-3.2-1.2l-3.2-1.2l-3.1-1.1l-3.2-1.2l-3.2-1.2l-3.1-1.2l-3.2-1.2l-3.2-1.2l-3.1-1.1l-3.2-1.2l-3.1-1.2l-3.2-1.2l-3.2-1.2l1.5-1.1l3.1 1.2l3.2 1.2l3.2 1.2l3.1 1.2l3.2 1.1l3.1 1.2l3.2 1.2l3.2 1.2l3.1 1.2l3.2 1.2l3.2 1.1l3.1 1.2l3.2 1.2l3.2 1.2l3.1 1.2l3.2 1.1l3.2 1.2l3.1 1.2l3.2 1.2l3.2 1.2l3.1 1.2l3.2 1.1l3.2 1.2l3.1 1.2z"/><path color="#0bb" d="M132.2 270l-3.2-1.2l-3.2-1.1l-3.1-1.2l-3.2-1.2l-3.2-1.2l-3.1-1.2l-3.2-1.1l-3.2-1.2l-3.1-1.2l-3.2-1.2l-3.2-1.2l-3.1-1.2l-3.2-1.1l-3.2-1.2l-3.1-1.2l-3.2-1.2l-3.2-1.2l-3.1-1.1l-3.2-1.2l-3.2-1.2l-3.1-1.2l-3.2-1.2l-3.1-1.1l-3.2-1.2l1.4-1.2l3.2 1.2l3.2 1.2l3.1 1.2l3.2 1.2l3.1 1.1l3.2 1.2l3.2 1.2l3.1 1.2l3.2 1.2l3.2 1.2l3.1 1.1l3.2 1.2l3.2 1.2l3.1 1.2l3.2 1.2l3.2 1.1l3.1 1.2l3.2 1.2l3.2 1.2l3.1 1.2l3.2 1.1l3.2 1.2l3.1 1.2l3.2 1.2z"/><path color="#0bb" d="M130.7 271.2l-3.1-1.1l-3.2-1.2l-3.2-1.2l-3.1-1.2l-3.2-1.2l-3.2-1.2l-3.1-1.1l-3.2-1.2l-3.2-1.2l-3.1-1.2l-3.2-1.2l-3.2-1.1l-3.1-1.2l-3.2-1.2l-3.2-1.2l-3.1-1.2l-3.2-1.2l-3.2-1.1l-3.1-1.2l-3.2-1.2l-3.2-1.2l-3.1-1.2l-3.2-1.1l-3.1-1.2l1.4-1.2l3.2 1.2l3.1 1.1l3.2 1.2l3.1 1.2l3.2 1.2l3.2 1.2l3.1 1.1l3.2 1.2l3.2 1.2l3.1 1.2l3.2 1.2l3.2 1.1l3.1 1.2l3.2 1.2l3.2 1.2l3.1 1.2l3.2 1.2l3.2 1.1l3.1 1.2l3.2 1.2l3.2 1.2l3.1 1.2l3.2 1.1l3.2 1.2z"/><path color="#0bc" d="M129.3 272.6l-3.2-1.2l-3.1-1.2l-3.2-1.2l-3.2-1.2l-3.1-1.1l-3.2-1.2l-3.2-1.2l-3.1-1.2l-3.2-1.2l-3.2-1.1l-3.1-1.2l-3.2-1.2l-3.2-1.2l-3.1-1.2l-3.2-1.2l-3.2-1.1l-3.1-1.2l-3.2-1.2l-3.2-1.2l-3.1-1.2l-3.2-1.1l-3.2-1.2l-3.1-1.2l-3.2-1.2l1.5-1.3l3.1 1.2l3.2 1.1l3.1 1.2l3.2 1.2l3.2 1.2l3.1 1.2l3.2 1.1l3.2 1.2l3.1 1.2l3.2 1.2l3.2 1.2l3.1 1.2l3.2 1.1l3.2 1.2l3.1 1.2l3.2 1.2l3.2 1.2l3.1 1.1l3.2 1.2l3.2 1.2l3.1 1.2l3.2 1.2l3.2 1.2l3.1 1.1z"/><path color="#0ac" d="M127.8 274l-3.1-1.2l-3.2-1.1l-3.1-1.2l-3.2-1.2l-3.2-1.2l-3.1-1.2l-3.2-1.2l-3.2-1.1l-3.1-1.2l-3.2-1.2l-3.2-1.2l-3.1-1.2l-3.2-1.1l-3.2-1.2l-3.1-1.2l-3.2-1.2l-3.2-1.2l-3.1-1.2l-3.2-1.1l-3.2-1.2l-3.1-1.2l-3.2-1.2l-3.2-1.2l-3.1-1.1l1.4-1.5l3.2 1.2l3.1 1.2l3.2 1.2l3.2 1.1l3.1 1.2l3.2 1.2l3.2 1.2l3.1 1.2l3.2 1.1l3.2 1.2l3.1 1.2l3.2 1.2l3.2 1.2l3.1 1.2l3.2 1.1l3.2 1.2l3.1 1.2l3.2 1.2l3.2 1.2l3.1 1.1l3.2 1.2l3.2 1.2l3.1 1.2l3.2 1.2z"/><path color="#09c" d="M126.4 275.5l-3.2-1.2l-3.1-1.2l-3.2-1.1l-3.1-1.2l-3.2-1.2l-3.2-1.2l-3.1-1.2l-3.2-1.2l-3.2-1.1l-3.1-1.2l-3.2-1.2l-3.2-1.2l-3.1-1.2l-3.2-1.1l-3.2-1.2l-3.1-1.2l-3.2-1.2l-3.2-1.2l-3.1-1.2l-3.2-1.1l-3.2-1.2l-3.1-1.2l-3.2-1.2l-3.2-1.2l1.5-1.4l3.1 1.1l3.2 1.2l3.2 1.2l3.1 1.2l3.2 1.2l3.2 1.1l3.1 1.2l3.2 1.2l3.2 1.2l3.1 1.2l3.2 1.2l3.2 1.1l3.1 1.2l3.2 1.2l3.2 1.2l3.1 1.2l3.2 1.1l3.2 1.2l3.1 1.2l3.2 1.2l3.2 1.2l3.1 1.2l3.2 1.1l3.1 1.2z"/><path color="#08c" d="M125 276.9l-3.2-1.1l-3.2-1.2l-3.1-1.2l-3.2-1.2l-3.1-1.2l-3.2-1.1l-3.2-1.2l-3.1-1.2l-3.2-1.2l-3.2-1.2l-3.1-1.2l-3.2-1.1l-3.2-1.2l-3.1-1.2l-3.2-1.2l-3.2-1.2l-3.1-1.1l-3.2-1.2l-3.2-1.2l-3.1-1.2l-3.2-1.2l-3.2-1.2l-3.1-1.1l-3.2-1.2l1.4-1.5l3.2 1.2l3.2 1.2l3.1 1.2l3.2 1.2l3.2 1.1l3.1 1.2l3.2 1.2l3.2 1.2l3.1 1.2l3.2 1.2l3.2 1.1l3.1 1.2l3.2 1.2l3.2 1.2l3.1 1.2l3.2 1.1l3.2 1.2l3.1 1.2l3.2 1.2l3.2 1.2l3.1 1.2l3.2 1.1l3.1 1.2l3.2 1.2z"/><path color="#07c" d="M124 277.8l-3.1-1.1l-3.2-1.2l-3.2-1.2l-3.1-1.2l-3.2-1.2l-3.2-1.1l-3.1-1.2l-3.2-1.2l-3.2-1.2l-3.1-1.2l-3.2-1.2l-3.2-1.1l-3.1-1.2l-3.2-1.2l-3.2-1.2l-3.1-1.2l-3.2-1.1l-3.2-1.2l-3.1-1.2l-3.2-1.2l-3.1-1.2l-3.2-1.2l-3.2-1.1l-3.1-1.2l.9-.9l3.2 1.2l3.1 1.1l3.2 1.2l3.2 1.2l3.1 1.2l3.2 1.2l3.2 1.2l3.1 1.1l3.2 1.2l3.2 1.2l3.1 1.2l3.2 1.2l3.2 1.1l3.1 1.2l3.2 1.2l3.2 1.2l3.1 1.2l3.2 1.2l3.2 1.1l3.1 1.2l3.2 1.2l3.1 1.2l3.2 1.2l3.2 1.1z"/><path color="#07c" d="M123.1 278.7l-3.2-1.2l-3.2-1.1l-3.1-1.2l-3.2-1.2l-3.2-1.2l-3.1-1.2l-3.2-1.1l-3.2-1.2l-3.1-1.2l-3.2-1.2l-3.2-1.2l-3.1-1.1l-3.2-1.2l-3.1-1.2l-3.2-1.2l-3.2-1.2l-3.1-1.2l-3.2-1.1l-3.2-1.2l-3.1-1.2l-3.2-1.2l-3.2-1.2l-3.1-1.1l-3.2-1.2l1-.9l3.1 1.2l3.2 1.1l3.2 1.2l3.1 1.2l3.2 1.2l3.1 1.2l3.2 1.2l3.2 1.1l3.1 1.2l3.2 1.2l3.2 1.2l3.1 1.2l3.2 1.1l3.2 1.2l3.1 1.2l3.2 1.2l3.2 1.2l3.1 1.2l3.2 1.1l3.2 1.2l3.1 1.2l3.2 1.2l3.2 1.2l3.1 1.1z"/><path color="#06c" d="M122.1 279.7l-3.2-1.2l-3.1-1.2l-3.2-1.2l-3.2-1.1l-3.1-1.2l-3.2-1.2l-3.1-1.2l-3.2-1.2l-3.2-1.2l-3.1-1.1l-3.2-1.2l-3.2-1.2l-3.1-1.2l-3.2-1.2l-3.2-1.1l-3.1-1.2l-3.2-1.2l-3.2-1.2l-3.1-1.2l-3.2-1.2l-3.2-1.1l-3.1-1.2l-3.2-1.2l-3.2-1.2l1-.9l3.2 1.2l3.1 1.1l3.2 1.2l3.2 1.2l3.1 1.2l3.2 1.2l3.2 1.1l3.1 1.2l3.2 1.2l3.2 1.2l3.1 1.2l3.2 1.2l3.1 1.1l3.2 1.2l3.2 1.2l3.1 1.2l3.2 1.2l3.2 1.1l3.1 1.2l3.2 1.2l3.2 1.2l3.1 1.2l3.2 1.1l3.2 1.2z"/><path color="#06c" d="M121.2 280.7l-3.2-1.1l-3.2-1.2l-3.1-1.2l-3.2-1.2l-3.2-1.2l-3.1-1.1l-3.2-1.2l-3.2-1.2l-3.1-1.2l-3.2-1.2l-3.2-1.1l-3.1-1.2l-3.2-1.2l-3.2-1.2l-3.1-1.2l-3.2-1.2l-3.2-1.1l-3.1-1.2l-3.2-1.2l-3.2-1.2l-3.1-1.2l-3.2-1.1l-3.1-1.2l-3.2-1.2l.9-1.1l3.2 1.2l3.2 1.2l3.1 1.2l3.2 1.1l3.2 1.2l3.1 1.2l3.2 1.2l3.2 1.2l3.1 1.2l3.2 1.1l3.2 1.2l3.1 1.2l3.2 1.2l3.2 1.2l3.1 1.1l3.2 1.2l3.2 1.2l3.1 1.2l3.2 1.2l3.1 1.2l3.2 1.1l3.2 1.2l3.1 1.2l3.2 1.2z"/><path color="#05c" d="M120.2 282l-3.2-1.2l-3.1-1.2l-3.2-1.2l-3.2-1.1l-3.1-1.2l-3.2-1.2l-3.2-1.2l-3.1-1.2l-3.2-1.1l-3.2-1.2l-3.1-1.2l-3.2-1.2l-3.2-1.2l-3.1-1.2l-3.2-1.1l-3.1-1.2l-3.2-1.2l-3.2-1.2l-3.1-1.2l-3.2-1.1l-3.2-1.2l-3.1-1.2l-3.2-1.2l-3.2-1.2l1-1.2l3.2 1.2l3.1 1.2l3.2 1.1l3.1 1.2l3.2 1.2l3.2 1.2l3.1 1.2l3.2 1.1l3.2 1.2l3.1 1.2l3.2 1.2l3.2 1.2l3.1 1.2l3.2 1.1l3.2 1.2l3.1 1.2l3.2 1.2l3.2 1.2l3.1 1.1l3.2 1.2l3.2 1.2l3.1 1.2l3.2 1.2l3.2 1.1z"/><path color="#04c" d="M119.2 283.4l-3.1-1.2l-3.2-1.2l-3.2-1.2l-3.1-1.1l-3.2-1.2l-3.2-1.2l-3.1-1.2l-3.2-1.2l-3.1-1.2l-3.2-1.1l-3.2-1.2l-3.1-1.2l-3.2-1.2l-3.2-1.2l-3.1-1.1l-3.2-1.2l-3.2-1.2l-3.1-1.2l-3.2-1.2l-3.2-1.2l-3.1-1.1l-3.2-1.2l-3.2-1.2l-3.1-1.2l.9-1.4l3.2 1.2l3.2 1.2l3.1 1.2l3.2 1.2l3.2 1.1l3.1 1.2l3.2 1.2l3.2 1.2l3.1 1.2l3.2 1.1l3.1 1.2l3.2 1.2l3.2 1.2l3.1 1.2l3.2 1.2l3.2 1.1l3.1 1.2l3.2 1.2l3.2 1.2l3.1 1.2l3.2 1.1l3.2 1.2l3.1 1.2l3.2 1.2z"/><path color="#03d" d="M118.3 284.9l-3.2-1.1l-3.1-1.2l-3.2-1.2l-3.2-1.2l-3.1-1.2l-3.2-1.2l-3.2-1.1l-3.1-1.2l-3.2-1.2l-3.2-1.2l-3.1-1.2l-3.2-1.1l-3.2-1.2l-3.1-1.2l-3.2-1.2l-3.2-1.2l-3.1-1.2l-3.2-1.1l-3.2-1.2l-3.1-1.2l-3.2-1.2l-3.2-1.2l-3.1-1.1l-3.2-1.2l1-1.6l3.1 1.2l3.2 1.2l3.2 1.2l3.1 1.1l3.2 1.2l3.2 1.2l3.1 1.2l3.2 1.2l3.2 1.2l3.1 1.1l3.2 1.2l3.2 1.2l3.1 1.2l3.2 1.2l3.2 1.1l3.1 1.2l3.2 1.2l3.1 1.2l3.2 1.2l3.2 1.2l3.1 1.1l3.2 1.2l3.2 1.2l3.1 1.2z"/><path color="#02d" d="M117.3 286.7l-3.1-1.2l-3.2-1.2l-3.2-1.2l-3.1-1.2l-3.2-1.2l-3.2-1.1l-3.1-1.2l-3.2-1.2l-3.2-1.2l-3.1-1.2l-3.2-1.1l-3.2-1.2l-3.1-1.2l-3.2-1.2l-3.2-1.2l-3.1-1.2l-3.2-1.1l-3.1-1.2l-3.2-1.2l-3.2-1.2l-3.1-1.2l-3.2-1.1l-3.2-1.2l-3.1-1.2l.9-1.7l3.2 1.2l3.1 1.1l3.2 1.2l3.2 1.2l3.1 1.2l3.2 1.2l3.2 1.1l3.1 1.2l3.2 1.2l3.2 1.2l3.1 1.2l3.2 1.2l3.2 1.1l3.1 1.2l3.2 1.2l3.2 1.2l3.1 1.2l3.2 1.1l3.2 1.2l3.1 1.2l3.2 1.2l3.2 1.2l3.1 1.2l3.2 1.1z"/><path color="#01d" d="M116.4 288.5l-3.2-1.1l-3.2-1.2l-3.1-1.2l-3.2-1.2l-3.2-1.2l-3.1-1.1l-3.2-1.2l-3.2-1.2l-3.1-1.2l-3.2-1.2l-3.1-1.2l-3.2-1.1l-3.2-1.2l-3.1-1.2l-3.2-1.2l-3.2-1.2l-3.1-1.1l-3.2-1.2l-3.2-1.2l-3.1-1.2l-3.2-1.2l-3.2-1.2l-3.1-1.1l-3.2-1.2l1-1.9l3.1 1.2l3.2 1.2l3.2 1.1l3.1 1.2l3.2 1.2l3.2 1.2l3.1 1.2l3.2 1.1l3.1 1.2l3.2 1.2l3.2 1.2l3.1 1.2l3.2 1.2l3.2 1.1l3.1 1.2l3.2 1.2l3.2 1.2l3.1 1.2l3.2 1.1l3.2 1.2l3.1 1.2l3.2 1.2l3.2 1.2l3.1 1.2z"/><path color="#00c" d="M115.4 290.9l-3.2-1.1l-3.1-1.2l-3.2-1.2l-3.1-1.2l-3.2-1.2l-3.2-1.1l-3.1-1.2l-3.2-1.2l-3.2-1.2l-3.1-1.2l-3.2-1.2l-3.2-1.1l-3.1-1.2l-3.2-1.2l-3.2-1.2l-3.1-1.2l-3.2-1.1l-3.2-1.2l-3.1-1.2l-3.2-1.2l-3.2-1.2l-3.1-1.2l-3.2-1.1l-3.2-1.2l1-2.4l3.2 1.2l3.1 1.1l3.2 1.2l3.2 1.2l3.1 1.2l3.2 1.2l3.2 1.2l3.1 1.1l3.2 1.2l3.2 1.2l3.1 1.2l3.2 1.2l3.2 1.1l3.1 1.2l3.2 1.2l3.1 1.2l3.2 1.2l3.2 1.2l3.1 1.1l3.2 1.2l3.2 1.2l3.1 1.2l3.2 1.2l3.2 1.1z"/><path color="#00a" d="M114.5 293.9l-3.2-1.2l-3.2-1.2l-3.1-1.2l-3.2-1.2l-3.2-1.2l-3.1-1.1l-3.2-1.2l-3.2-1.2l-3.1-1.2l-3.2-1.2l-3.2-1.1l-3.1-1.2l-3.2-1.2l-3.2-1.2l-3.1-1.2l-3.2-1.2l-3.2-1.1l-3.1-1.2l-3.2-1.2l-3.2-1.2l-3.1-1.2l-3.2-1.1l-3.1-1.2l-3.2-1.2l.9-2.9l3.2 1.2l3.2 1.1l3.1 1.2l3.2 1.2l3.2 1.2l3.1 1.2l3.2 1.2l3.2 1.1l3.1 1.2l3.2 1.2l3.2 1.2l3.1 1.2l3.2 1.1l3.2 1.2l3.1 1.2l3.2 1.2l3.2 1.2l3.1 1.2l3.2 1.1l3.2 1.2l3.1 1.2l3.2 1.2l3.1 1.2l3.2 1.1z"/><path color="#008" d="M113.5 296.8l-3.2-1.2l-3.1-1.2l-3.2-1.2l-3.2-1.2l-3.1-1.1l-3.2-1.2l-3.2-1.2l-3.1-1.2l-3.2-1.2l-3.2-1.2l-3.1-1.1l-3.2-1.2l-3.1-1.2l-3.2-1.2l-3.2-1.2l-3.1-1.1l-3.2-1.2l-3.2-1.2l-3.1-1.2l-3.2-1.2l-3.2-1.2l-3.1-1.1l-3.2-1.2l-3.2-1.2l1-2.9l3.2 1.2l3.1 1.2l3.2 1.1l3.1 1.2l3.2 1.2l3.2 1.2l3.1 1.2l3.2 1.1l3.2 1.2l3.1 1.2l3.2 1.2l3.2 1.2l3.1 1.2l3.2 1.1l3.2 1.2l3.1 1.2l3.2 1.2l3.2 1.2l3.1 1.1l3.2 1.2l3.2 1.2l3.1 1.2l3.2 1.2l3.2 1.2z"/></g><g stroke="#000" stroke-linecap="butt" stroke-linejoin="round" fill="none"><path d="M115.4 252.4L117.6 252.2" stroke-width=".3"/><path d="M117.6 252.2L119.7 252" stroke-width=".4"/><path d="M119.7 252L121.9 251.9" stroke-width=".6"/><path d="M121.9 251.8L124.1 251.7" stroke-width=".7"/><path d="M124.1 251.6L126.2 251.5" stroke-width=".9"/><path d="M126.2 251.4L128.4 251.3" stroke-width="1.1"/><path d="M128.4 251.2L130.6 251.1" stroke-width="1.2"/><path d="M130.6 251L132.8 251" stroke-width="1.4"/><path d="M132.8 250.9L134.9 250.8" stroke-width="1.6"/><path d="M134.9 250.7L137.1 250.6" stroke-width="1.8"/><path d="M137.1 250.5L139.3 250.4" stroke-width="2"/><path d="M139.3 250.3L141.4 250.3" stroke-width="2.2"/><path d="M141.4 250.2L143.6 250.1" stroke-width="2.4"/><path d="M143.6 250.1L145.8 250" stroke-width="2.4"/><path d="M145.8 250L147.9 249.9" stroke-width="2.4"/><path d="M147.9 249.9L150.1 249.8" stroke-width="2.5"/><path d="M150.1 249.8L152.3 249.7" stroke-width="2.5"/><path d="M152.3 249.7L154.5 249.6" stroke-width="2.5"/><path d="M154.5 249.6L156.6 249.5" stroke-width="2.6"/><path d="M156.6 249.4L158.2 249.4" stroke-width="2.6"/><path d="M82.2 221.9L83 221.8" stroke-width="1"/><path d="M83 221.8L86 222" stroke-width="1"/><path d="M86 222L88.9 222.2" stroke-width="1.1"/><path d="M88.9 222.1L91.9 222.3" stroke-width="1.1"/><path d="M91.9 222.3L94.8 222.4" stroke-width="1.2"/><path d="M94.8 222.4L97.8 222.6" stroke-width="1.2"/><path d="M97.8 222.5L100.8 222.7" stroke-width="1.3"/><path d="M100.8 222.7L103.7 222.8" stroke-width="1.3"/><path d="M103.7 222.8L106.7 223" stroke-width="1.3"/><path d="M106.7 222.9L109.6 223.1" stroke-width="1.4"/><path d="M109.6 223.1L112.6 223.2" stroke-width="1.4"/><path d="M112.6 223.2L115.5 223.4" stroke-width="1.5"/><path d="M115.5 223.4L118.5 223.6" stroke-width="1.5"/><path d="M118.5 223.5L121.5 223.7" stroke-width="1.6"/><path d="M121.5 223.7L124.4 223.9" stroke-width="1.6"/><path d="M124.4 223.9L127.4 224.1" stroke-width="1.7"/><path d="M127.4 224.1L130.3 224.3" stroke-width="1.7"/><path d="M130.3 224.3L133.3 224.6" stroke-width="1.8"/><path d="M133.3 224.5L136.2 224.8" stroke-width="1.8"/><path d="M136.2 224.8L139.2 225" stroke-width="1.8"/><path d="M139.2 225L142.1 225.3" stroke-width="1.9"/><path d="M142.1 225.3L145.1 225.5" stroke-width="1.9"/><path d="M145.1 225.5L148.1 225.8" stroke-width="2"/><path d="M148.1 225.8L151 226.1" stroke-width="2"/><path d="M151 226L154 226.3" stroke-width="2.1"/><path d="M154 226.3L156.9 226.6" stroke-width="2.1"/><path d="M156.9 226.6L159.9 226.9" stroke-width="2.2"/><path d="M159.9 226.9L162.8 227.2" stroke-width="2.2"/><path d="M162.8 227.1L165.8 227.4" stroke-width="2.3"/><path d="M165.8 227.4L168.7 227.7" stroke-width="2.3"/><path d="M168.7 227.7L171.7 228" stroke-width="2.3"/><path d="M171.7 228L174.7 228.3" stroke-width="2.4"/><path d="M174.7 228.2L177.6 228.5" stroke-width="2.4"/><path d="M177.6 228.5L180.6 228.8" stroke-width="2.5"/><path d="M180.6 228.8L183.5 229.1" stroke-width="2.5"/><path d="M183.5 229L186.5 229.3" stroke-width="2.6"/><path d="M186.5 229.3L187.3 229.3" stroke-width="2.6"/><path d="M111.4 201.7L112.6 201.7" stroke-width="1"/><path d="M112.6 201.7L114.3 201.5" stroke-width="1"/><path d="M114.3 201.5L116.1 201.4" stroke-width="1"/><path d="M116.1 201.4L117.9 201.2" stroke-width="1.1"/><path d="M117.9 201.2L119.7 201" stroke-width="1.1"/><path d="M119.7 201L121.4 200.9" stroke-width="1.1"/><path d="M121.4 200.8L123.2 200.7" stroke-width="1.1"/><path d="M123.2 200.7L125 200.5" stroke-width="1.1"/><path d="M125 200.5L126.7 200.3" stroke-width="1.2"/><path d="M126.7 200.3L128.5 200.2" stroke-width="1.2"/><path d="M128.5 200.2L130.3 200" stroke-width="1.2"/><path d="M130.3 200L132.1 199.9" stroke-width="1.1"/><path d="M132.1 199.9L133.8 199.7" stroke-width="1.1"/><path d="M133.8 199.8L135.6 199.6" stroke-width="1"/><path d="M135.6 199.6L137.4 199.5" stroke-width="1"/><path d="M137.4 199.5L139.1 199.3" stroke-width=".9"/><path d="M139.1 199.4L140.9 199.2" stroke-width=".8"/><path d="M140.9 199.2L142.7 199.1" stroke-width=".8"/><path d="M142.7 199.1L144.5 199" stroke-width=".7"/><path d="M144.5 199L146.2 198.8" stroke-width=".6"/><path d="M146.2 198.8L148 198.7" stroke-width=".6"/><path d="M148 198.7L149.8 198.5" stroke-width=".6"/><path d="M149.8 198.5L151.5 198.3" stroke-width=".7"/><path d="M151.5 198.3L153.3 198.1" stroke-width=".7"/><path d="M153.3 198.1L155.1 198" stroke-width=".7"/><path d="M155.1 198L156.9 197.8" stroke-width=".7"/><path d="M156.9 197.8L158.6 197.6" stroke-width=".7"/></g><path d="M133 190.4L135 190.9L136.9 191.5L138.9 192L140.8 192.5L142.8 193L144.7 193.6L146.7 194.1L148.6 194.6L150.6 195.1L152.5 195.6L154.5 196.2L156.4 196.7L158.4 197.2L160.3 198.2L162.3 199.2L164.2 200.1L166.2 201.1L168.1 202.1L170.1 203.1L172 204L174 204.9L175.9 205.9L177.8 206.8L179.8 207.7L181.7 208.6L183.7 209.5L185.6 210.3L187.6 211.2L189.5 212.1L191.5 212.9L193.4 213.7L195.4 214.5L197.3 215.3L199.3 216L201.2 216.7L203.2 217.2L205.1 217.7L207.1 218.3L209 218.8" fill="none" stroke="#000" stroke-opacity="0.8" stroke-width="1.6"/><path d="M26.7 200.2L26.7 269.3L113.5 301.7L228.3 278.2" fill="none" stroke="#c4c4c4" stroke-width="1"/><line x1="308.1" y1="271.0" x2="423.3" y2="248.1" stroke="#f0f0f0" stroke-width="0.6"/><line x1="423.3" y1="248.1" x2="512.2" y2="279.4" stroke="#f0f0f0" stroke-width="0.6"/><line x1="308.1" y1="248.1" x2="423.3" y2="225.2" stroke="#f0f0f0" stroke-width="0.6"/><line x1="423.3" y1="225.2" x2="512.2" y2="256.5" stroke="#f0f0f0" stroke-width="0.6"/><line x1="308.1" y1="225.2" x2="423.3" y2="202.3" stroke="#f0f0f0" stroke-width="0.6"/><line x1="423.3" y1="202.3" x2="512.2" y2="233.6" stroke="#f0f0f0" stroke-width="0.6"/><line x1="308.1" y1="202.3" x2="423.3" y2="179.4" stroke="#f0f0f0" stroke-width="0.6"/><line x1="423.3" y1="179.4" x2="512.2" y2="210.7" stroke="#f0f0f0" stroke-width="0.6"/><line x1="308.1" y1="200.5" x2="423.3" y2="177.6" stroke="#f0f0f0" stroke-width="0.6"/><line x1="423.3" y1="177.6" x2="512.2" y2="208.9" stroke="#f0f0f0" stroke-width="0.6"/><line x1="308.1" y1="271.0" x2="308.1" y2="200.5" stroke="#f0f0f0" stroke-width="0.6"/><line x1="397.0" y1="302.3" x2="308.1" y2="271.0" stroke="#f0f0f0" stroke-width="0.6"/><line x1="336.9" y1="265.3" x2="336.9" y2="194.7" stroke="#f0f0f0" stroke-width="0.6"/><line x1="425.8" y1="296.6" x2="336.9" y2="265.3" stroke="#f0f0f0" stroke-width="0.6"/><line x1="365.7" y1="259.5" x2="365.7" y2="189.0" stroke="#f0f0f0" stroke-width="0.6"/><line x1="454.6" y1="290.9" x2="365.7" y2="259.5" stroke="#f0f0f0" stroke-width="0.6"/><line x1="394.5" y1="253.8" x2="394.5" y2="183.3" stroke="#f0f0f0" stroke-width="0.6"/><line x1="483.4" y1="285.1" x2="394.5" y2="253.8" stroke="#f0f0f0" stroke-width="0.6"/><line x1="423.3" y1="248.1" x2="423.3" y2="177.6" stroke="#f0f0f0" stroke-width="0.6"/><line x1="512.2" y1="279.4" x2="423.3" y2="248.1" stroke="#f0f0f0" stroke-width="0.6"/><line x1="512.2" y1="279.4" x2="512.2" y2="208.9" stroke="#f0f0f0" stroke-width="0.6"/><line x1="397.0" y1="302.3" x2="512.2" y2="279.4" stroke="#f0f0f0" stroke-width="0.6"/><line x1="474.8" y1="266.2" x2="474.8" y2="195.7" stroke="#f0f0f0" stroke-width="0.6"/><line x1="359.6" y1="289.1" x2="474.8" y2="266.2" stroke="#f0f0f0" stroke-width="0.6"/><line x1="437.4" y1="253.1" x2="437.4" y2="182.5" stroke="#f0f0f0" stroke-width="0.6"/><line x1="322.2" y1="276.0" x2="437.4" y2="253.1" stroke="#f0f0f0" stroke-width="0.6"/><line x1="423.3" y1="248.1" x2="423.3" y2="177.6" stroke="#f0f0f0" stroke-width="0.6"/><line x1="512.2" y1="279.4" x2="512.2" y2="208.9" stroke="#f0f0f0" stroke-width="0.6"/><line x1="308.1" y1="271.0" x2="423.3" y2="248.1" stroke="#f0f0f0" stroke-width="0.6"/><line x1="423.3" y1="248.1" x2="512.2" y2="279.4" stroke="#f0f0f0" stroke-width="0.6"/><g fill="currentColor" stroke="currentColor" stroke-width=".7" stroke-linejoin="round"><path color="#700" d="M415.5 193.9l-2.9-.7l1.7-.7l6.3 1.6z"/><path color="#600" d="M439.5 200l-12-3l-12-3.1l5.1 .2l12 3.2l12 3.2z"/><path color="#700" d="M453.6 206.8l-14.1-6.8l5.1 .5l14.2 6.5z"/><path color="#800" d="M481.8 218.5l-14.1-5.5l-14.1-6.2l5.2 .2l14.1 6.1l14.1 5.5z"/><path color="#700" d="M491 220.8l-9.2-2.3l5.2 .1l5.6 1.4z"/><path color="#700" d="M411 193.9l1.6-.7l2.9 .7z"/><path color="#600" d="M422.4 196.6l-11.4-2.7l4.5 0l12 3.1z"/><path color="#500" d="M434.4 199.5l-12-2.9l5.1 .4l12 3z"/><path color="#700" d="M448.5 206.5l-14.1-7l5.1 .5l14.1 6.8z"/><path color="#800" d="M462.6 212.9l-14.1-6.4l5.1 .3l14.1 6.2z"/><path color="#900" d="M476.7 218.5l-14.1-5.6l5.1 .1l14.1 5.5z"/><path color="#700" d="M489.3 221.5l-.6-.2l-12-2.8l5.1 0l9.2 2.3z"/><path color="#600" d="M417.3 196.2l-8-1.8l1.7-.5l11.4 2.7z"/><path color="#500" d="M429.3 198.9l-12-2.7l5.1 .4l12 2.9z"/><path color="#700" d="M443.4 206.2l-14.1-7.3l5.1 .6l14.1 7z"/><path color="#900" d="M471.6 218.4l-14.1-5.7l-14.1-6.5l5.1 .3l14.1 6.4l14.1 5.6z"/><path color="#700" d="M483.6 221.1l-12-2.7l5.1 .1l12 2.8z"/><path color="#600" d="M487.6 222l-4-.9l5.1 .2l.6 .2z"/><path color="#600" d="M412.2 195.9l-4.6-1l1.7-.5l8 1.8z"/><path color="#500" d="M424.2 198.4l-12-2.5l5.1 .3l12 2.7z"/><path color="#800" d="M438.3 205.9l-14.1-7.5l5.1 .5l14.1 7.3z"/><path color="#900" d="M452.4 212.6l-14.1-6.7l5.1 .3l14.1 6.5z"/><path color="#a00" d="M466.5 218.3l-14.1-5.7l5.1 .1l14.1 5.7z"/><path color="#700" d="M478.5 220.9l-12-2.6l5.1 .1l12 2.7z"/><path color="#600" d="M486 222.5l-7.5-1.6l5.1 .2l4 .9z"/><path color="#500" d="M419 197.9l-12-2.4l-1-.2l1.6-.4l4.6 1l12 2.5z"/><path color="#800" d="M433.1 205.6l-14.1-7.7l5.2 .5l14.1 7.5z"/><path color="#a00" d="M447.2 212.5l-14.1-6.9l5.2 .3l14.1 6.7z"/><path color="#b00" d="M461.4 218.3l-14.2-5.8l5.2 .1l14.1 5.7z"/><path color="#600" d="M484.3 222.9l-10.9-2.2l-12-2.4l5.1 0l12 2.6l7.5 1.6z"/><path color="#500" d="M404.3 195.6l1.7-.3l1 .2z"/><path color="#400" d="M413.9 197.4l-9.6-1.8l2.7-.1l12 2.4z"/><path color="#900" d="M428 205.3l-14.1-7.9l5.1 .5l14.1 7.7z"/><path color="#b00" d="M456.2 218.3l-14.1-5.9l-14.1-7.1l5.1 .3l14.1 6.9l14.2 5.8z"/><path color="#600" d="M468.2 220.5l-12-2.2l5.2 0l12 2.4z"/><path color="#500" d="M482.7 223.2l-2.4-.5l-12.1-2.2l5.2 .2l10.9 2.2z"/><path color="#400" d="M408.8 197l-6.1-1.1l1.6-.3l9.6 1.8z"/><path color="#900" d="M422.9 205.1l-14.1-8.1l5.1 .4l14.1 7.9z"/><path color="#b00" d="M437 212.3l-14.1-7.2l5.1 .2l14.1 7.1z"/><path color="#c00" d="M451.1 218.3l-14.1-6l5.1 .1l14.1 5.9z"/><path color="#600" d="M463.1 220.4l-12-2.1l5.1 0l12 2.2z"/><path color="#500" d="M475.1 222.5l-12-2.1l5.1 .1l12.1 2.2z"/><path color="#400" d="M481 223.5l-5.9-1l5.2 .2l2.4 .5z"/><path color="#300" d="M403.7 196.6l-2.7-.5l1.7-.2l6.1 1.1z"/><path color="#a00" d="M417.8 204.9l-14.1-8.3l5.1 .4l14.1 8.1z"/><path color="#c00" d="M431.9 212.3l-14.1-7.4l5.1 .2l14.1 7.2z"/><path color="#c10" d="M446 218.3l-14.1-6l5.1 0l14.1 6z"/><path color="#500" d="M458 220.3l-12-2l5.1 0l12 2.1z"/><path color="#400" d="M479.4 223.7l-9.4-1.5l-12-1.9l5.1 .1l12 2.1l5.9 1z"/><path color="#300" d="M399.4 196.9l1.6-.8l2.7 .5z"/><path color="#a00" d="M412.2 204.7l-12.8-7.8l4.3-.3l14.1 8.3z"/><path color="#c10" d="M426.3 212.2l-14.1-7.5l5.6 .2l14.1 7.4z"/><path color="#c20" d="M440.4 218.3l-14.1-6.1l5.6 .1l14.1 6z"/><path color="#510" d="M452.4 220.1l-12-1.8l5.6 0l12 2z"/><path color="#400" d="M464.4 221.9l-12-1.8l5.6 .2l12 1.9z"/><path color="#300" d="M477.7 224.5l-1.3-.9l-12-1.7l5.6 .3l9.4 1.5z"/><path color="#c00" d="M405 203.7l-7.3-4.3l1.7-2.5l12.8 7.8z"/><path color="#c10" d="M419.1 211.2l-14.1-7.5l7.2 1l14.1 7.5z"/><path color="#c20" d="M433.2 217.3l-14.1-6.1l7.2 1l14.1 6.1z"/><path color="#410" d="M445.2 219.1l-12-1.8l7.2 1l12 1.8z"/><path color="#300" d="M469.2 222.7l-12-1.8l-12-1.8l7.2 1l12 1.8l12 1.7z"/><path color="#a00" d="M476.1 227l-6.9-4.3l7.2 .9l1.3 .9z"/><path color="#d00" d="M397.8 202.8l-1.7-1l1.6-2.4l7.3 4.3z"/><path color="#c20" d="M411.9 210.3l-14.1-7.5l7.2 .9l14.1 7.5z"/><path color="#c30" d="M426 216.4l-14.1-6.1l7.2 .9l14.1 6.1z"/><path color="#410" d="M438 218.2l-12-1.8l7.2 .9l12 1.8z"/><path color="#300" d="M450 220l-12-1.8l7.2 .9l12 1.8z"/><path color="#200" d="M462 221.7l-12-1.7l7.2 .9l12 1.8z"/><path color="#b00" d="M474.4 229.4l-12.4-7.7l7.2 1l6.9 4.3z"/><path color="#c20" d="M404.7 209.4l-10.3-5.3l1.7-2.3l1.7 1l14.1 7.5z"/><path color="#c40" d="M418.8 215.5l-14.1-6.1l7.2 .9l14.1 6.1z"/><path color="#410" d="M430.8 217.3l-12-1.8l7.2 .9l12 1.8z"/><path color="#200" d="M454.8 220.9l-12-1.8l-12-1.8l7.2 .9l12 1.8l12 1.7z"/><path color="#c00" d="M468.9 229.5l-14.1-8.6l7.2 .8l12.4 7.7z"/><path color="#d10" d="M472.7 231.7l-3.8-2.2l5.5-.1z"/><path color="#c30" d="M397.5 208.7l-4.8-2.4l1.7-2.2l10.3 5.3z"/><path color="#c40" d="M411.6 214.8l-14.1-6.1l7.2 .7l14.1 6.1z"/><path color="#410" d="M423.6 216.6l-12-1.8l7.2 .7l12 1.8z"/><path color="#100" d="M447.6 220.1l-12-1.8l-12-1.7l7.2 .7l12 1.8l12 1.8z"/><path color="#d00" d="M461.7 228.7l-14.1-8.6l7.2 .8l14.1 8.6z"/><path color="#c20" d="M471.1 233.9l-9.4-5.2l7.2 .8l3.8 2.2z"/><path color="#c50" d="M404.4 214l-13.3-5.7l1.6-2l4.8 2.4l14.1 6.1z"/><path color="#420" d="M416.4 215.8l-12-1.8l7.2 .8l12 1.8z"/><path color="#000" d="M440.4 219.4l-12-1.8l-12-1.8l7.2 .8l12 1.7l12 1.8z"/><path color="#d10" d="M454.5 228l-14.1-8.6l7.2 .7l14.1 8.6z"/><path color="#c40" d="M469.4 235.9l-.8-.4l-14.1-7.5l7.2 .7l9.4 5.2z"/><path color="#c60" d="M397.2 213.3l-7.8-3.1l1.7-1.9l13.3 5.7z"/><path color="#420" d="M409.2 215.1l-12-1.8l7.2 .7l12 1.8z"/><path color="#000" d="M433.2 218.7l-12-1.8l-12-1.8l7.2 .7l12 1.8l12 1.8z"/><path color="#d20" d="M447.3 227.3l-14.1-8.6l7.2 .7l14.1 8.6z"/><path color="#c40" d="M461.4 234.8l-14.1-7.5l7.2 .7l14.1 7.5z"/><path color="#c60" d="M467.8 237.8l-6.4-3l7.2 .7l.8 .4z"/><path color="#c70" d="M390 212.7l-2.2-.8l1.6-1.7l7.8 3.1z"/><path color="#420" d="M402 214.5l-12-1.8l7.2 .6l12 1.8z"/><path color="#000" d="M426 218.1l-12-1.8l-12-1.8l7.2 .6l12 1.8l12 1.8z"/><path color="#d30" d="M440.1 226.7l-14.1-8.6l7.2 .6l14.1 8.6z"/><path color="#c50" d="M454.2 234.2l-14.1-7.5l7.2 .6l14.1 7.5z"/><path color="#c60" d="M466.1 239.5l-11.9-5.3l7.2 .6l6.4 3z"/><path color="#960" d="M386.1 212.6l1.7-.7l2.2 .8z"/><path color="#420" d="M394.8 213.9l-8.7-1.3l3.9 .1l12 1.8z"/><path color="#000" d="M418.8 217.4l-12-1.8l-12-1.7l7.2 .6l12 1.8l12 1.8z"/><path color="#d40" d="M432.9 226l-14.1-8.6l7.2 .7l14.1 8.6z"/><path color="#d60" d="M447 233.6l-14.1-7.6l7.2 .7l14.1 7.5z"/><path color="#c70" d="M461.1 239.7l-14.1-6.1l7.2 .6l11.9 5.3z"/><path color="#b70" d="M464.5 240.2l-3.4-.5l5-.2z"/><path color="#110" d="M387.6 213.2l-3.1-.4l1.6-.2l8.7 1.3z"/><path color="#000" d="M411.6 216.8l-12-1.8l-12-1.8l7.2 .7l12 1.7l12 1.8z"/><path color="#d40" d="M425.7 225.4l-14.1-8.6l7.2 .6l14.1 8.6z"/><path color="#d70" d="M439.8 232.9l-14.1-7.5l7.2 .6l14.1 7.6z"/><path color="#c80" d="M453.9 239l-14.1-6.1l7.2 .7l14.1 6.1z"/><path color="#750" d="M462.8 240.4l-8.9-1.4l7.2 .7l3.4 .5z"/><path color="#000" d="M404.4 216.2l-12-1.8l-9.6-1.4l1.7-.2l3.1 .4l12 1.8l12 1.8z"/><path color="#d50" d="M418.5 224.8l-14.1-8.6l7.2 .6l14.1 8.6z"/><path color="#d80" d="M432.6 232.3l-14.1-7.5l7.2 .6l14.1 7.5z"/><path color="#c90" d="M446.7 238.4l-14.1-6.1l7.2 .6l14.1 6.1z"/><path color="#540" d="M458.7 240.2l-12-1.8l7.2 .6l8.9 1.4z"/><path color="#000" d="M461.2 240.6l-2.5-.4l4.1 .2z"/><path color="#000" d="M397.2 215.6l-12-1.8l-4-.6l1.6-.2l9.6 1.4l12 1.8z"/><path color="#d60" d="M411.3 224.2l-14.1-8.6l7.2 .6l14.1 8.6z"/><path color="#d90" d="M425.4 231.7l-14.1-7.5l7.2 .6l14.1 7.5z"/><path color="#ca0" d="M439.5 237.8l-14.1-6.1l7.2 .6l14.1 6.1z"/><path color="#430" d="M451.5 239.6l-12-1.8l7.2 .6l12 1.8z"/><path color="#000" d="M459.5 240.8l-8-1.2l7.2 .6l2.5 .4z"/><path color="#000" d="M390 215l-10.5-1.6l1.7-.2l4 .6l12 1.8z"/><path color="#d70" d="M404.1 223.6l-14.1-8.6l7.2 .6l14.1 8.6z"/><path color="#d90" d="M418.2 231.1l-14.1-7.5l7.2 .6l14.1 7.5z"/><path color="#ca0" d="M432.3 237.2l-14.1-6.1l7.2 .6l14.1 6.1z"/><path color="#440" d="M444.3 239l-12-1.8l7.2 .6l12 1.8z"/><path color="#000" d="M457.8 241l-1.5-.2l-12-1.8l7.2 .6l8 1.2z"/><path color="#000" d="M382.8 214.4l-5-.8l1.7-.2l10.5 1.6z"/><path color="#d80" d="M396.9 223l-14.1-8.6l7.2 .6l14.1 8.6z"/><path color="#da0" d="M411 230.5l-14.1-7.5l7.2 .6l14.1 7.5z"/><path color="#cb0" d="M425.1 236.6l-14.1-6.1l7.2 .6l14.1 6.1z"/><path color="#440" d="M437.1 238.4l-12-1.8l7.2 .6l12 1.8z"/><path color="#000" d="M456.2 241.2l-7.1-1l-12-1.8l7.2 .6l12 1.8l1.5 .2z"/><path color="#000" d="M376.2 214.1l1.6-.5l5 .8z"/><path color="#d90" d="M389.6 222.3l-13.4-8.2l6.6 .3l14.1 8.6z"/><path color="#cb0" d="M403.7 229.8l-14.1-7.5l7.3 .7l14.1 7.5z"/><path color="#cc0" d="M417.8 235.9l-14.1-6.1l7.3 .7l14.1 6.1z"/><path color="#540" d="M429.8 237.7l-12-1.8l7.3 .7l12 1.8z"/><path color="#000" d="M454.5 241.7l-.7-.4l-12-1.8l-12-1.8l7.3 .7l12 1.8l7.1 1z"/><path color="#da0" d="M381.6 221.4l-7.1-4.2l1.7-3.1l13.4 8.2z"/><path color="#dc0" d="M395.7 228.9l-14.1-7.5l8 .9l14.1 7.5z"/><path color="#bc1" d="M409.8 235l-14.1-6.1l8 .9l14.1 6.1z"/><path color="#440" d="M421.8 236.8l-12-1.8l8 .9l12 1.8z"/><path color="#000" d="M445.9 240.3l-12-1.8l-12.1-1.7l8 .9l12 1.8l12 1.8z"/><path color="#d80" d="M452.9 244.7l-7-4.4l7.9 1l.7 .4z"/><path color="#db0" d="M373.6 220.5l-.7-.5l1.6-2.8l7.1 4.2z"/><path color="#dd0" d="M387.7 228l-14.1-7.5l8 .9l14.1 7.5z"/><path color="#bc2" d="M401.8 234.1l-14.1-6.1l8 .9l14.1 6.1z"/><path color="#440" d="M413.9 235.9l-12.1-1.8l8 .9l12 1.8z"/><path color="#000" d="M437.9 239.4l-12-1.8l-12-1.7l7.9 .9l12.1 1.7l12 1.8z"/><path color="#da0" d="M451.2 247.6l-13.3-8.2l8 .9l7 4.4z"/><path color="#cd0" d="M371.2 222.7l1.7-2.7l.7 .5z"/><path color="#bd1" d="M379.8 227.1l-8.6-4.4l2.4-2.2l14.1 7.5z"/><path color="#ac2" d="M393.9 233.2l-14.1-6.1l7.9 .9l14.1 6.1z"/><path color="#441" d="M405.9 235l-12-1.8l7.9 .9l12.1 1.8z"/><path color="#000" d="M429.9 238.6l-12-1.8l-12-1.8l8 .9l12 1.7l12 1.8z"/><path color="#db0" d="M444 247.2l-14.1-8.6l8 .8l13.3 8.2z"/><path color="#dd0" d="M449.6 250.3l-5.6-3.1l7.2 .4z"/><path color="#ac2" d="M371.8 226.2l-2.2-1.1l1.6-2.4l8.6 4.4z"/><path color="#9c3" d="M385.9 232.3l-14.1-6.1l8 .9l14.1 6.1z"/><path color="#341" d="M397.9 234.1l-12-1.8l8 .9l12 1.8z"/><path color="#000" d="M421.9 237.7l-12-1.8l-12-1.8l8 .9l12 1.8l12 1.8z"/><path color="#dc0" d="M436 246.3l-14.1-8.6l8 .9l14.1 8.6z"/><path color="#bd1" d="M447.9 252.7l-11.9-6.4l8 .9l5.6 3.1z"/><path color="#9c4" d="M367.9 227.3l1.7-2.2l2.2 1.1z"/><path color="#8c4" d="M377.9 231.5l-10-4.2l3.9-1.1l14.1 6.1z"/><path color="#341" d="M389.9 233.3l-12-1.8l8 .8l12 1.8z"/><path color="#000" d="M413.9 236.8l-12-1.7l-12-1.8l8 .8l12 1.8l12 1.8z"/><path color="#dd0" d="M428 245.5l-14.1-8.7l8 .9l14.1 8.6z"/><path color="#ad3" d="M442.1 253l-14.1-7.5l8 .8l11.9 6.4z"/><path color="#9c4" d="M446.3 254.9l-4.2-1.9l5.8-.3z"/><path color="#7c5" d="M369.9 230.6l-3.6-1.4l1.6-1.9l10 4.2z"/><path color="#342" d="M381.9 232.4l-12-1.8l8 .9l12 1.8z"/><path color="#000" d="M406 236l-12.1-1.8l-12-1.8l8 .9l12 1.8l12 1.7z"/><path color="#cd1" d="M420.1 244.6l-14.1-8.6l7.9 .8l14.1 8.7z"/><path color="#9d3" d="M434.2 252.1l-14.1-7.5l7.9 .9l14.1 7.5z"/><path color="#8c5" d="M444.6 256.8l-10.4-4.7l7.9 .9l4.2 1.9z"/><path color="#5a5" d="M364.6 230.1l1.7-.9l3.6 1.4z"/><path color="#242" d="M374 231.5l-9.4-1.4l5.3 .5l12 1.8z"/><path color="#000" d="M398 235.1l-12-1.8l-12-1.8l7.9 .9l12 1.8l12.1 1.8z"/><path color="#bd2" d="M412.1 243.7l-14.1-8.6l8 .9l14.1 8.6z"/><path color="#8d4" d="M426.2 251.2l-14.1-7.5l8 .9l14.1 7.5z"/><path color="#7c6" d="M440.3 257.3l-14.1-6.1l8 .9l10.4 4.7z"/><path color="#6c6" d="M442.9 257.7l-2.6-.4l4.3-.5z"/><path color="#121" d="M366 230.4l-3.1-.4l1.7 .1l9.4 1.4z"/><path color="#000" d="M390 234.3l-12-1.9l-12-2l8 1.1l12 1.8l12 1.8z"/><path color="#ad3" d="M404.1 242.7l-14.1-8.4l8 .8l14.1 8.6z"/><path color="#7c5" d="M418.2 250.1l-14.1-7.4l8 1l14.1 7.5z"/><path color="#6c6" d="M432.3 256.1l-14.1-6l8 1.1l14.1 6.1z"/><path color="#484" d="M441.3 257.6l-9-1.5l8 1.2l2.6 .4z"/><path color="#000" d="M382 233.4l-12-2l-8.7-1.5l1.6 .1l3.1 .4l12 2l12 1.9z"/><path color="#9d3" d="M396.1 241.6l-14.1-8.2l8 .9l14.1 8.4z"/><path color="#7c6" d="M410.2 248.9l-14.1-7.3l8 1.1l14.1 7.4z"/><path color="#5c7" d="M424.3 254.9l-14.1-6l8 1.2l14.1 6z"/><path color="#253" d="M436.3 256.9l-12-2l8 1.2l9 1.5z"/><path color="#000" d="M439.6 257.5l-3.3-.6l5 .7z"/><path color="#110" d="M374 232.4l-12-2.1l-2.4-.4l1.7 0l8.7 1.5l12 2z"/><path color="#9d4" d="M388.1 240.6l-14.1-8.2l8 1l14.1 8.2z"/><path color="#6c6" d="M402.2 247.7l-14.1-7.1l8 1l14.1 7.3z"/><path color="#5c7" d="M416.3 253.7l-14.1-6l8 1.2l14.1 6z"/><path color="#253" d="M428.4 255.8l-12.1-2.1l8 1.2l12 2z"/><path color="#110" d="M438 257.5l-9.6-1.7l7.9 1.1l3.3 .6z"/><path color="#121" d="M366.1 231.5l-8.1-1.5l1.6-.1l2.4 .4l12 2.1z"/><path color="#8d5" d="M380.2 239.4l-14.1-7.9l7.9 .9l14.1 8.2z"/><path color="#5c7" d="M394.3 246.5l-14.1-7.1l7.9 1.2l14.1 7.1z"/><path color="#4c8" d="M408.4 252.4l-14.1-5.9l7.9 1.2l14.1 6z"/><path color="#253" d="M420.4 254.6l-12-2.2l7.9 1.3l12.1 2.1z"/><path color="#121" d="M436.3 257.6l-3.9-.8l-12-2.2l8 1.2l9.6 1.7z"/><path color="#231" d="M358.1 230.5l-1.8-.3l1.7-.2l8.1 1.5z"/><path color="#7d6" d="M372.2 238.3l-14.1-7.8l8 1l14.1 7.9z"/><path color="#5c7" d="M386.3 245.2l-14.1-6.9l8 1.1l14.1 7.1z"/><path color="#3b8" d="M400.4 251.1l-14.1-5.9l8 1.3l14.1 5.9z"/><path color="#264" d="M412.4 253.4l-12-2.3l8 1.3l12 2.2z"/><path color="#132" d="M424.4 255.7l-12-2.3l8 1.2l12 2.2z"/><path color="#231" d="M434.7 257.7l-10.3-2l8 1.1l3.9 .8z"/><path color="#7c5" d="M354.7 231.8l1.6-1.6l1.8 .3z"/><path color="#6c6" d="M365.4 237.5l-10.7-5.7l3.4-1.3l14.1 7.8z"/><path color="#4c8" d="M379.5 244.3l-14.1-6.8l6.8 .8l14.1 6.9z"/><path color="#3b8" d="M393.6 250.1l-14.1-5.8l6.8 .9l14.1 5.9z"/><path color="#264" d="M405.7 252.6l-12.1-2.5l6.8 1l12 2.3z"/><path color="#242" d="M429.7 257.5l-12-2.5l-12-2.4l6.7 .8l12 2.3l10.3 2z"/><path color="#7c5" d="M433 259.4l-3.3-1.9l5 .2z"/><path color="#5c7" d="M359.2 236.9l-6.2-3.2l1.7-1.9l10.7 5.7z"/><path color="#4c8" d="M373.3 243.5l-14.1-6.6l6.2 .6l14.1 6.8z"/><path color="#3b8" d="M387.4 249.3l-14.1-5.8l6.2 .8l14.1 5.8z"/><path color="#275" d="M399.4 251.8l-12-2.5l6.2 .8l12.1 2.5z"/><path color="#253" d="M411.4 254.4l-12-2.6l6.3 .8l12 2.4z"/><path color="#252" d="M423.4 257l-12-2.6l6.3 .6l12 2.5z"/><path color="#6c6" d="M431.4 261.3l-8-4.3l6.3 .5l3.3 1.9z"/><path color="#4c7" d="M352.9 235.9l-1.5-.7l1.6-1.5l6.2 3.2z"/><path color="#3b8" d="M367 242.3l-14.1-6.4l6.3 1l14.1 6.6z"/><path color="#297" d="M381.1 247.9l-14.1-5.6l6.3 1.2l14.1 5.8z"/><path color="#286" d="M393.1 250.8l-12-2.9l6.3 1.4l12 2.5z"/><path color="#264" d="M405.2 253.6l-12.1-2.8l6.3 1l12 2.6z"/><path color="#263" d="M417.2 256.5l-12-2.9l6.2 .8l12 2.6z"/><path color="#5c7" d="M429.7 262.8l-12.5-6.3l6.2 .5l8 4.3z"/><path color="#4b8" d="M349.7 236.3l1.7-1.1l1.5 .7z"/><path color="#3b8" d="M360.8 241.1l-11.1-4.8l3.2-.4l14.1 6.4z"/><path color="#297" d="M374.9 246.6l-14.1-5.5l6.2 1.2l14.1 5.6z"/><path color="#286" d="M386.9 249.7l-12-3.1l6.2 1.3l12 2.9z"/><path color="#264" d="M398.9 252.8l-12-3.1l6.2 1.1l12.1 2.8z"/><path color="#364" d="M410.9 256l-12-3.2l6.3 .8l12 2.9z"/><path color="#4c7" d="M425 262.6l-14.1-6.6l6.3 .5l12.5 6.3z"/><path color="#4b8" d="M428 263.9l-3-1.3l4.7 .2z"/><path color="#3a8" d="M354.5 239.9l-6.5-2.7l1.7-.9l11.1 4.8z"/><path color="#297" d="M380.6 248.6l-12-3.4l-14.1-5.3l6.3 1.2l14.1 5.5l12 3.1z"/><path color="#275" d="M392.6 252l-12-3.4l6.3 1.1l12 3.1z"/><path color="#375" d="M404.7 255.4l-12.1-3.4l6.3 .8l12 3.2z"/><path color="#4b8" d="M418.8 261.6l-14.1-6.2l6.2 .6l14.1 6.6z"/><path color="#3b8" d="M426.4 264.8l-7.6-3.2l6.2 1l3 1.3z"/><path color="#297" d="M348.3 238.6l-1.9-.7l1.6-.7l6.5 2.7z"/><path color="#286" d="M362.4 243.8l-14.1-5.2l6.2 1.3l14.1 5.3z"/><path color="#297" d="M374.4 247.5l-12-3.7l6.2 1.4l12 3.4z"/><path color="#286" d="M386.4 251.2l-12-3.7l6.2 1.1l12 3.4z"/><path color="#386" d="M398.4 254.9l-12-3.7l6.2 .8l12.1 3.4z"/><path color="#3b8" d="M412.5 260.7l-14.1-5.8l6.3 .5l14.1 6.2z"/><path color="#3a8" d="M424.7 265.5l-12.2-4.8l6.3 .9l7.6 3.2z"/><path color="#297" d="M344.7 238.4l1.7-.5l1.9 .7z"/><path color="#286" d="M356.1 242.5l-11.4-4.1l3.6 .2l14.1 5.2z"/><path color="#2a7" d="M368.1 246.4l-12-3.9l6.3 1.3l12 3.7z"/><path color="#297" d="M380.1 250.4l-12-4l6.3 1.1l12 3.7z"/><path color="#397" d="M392.1 254.3l-12-3.9l6.3 .8l12 3.7z"/><path color="#3b8" d="M406.2 259.7l-14.1-5.4l6.3 .6l14.1 5.8z"/><path color="#2a7" d="M420.3 264.9l-14.1-5.2l6.3 1l12.2 4.8z"/><path color="#297" d="M423.1 265.9l-2.8-1l4.4 .6z"/><path color="#276" d="M349.8 241.1l-6.7-2.4l1.6-.3l11.4 4.1z"/><path color="#2a8" d="M400 258.8l-14.1-5l-12-4.2l-12-4.3l-12.1-4.2l6.3 1.4l12 3.9l12 4l12 3.9l14.1 5.4z"/><path color="#297" d="M414.1 263.7l-14.1-4.9l6.2 .9l14.1 5.2z"/><path color="#286" d="M421.4 266.3l-7.3-2.6l6.2 1.2l2.8 1z"/><path color="#2b9" d="M419.8 267.3l-2.6-.9l-2.6-.9l-2.6-.9l-2.6-.9l-2.6-1l-2.7-.9l-2.6-.9l-2.6-.9l-2.6-.9l-2.6-1l-2.6-.9l-2.6-.9l-2.6-.9l-2.7-.9l-2.6-1l-2.6-.9l-2.6-.9l-2.6-.9l-2.6-.9l-2.6-1l-2.6-.9l-2.6-.9l-2.7-.9l-2.6-.9l-2.6-1l-2.6-.9l-2.6-.9l-2.6-.9l-2.6-.9l-2.6-1l1.6-1l2.6 .9l2.6 1l2.6 .9l2.6 .9l2.6 .9l2.6 .9l2.7 1l2.6 .9l2.6 .9l2.6 .9l2.6 .9l2.6 1l2.6 .9l2.6 .9l2.6 .9l2.7 .9l2.6 .9l2.6 1l2.6 .9l2.6 .9l2.6 .9l2.6 .9l2.6 1l2.7 .9l2.6 .9l2.6 .9l2.6 .9l2.6 1l2.6 .9l2.6 .9z"/><path color="#2b9" d="M418.2 268.3l-2.6-.9l-2.6-.9l-2.6-.9l-2.6-.9l-2.7-1l-2.6-.9l-2.6-.9l-2.6-.9l-2.6-.9l-2.6-1l-2.6-.9l-2.6-.9l-2.7-.9l-2.6-.9l-2.6-1l-2.6-.9l-2.6-.9l-2.6-.9l-2.6-.9l-2.6-.9l-2.6-1l-2.7-.9l-2.6-.9l-2.6-.9l-2.6-.9l-2.6-1l-2.6-.9l-2.6-.9l-2.6-.9l-2.7-.9l1.7-1.1l2.6 1l2.6 .9l2.6 .9l2.6 .9l2.6 .9l2.6 1l2.6 .9l2.7 .9l2.6 .9l2.6 .9l2.6 1l2.6 .9l2.6 .9l2.6 .9l2.6 .9l2.6 1l2.7 .9l2.6 .9l2.6 .9l2.6 .9l2.6 1l2.6 .9l2.6 .9l2.6 .9l2.7 .9l2.6 1l2.6 .9l2.6 .9l2.6 .9l2.6 .9z"/><path color="#1ba" d="M416.6 269.4l-2.6-1l-2.6-.9l-2.7-.9l-2.6-.9l-2.6-.9l-2.6-1l-2.6-.9l-2.6-.9l-2.6-.9l-2.6-.9l-2.6-1l-2.7-.9l-2.6-.9l-2.6-.9l-2.6-.9l-2.6-1l-2.6-.9l-2.6-.9l-2.6-.9l-2.6-.9l-2.7-1l-2.6-.9l-2.6-.9l-2.6-.9l-2.6-.9l-2.6-1l-2.6-.9l-2.6-.9l-2.7-.9l-2.6-.9l1.6-1l2.7 .9l2.6 .9l2.6 .9l2.6 .9l2.6 1l2.6 .9l2.6 .9l2.6 .9l2.7 .9l2.6 1l2.6 .9l2.6 .9l2.6 .9l2.6 .9l2.6 .9l2.6 1l2.6 .9l2.7 .9l2.6 .9l2.6 .9l2.6 1l2.6 .9l2.6 .9l2.6 .9l2.6 .9l2.7 1l2.6 .9l2.6 .9l2.6 .9l2.6 .9z"/><path color="#1ba" d="M415 270.4l-2.6-.9l-2.7-.9l-2.6-.9l-2.6-1l-2.6-.9l-2.6-.9l-2.6-.9l-2.6-.9l-2.6-1l-2.6-.9l-2.7-.9l-2.6-.9l-2.6-.9l-2.6-1l-2.6-.9l-2.6-.9l-2.6-.9l-2.6-.9l-2.6-1l-2.7-.9l-2.6-.9l-2.6-.9l-2.6-.9l-2.6-.9l-2.6-1l-2.6-.9l-2.6-.9l-2.7-.9l-2.6-.9l-2.6-1l1.6-1l2.6 .9l2.7 .9l2.6 .9l2.6 .9l2.6 1l2.6 .9l2.6 .9l2.6 .9l2.6 .9l2.7 1l2.6 .9l2.6 .9l2.6 .9l2.6 .9l2.6 1l2.6 .9l2.6 .9l2.6 .9l2.7 .9l2.6 1l2.6 .9l2.6 .9l2.6 .9l2.6 .9l2.6 1l2.6 .9l2.6 .9l2.7 .9l2.6 .9l2.6 1z"/><path color="#0bb" d="M413.4 271.6l-2.7-1l-2.6-.9l-2.6-.9l-2.6-.9l-2.6-.9l-2.6-.9l-2.6-1l-2.6-.9l-2.6-.9l-2.7-.9l-2.6-.9l-2.6-1l-2.6-.9l-2.6-.9l-2.6-.9l-2.6-.9l-2.6-1l-2.7-.9l-2.6-.9l-2.6-.9l-2.6-.9l-2.6-1l-2.6-.9l-2.6-.9l-2.6-.9l-2.6-.9l-2.7-1l-2.6-.9l-2.6-.9l-2.6-.9l1.6-1.2l2.6 1l2.6 .9l2.7 .9l2.6 .9l2.6 .9l2.6 1l2.6 .9l2.6 .9l2.6 .9l2.6 .9l2.7 .9l2.6 1l2.6 .9l2.6 .9l2.6 .9l2.6 .9l2.6 1l2.6 .9l2.6 .9l2.7 .9l2.6 .9l2.6 1l2.6 .9l2.6 .9l2.6 .9l2.6 .9l2.6 1l2.6 .9l2.7 .9l2.6 .9z"/><path color="#0bb" d="M411.7 272.8l-2.6-.9l-2.6-.9l-2.6-.9l-2.6-.9l-2.6-1l-2.6-.9l-2.6-.9l-2.6-.9l-2.7-.9l-2.6-1l-2.6-.9l-2.6-.9l-2.6-.9l-2.6-.9l-2.6-1l-2.6-.9l-2.7-.9l-2.6-.9l-2.6-.9l-2.6-1l-2.6-.9l-2.6-.9l-2.6-.9l-2.6-.9l-2.6-1l-2.7-.9l-2.6-.9l-2.6-.9l-2.6-.9l-2.6-.9l1.6-1.3l2.6 .9l2.6 .9l2.6 .9l2.7 1l2.6 .9l2.6 .9l2.6 .9l2.6 .9l2.6 1l2.6 .9l2.6 .9l2.6 .9l2.7 .9l2.6 1l2.6 .9l2.6 .9l2.6 .9l2.6 .9l2.6 1l2.6 .9l2.7 .9l2.6 .9l2.6 .9l2.6 1l2.6 .9l2.6 .9l2.6 .9l2.6 .9l2.6 .9l2.7 1z"/><path color="#0ab" d="M410.1 274.2l-2.6-.9l-2.6-.9l-2.6-.9l-2.6-.9l-2.6-1l-2.6-.9l-2.6-.9l-2.7-.9l-2.6-.9l-2.6-1l-2.6-.9l-2.6-.9l-2.6-.9l-2.6-.9l-2.6-1l-2.7-.9l-2.6-.9l-2.6-.9l-2.6-.9l-2.6-1l-2.6-.9l-2.6-.9l-2.6-.9l-2.6-.9l-2.7-.9l-2.6-1l-2.6-.9l-2.6-.9l-2.6-.9l-2.6-.9l1.6-1.4l2.6 .9l2.6 .9l2.6 .9l2.6 .9l2.7 .9l2.6 1l2.6 .9l2.6 .9l2.6 .9l2.6 .9l2.6 1l2.6 .9l2.6 .9l2.7 .9l2.6 .9l2.6 1l2.6 .9l2.6 .9l2.6 .9l2.6 .9l2.6 1l2.7 .9l2.6 .9l2.6 .9l2.6 .9l2.6 1l2.6 .9l2.6 .9l2.6 .9l2.6 .9z"/><path color="#09c" d="M408.5 275.8l-2.6-.9l-2.6-1l-2.6-.9l-2.6-.9l-2.6-.9l-2.6-.9l-2.7-1l-2.6-.9l-2.6-.9l-2.6-.9l-2.6-.9l-2.6-.9l-2.6-1l-2.6-.9l-2.7-.9l-2.6-.9l-2.6-.9l-2.6-1l-2.6-.9l-2.6-.9l-2.6-.9l-2.6-.9l-2.6-1l-2.7-.9l-2.6-.9l-2.6-.9l-2.6-.9l-2.6-1l-2.6-.9l-2.6-.9l1.6-1.5l2.6 .9l2.6 .9l2.6 .9l2.6 .9l2.6 1l2.7 .9l2.6 .9l2.6 .9l2.6 .9l2.6 .9l2.6 1l2.6 .9l2.6 .9l2.6 .9l2.7 .9l2.6 1l2.6 .9l2.6 .9l2.6 .9l2.6 .9l2.6 1l2.6 .9l2.7 .9l2.6 .9l2.6 .9l2.6 1l2.6 .9l2.6 .9l2.6 .9l2.6 .9z"/><path color="#09c" d="M407.6 276.8l-2.7-.9l-2.6-1l-2.6-.9l-2.6-.9l-2.6-.9l-2.6-.9l-2.6-1l-2.6-.9l-2.6-.9l-2.7-.9l-2.6-.9l-2.6-1l-2.6-.9l-2.6-.9l-2.6-.9l-2.6-.9l-2.6-1l-2.6-.9l-2.7-.9l-2.6-.9l-2.6-.9l-2.6-1l-2.6-.9l-2.6-.9l-2.6-.9l-2.6-.9l-2.7-.9l-2.6-1l-2.6-.9l-2.6-.9l1-1l2.6 .9l2.6 .9l2.6 1l2.6 .9l2.6 .9l2.6 .9l2.7 .9l2.6 1l2.6 .9l2.6 .9l2.6 .9l2.6 .9l2.6 1l2.6 .9l2.6 .9l2.7 .9l2.6 .9l2.6 1l2.6 .9l2.6 .9l2.6 .9l2.6 .9l2.6 .9l2.7 1l2.6 .9l2.6 .9l2.6 .9l2.6 .9l2.6 1l2.6 .9z"/><path color="#08c" d="M406.6 277.8l-2.6-.9l-2.6-.9l-2.6-.9l-2.6-.9l-2.7-1l-2.6-.9l-2.6-.9l-2.6-.9l-2.6-.9l-2.6-1l-2.6-.9l-2.6-.9l-2.7-.9l-2.6-.9l-2.6-1l-2.6-.9l-2.6-.9l-2.6-.9l-2.6-.9l-2.6-1l-2.6-.9l-2.7-.9l-2.6-.9l-2.6-.9l-2.6-1l-2.6-.9l-2.6-.9l-2.6-.9l-2.6-.9l-2.6-1l.9-1l2.6 .9l2.6 .9l2.6 1l2.7 .9l2.6 .9l2.6 .9l2.6 .9l2.6 .9l2.6 1l2.6 .9l2.6 .9l2.7 .9l2.6 .9l2.6 1l2.6 .9l2.6 .9l2.6 .9l2.6 .9l2.6 1l2.6 .9l2.7 .9l2.6 .9l2.6 .9l2.6 1l2.6 .9l2.6 .9l2.6 .9l2.6 .9l2.6 1l2.7 .9z"/><path color="#08c" d="M405.6 278.9l-2.6-.9l-2.6-.9l-2.6-.9l-2.6-.9l-2.6-1l-2.6-.9l-2.6-.9l-2.7-.9l-2.6-.9l-2.6-.9l-2.6-1l-2.6-.9l-2.6-.9l-2.6-.9l-2.6-.9l-2.6-1l-2.7-.9l-2.6-.9l-2.6-.9l-2.6-.9l-2.6-1l-2.6-.9l-2.6-.9l-2.6-.9l-2.7-.9l-2.6-1l-2.6-.9l-2.6-.9l-2.6-.9l-2.6-.9l1-1.2l2.6 1l2.6 .9l2.6 .9l2.6 .9l2.6 .9l2.6 1l2.6 .9l2.6 .9l2.7 .9l2.6 .9l2.6 1l2.6 .9l2.6 .9l2.6 .9l2.6 .9l2.6 1l2.6 .9l2.7 .9l2.6 .9l2.6 .9l2.6 1l2.6 .9l2.6 .9l2.6 .9l2.6 .9l2.7 1l2.6 .9l2.6 .9l2.6 .9l2.6 .9z"/><path color="#07c" d="M404.7 280.1l-2.6-.9l-2.6-.9l-2.7-.9l-2.6-.9l-2.6-1l-2.6-.9l-2.6-.9l-2.6-.9l-2.6-.9l-2.6-1l-2.6-.9l-2.7-.9l-2.6-.9l-2.6-.9l-2.6-1l-2.6-.9l-2.6-.9l-2.6-.9l-2.6-.9l-2.7-1l-2.6-.9l-2.6-.9l-2.6-.9l-2.6-.9l-2.6-1l-2.6-.9l-2.6-.9l-2.6-.9l-2.7-.9l-2.6-1l1-1.1l2.6 .9l2.6 .9l2.6 .9l2.6 .9l2.6 1l2.7 .9l2.6 .9l2.6 .9l2.6 .9l2.6 1l2.6 .9l2.6 .9l2.6 .9l2.7 .9l2.6 1l2.6 .9l2.6 .9l2.6 .9l2.6 .9l2.6 1l2.6 .9l2.6 .9l2.7 .9l2.6 .9l2.6 .9l2.6 1l2.6 .9l2.6 .9l2.6 .9l2.6 .9z"/><path color="#06c" d="M403.7 281.4l-2.6-.9l-2.6-.9l-2.6-.9l-2.6-.9l-2.6-1l-2.6-.9l-2.7-.9l-2.6-.9l-2.6-.9l-2.6-1l-2.6-.9l-2.6-.9l-2.6-.9l-2.6-.9l-2.7-1l-2.6-.9l-2.6-.9l-2.6-.9l-2.6-.9l-2.6-.9l-2.6-1l-2.6-.9l-2.6-.9l-2.7-.9l-2.6-.9l-2.6-1l-2.6-.9l-2.6-.9l-2.6-.9l-2.6-.9l.9-1.4l2.6 1l2.7 .9l2.6 .9l2.6 .9l2.6 .9l2.6 1l2.6 .9l2.6 .9l2.6 .9l2.6 .9l2.7 1l2.6 .9l2.6 .9l2.6 .9l2.6 .9l2.6 1l2.6 .9l2.6 .9l2.7 .9l2.6 .9l2.6 1l2.6 .9l2.6 .9l2.6 .9l2.6 .9l2.6 1l2.6 .9l2.7 .9l2.6 .9l2.6 .9z"/><path color="#05d" d="M402.8 282.9l-2.7-.9l-2.6-.9l-2.6-.9l-2.6-1l-2.6-.9l-2.6-.9l-2.6-.9l-2.6-.9l-2.6-1l-2.7-.9l-2.6-.9l-2.6-.9l-2.6-.9l-2.6-1l-2.6-.9l-2.6-.9l-2.6-.9l-2.6-.9l-2.7-1l-2.6-.9l-2.6-.9l-2.6-.9l-2.6-.9l-2.6-1l-2.6-.9l-2.6-.9l-2.7-.9l-2.6-.9l-2.6-1l-2.6-.9l1-1.4l2.6 .9l2.6 .9l2.6 .9l2.6 .9l2.6 1l2.6 .9l2.7 .9l2.6 .9l2.6 .9l2.6 1l2.6 .9l2.6 .9l2.6 .9l2.6 .9l2.6 .9l2.7 1l2.6 .9l2.6 .9l2.6 .9l2.6 .9l2.6 1l2.6 .9l2.6 .9l2.7 .9l2.6 .9l2.6 1l2.6 .9l2.6 .9l2.6 .9l2.6 .9z"/><path color="#04d" d="M401.8 284.5l-2.6-.9l-2.6-.9l-2.6-.9l-2.6-.9l-2.7-1l-2.6-.9l-2.6-.9l-2.6-.9l-2.6-.9l-2.6-1l-2.6-.9l-2.6-.9l-2.7-.9l-2.6-.9l-2.6-.9l-2.6-1l-2.6-.9l-2.6-.9l-2.6-.9l-2.6-.9l-2.6-1l-2.7-.9l-2.6-.9l-2.6-.9l-2.6-.9l-2.6-1l-2.6-.9l-2.6-.9l-2.6-.9l-2.6-.9l.9-1.7l2.6 .9l2.6 1l2.6 .9l2.7 .9l2.6 .9l2.6 .9l2.6 1l2.6 .9l2.6 .9l2.6 .9l2.6 .9l2.7 1l2.6 .9l2.6 .9l2.6 .9l2.6 .9l2.6 1l2.6 .9l2.6 .9l2.6 .9l2.7 .9l2.6 1l2.6 .9l2.6 .9l2.6 .9l2.6 .9l2.6 1l2.6 .9l2.6 .9l2.7 .9z"/><path color="#03d" d="M400.8 286.4l-2.6-1l-2.6-.9l-2.6-.9l-2.6-.9l-2.6-.9l-2.6-1l-2.6-.9l-2.7-.9l-2.6-.9l-2.6-.9l-2.6-1l-2.6-.9l-2.6-.9l-2.6-.9l-2.6-.9l-2.6-1l-2.7-.9l-2.6-.9l-2.6-.9l-2.6-.9l-2.6-1l-2.6-.9l-2.6-.9l-2.6-.9l-2.7-.9l-2.6-1l-2.6-.9l-2.6-.9l-2.6-.9l-2.6-.9l1-1.8l2.6 .9l2.6 .9l2.6 .9l2.6 .9l2.6 1l2.6 .9l2.6 .9l2.6 .9l2.7 .9l2.6 1l2.6 .9l2.6 .9l2.6 .9l2.6 .9l2.6 1l2.6 .9l2.6 .9l2.7 .9l2.6 .9l2.6 .9l2.6 1l2.6 .9l2.6 .9l2.6 .9l2.6 .9l2.7 1l2.6 .9l2.6 .9l2.6 .9l2.6 .9z"/><path color="#01d" d="M399.9 288.4l-2.6-1l-2.6-.9l-2.7-.9l-2.6-.9l-2.6-.9l-2.6-1l-2.6-.9l-2.6-.9l-2.6-.9l-2.6-.9l-2.6-1l-2.7-.9l-2.6-.9l-2.6-.9l-2.6-.9l-2.6-1l-2.6-.9l-2.6-.9l-2.6-.9l-2.7-.9l-2.6-1l-2.6-.9l-2.6-.9l-2.6-.9l-2.6-.9l-2.6-1l-2.6-.9l-2.6-.9l-2.7-.9l-2.6-.9l1-2l2.6 .9l2.6 .9l2.6 .9l2.6 .9l2.6 1l2.7 .9l2.6 .9l2.6 .9l2.6 .9l2.6 1l2.6 .9l2.6 .9l2.6 .9l2.7 .9l2.6 1l2.6 .9l2.6 .9l2.6 .9l2.6 .9l2.6 1l2.6 .9l2.6 .9l2.7 .9l2.6 .9l2.6 1l2.6 .9l2.6 .9l2.6 .9l2.6 .9l2.6 1z"/><path color="#00d" d="M398.9 290.9l-2.6-.9l-2.6-.9l-2.6-.9l-2.6-1l-2.6-.9l-2.6-.9l-2.7-.9l-2.6-.9l-2.6-1l-2.6-.9l-2.6-.9l-2.6-.9l-2.6-.9l-2.6-1l-2.7-.9l-2.6-.9l-2.6-.9l-2.6-.9l-2.6-1l-2.6-.9l-2.6-.9l-2.6-.9l-2.6-.9l-2.7-1l-2.6-.9l-2.6-.9l-2.6-.9l-2.6-.9l-2.6-1l-2.6-.9l.9-2.5l2.6 .9l2.7 .9l2.6 .9l2.6 .9l2.6 1l2.6 .9l2.6 .9l2.6 .9l2.6 .9l2.6 1l2.7 .9l2.6 .9l2.6 .9l2.6 .9l2.6 1l2.6 .9l2.6 .9l2.6 .9l2.7 .9l2.6 1l2.6 .9l2.6 .9l2.6 .9l2.6 .9l2.6 1l2.6 .9l2.6 .9l2.7 .9l2.6 .9l2.6 1z"/><path color="#00b" d="M398 294.2l-2.7-.9l-2.6-1l-2.6-.9l-2.6-.9l-2.6-.9l-2.6-.9l-2.6-1l-2.6-.9l-2.6-.9l-2.7-.9l-2.6-.9l-2.6-.9l-2.6-1l-2.6-.9l-2.6-.9l-2.6-.9l-2.6-.9l-2.6-1l-2.7-.9l-2.6-.9l-2.6-.9l-2.6-.9l-2.6-1l-2.6-.9l-2.6-.9l-2.6-.9l-2.7-.9l-2.6-1l-2.6-.9l-2.6-.9l1-3.3l2.6 .9l2.6 1l2.6 .9l2.6 .9l2.6 .9l2.6 .9l2.7 1l2.6 .9l2.6 .9l2.6 .9l2.6 .9l2.6 1l2.6 .9l2.6 .9l2.6 .9l2.7 .9l2.6 1l2.6 .9l2.6 .9l2.6 .9l2.6 .9l2.6 1l2.6 .9l2.7 .9l2.6 .9l2.6 .9l2.6 1l2.6 .9l2.6 .9l2.6 .9z"/><path color="#008" d="M397 297.5l-2.6-.9l-2.6-.9l-2.6-1l-2.6-.9l-2.7-.9l-2.6-.9l-2.6-.9l-2.6-1l-2.6-.9l-2.6-.9l-2.6-.9l-2.6-.9l-2.7-1l-2.6-.9l-2.6-.9l-2.6-.9l-2.6-.9l-2.6-1l-2.6-.9l-2.6-.9l-2.6-.9l-2.7-.9l-2.6-1l-2.6-.9l-2.6-.9l-2.6-.9l-2.6-.9l-2.6-1l-2.6-.9l-2.6-.9l.9-3.3l2.6 .9l2.6 .9l2.6 1l2.7 .9l2.6 .9l2.6 .9l2.6 .9l2.6 1l2.6 .9l2.6 .9l2.6 .9l2.7 .9l2.6 1l2.6 .9l2.6 .9l2.6 .9l2.6 .9l2.6 1l2.6 .9l2.6 .9l2.7 .9l2.6 .9l2.6 .9l2.6 1l2.6 .9l2.6 .9l2.6 .9l2.6 .9l2.6 1l2.7 .9z"/></g><g stroke="#000" stroke-linecap="butt" stroke-linejoin="round" fill="none"><path d="M407 255.7L410.1 256" stroke-width=".3"/><path d="M410.1 255.9L413.1 256.1" stroke-width=".4"/><path d="M413.1 256.1L416.1 256.3" stroke-width=".6"/><path d="M416.1 256.2L419.1 256.5" stroke-width=".8"/><path d="M419.1 256.4L422.2 256.6" stroke-width="1"/><path d="M422.2 256.5L425.2 256.8" stroke-width="1.1"/><path d="M425.2 256.7L428.2 256.9" stroke-width="1.3"/><path d="M428.2 256.8L431.2 257" stroke-width="1.5"/><path d="M431.2 256.9L434.2 257.1" stroke-width="1.7"/><path d="M355.9 230.1L355.9 230.1" stroke-width=".7"/><path d="M355.9 230L359.8 230.5" stroke-width=".8"/><path d="M359.8 230.5L363.6 231" stroke-width=".9"/><path d="M363.6 230.9L367.5 231.4" stroke-width="1"/><path d="M367.5 231.3L371.3 231.7" stroke-width="1.2"/><path d="M371.3 231.7L375.2 232.1" stroke-width="1.3"/><path d="M375.2 232.1L379.1 232.6" stroke-width="1.3"/><path d="M379.1 232.5L382.9 233" stroke-width="1.4"/><path d="M382.9 232.9L386.8 233.4" stroke-width="1.5"/><path d="M386.8 233.3L390.6 233.8" stroke-width="1.5"/><path d="M390.6 233.7L394.5 234.2" stroke-width="1.6"/><path d="M394.5 234.1L398.3 234.5" stroke-width="1.7"/><path d="M398.3 234.5L402.2 234.9" stroke-width="1.7"/><path d="M402.2 234.9L406 235.3" stroke-width="1.8"/><path d="M406 235.3L409.9 235.7" stroke-width="1.8"/><path d="M409.9 235.7L413.8 236.1" stroke-width="1.9"/><path d="M413.8 236L417.6 236.5" stroke-width="2"/><path d="M417.6 236.4L421.5 236.8" stroke-width="2"/><path d="M421.5 236.8L425.3 237.2" stroke-width="2.1"/><path d="M425.3 237.2L429.2 237.6" stroke-width="2.2"/><path d="M429.2 237.6L433 238" stroke-width="2.2"/><path d="M433 238L436.9 238.4" stroke-width="2.3"/><path d="M436.9 238.4L440.8 238.8" stroke-width="2.3"/><path d="M440.8 238.8L444.6 239.2" stroke-width="2.4"/><path d="M444.6 239.2L448.5 239.6" stroke-width="2.5"/><path d="M448.5 239.6L452.3 240" stroke-width="2.5"/><path d="M452.3 240L454.7 240.3" stroke-width="2.6"/><path d="M376.4 213.5L377.7 213.6" stroke-width="1"/><path d="M377.7 213.6L381.2 213.9" stroke-width="1"/><path d="M381.2 213.9L384.6 214.2" stroke-width="1.1"/><path d="M384.6 214.2L388.1 214.5" stroke-width="1.2"/><path d="M388.1 214.4L391.6 214.7" stroke-width="1.2"/><path d="M391.6 214.7L395.1 215" stroke-width="1.3"/><path d="M395.1 215L398.6 215.3" stroke-width="1.3"/><path d="M398.6 215.2L402 215.5" stroke-width="1.4"/><path d="M402 215.5L405.5 215.8" stroke-width="1.4"/><path d="M405.5 215.8L409 216.1" stroke-width="1.5"/><path d="M409 216L412.5 216.3" stroke-width="1.5"/><path d="M412.5 216.3L416 216.6" stroke-width="1.6"/><path d="M416 216.6L419.4 216.9" stroke-width="1.7"/><path d="M419.4 216.8L422.9 217.1" stroke-width="1.7"/><path d="M422.9 217.1L426.4 217.4" stroke-width="1.8"/><path d="M426.4 217.4L429.9 217.7" stroke-width="1.8"/><path d="M429.9 217.7L433.4 218" stroke-width="1.9"/><path d="M433.4 218L436.8 218.3" stroke-width="1.9"/><path d="M436.8 218.3L440.3 218.6" stroke-width="2"/><path d="M440.3 218.6L443.8 218.9" stroke-width="2"/><path d="M443.8 218.9L447.3 219.2" stroke-width="2.1"/><path d="M447.3 219.2L450.8 219.6" stroke-width="2.1"/><path d="M450.8 219.6L454.2 219.9" stroke-width="2.2"/><path d="M454.2 219.9L457.7 220.3" stroke-width="2.3"/><path d="M457.7 220.3L461.2 220.7" stroke-width="2.3"/><path d="M461.2 220.7L464.7 221.1" stroke-width="2.4"/><path d="M464.7 221.1L468.2 221.5" stroke-width="2.4"/><path d="M468.2 221.5L471.6 221.9" stroke-width="2.5"/><path d="M471.6 221.9L475.1 222.4" stroke-width="2.5"/><path d="M475.1 222.4L478.1 222.8" stroke-width="2.6"/><path d="M399.8 196L400.1 196" stroke-width="1"/><path d="M400.1 196L402.6 196.2" stroke-width="1"/><path d="M402.6 196.2L405.1 196.4" stroke-width="1"/><path d="M405.1 196.4L407.5 196.6" stroke-width="1"/><path d="M407.5 196.6L410 196.8" stroke-width=".9"/><path d="M410 196.8L412.5 197" stroke-width=".9"/><path d="M412.5 197.1L415 197.3" stroke-width=".9"/><path d="M415 197.3L417.4 197.5" stroke-width=".8"/><path d="M417.4 197.6L419.9 197.8" stroke-width=".8"/><path d="M419.9 197.8L422.4 198.1" stroke-width=".7"/><path d="M422.4 198.1L424.9 198.4" stroke-width=".7"/><path d="M424.9 198.4L427.3 198.6" stroke-width=".6"/><path d="M427.3 198.6L429.8 198.9" stroke-width=".6"/><path d="M429.8 198.9L432.3 199.1" stroke-width=".6"/><path d="M432.3 199.1L434.8 199.4" stroke-width=".7"/><path d="M434.8 199.3L437.2 199.6" stroke-width=".7"/><path d="M437.2 199.6L439.7 199.8" stroke-width=".7"/><path d="M439.7 199.8L442.2 200.1" stroke-width=".7"/><path d="M442.2 200.1L444.6 200.3" stroke-width=".7"/></g><path d="M414.3 192L416.3 192.5L418.3 193L420.3 193.5L422.3 194.1L424.3 194.6L426.3 195.1L428.3 195.7L430.3 196.2L432.3 196.7L434.4 197.2L436.4 197.8L438.4 198.3L440.4 198.8L442.4 199.4L444.4 199.9L446.4 200.8L448.4 201.8L450.4 202.7L452.4 203.6L454.4 204.6L456.5 205.5L458.5 206.4L460.5 207.3L462.5 208.2L464.5 209.1L466.5 209.9L468.5 210.8L470.5 211.6L472.5 212.5L474.5 213.3L476.5 214.1L478.6 214.9L480.6 215.7L482.6 216.4L484.6 217.2L486.6 217.9L488.6 218.5L490.6 219L492.6 219.5" fill="none" stroke="#000" stroke-opacity="0.8" stroke-width="1.6"/><path d="M308.1 200.5L308.1 271.0L397.0 302.3L512.2 279.4" fill="none" stroke="#c4c4c4" stroke-width="1"/><g font-family="'Liberation Sans',Arial,sans-serif" fill="#111" stroke="#111" stroke-width=".22"><rect x="249.5" y="6.6" width="5.0" height="125.8" fill="url(#jet)"/><text x="256.0" y="124.3" font-size="8.5" text-anchor="start" dominant-baseline="central" textLength="4.1" lengthAdjust="spacingAndGlyphs">2</text><text x="256.0" y="107.0" font-size="8.5" text-anchor="start" dominant-baseline="central" textLength="4.1" lengthAdjust="spacingAndGlyphs">4</text><text x="256.0" y="89.8" font-size="8.5" text-anchor="start" dominant-baseline="central" textLength="4.1" lengthAdjust="spacingAndGlyphs">6</text><text x="256.0" y="72.5" font-size="8.5" text-anchor="start" dominant-baseline="central" textLength="4.1" lengthAdjust="spacingAndGlyphs">8</text><text x="256.0" y="55.3" font-size="8.5" text-anchor="start" dominant-baseline="central" textLength="8.2" lengthAdjust="spacingAndGlyphs">10</text><text x="256.0" y="38.0" font-size="8.5" text-anchor="start" dominant-baseline="central" textLength="8.2" lengthAdjust="spacingAndGlyphs">12</text><text x="256.0" y="20.7" font-size="8.5" text-anchor="start" dominant-baseline="central" textLength="8.2" lengthAdjust="spacingAndGlyphs">14</text><text x="22.4" y="100.9" font-size="10.3" text-anchor="end" dominant-baseline="central" textLength="4.8" lengthAdjust="spacingAndGlyphs">0</text><text x="22.4" y="78.9" font-size="10.3" text-anchor="end" dominant-baseline="central" textLength="4.8" lengthAdjust="spacingAndGlyphs">5</text><text x="22.4" y="57.0" font-size="10.3" text-anchor="end" dominant-baseline="central" textLength="9.6" lengthAdjust="spacingAndGlyphs">10</text><text x="22.4" y="35.1" font-size="10.3" text-anchor="end" dominant-baseline="central" textLength="9.6" lengthAdjust="spacingAndGlyphs">15</text><text x="111.0" y="139.8" font-size="10.3" text-anchor="end" dominant-baseline="central" textLength="4.5" lengthAdjust="spacingAndGlyphs">0</text><text x="83.1" y="129.6" font-size="10.3" text-anchor="end" dominant-baseline="central" textLength="11.2" lengthAdjust="spacingAndGlyphs">0.5</text><text x="55.1" y="119.4" font-size="10.3" text-anchor="end" dominant-baseline="central" textLength="4.5" lengthAdjust="spacingAndGlyphs">1</text><text x="27.2" y="109.1" font-size="10.3" text-anchor="end" dominant-baseline="central" textLength="11.2" lengthAdjust="spacingAndGlyphs">1.5</text><text x="125.6" y="141.5" font-size="10.3" text-anchor="middle" dominant-baseline="central" transform="rotate(-8.0 125.6 141.5)" textLength="10.1" lengthAdjust="spacingAndGlyphs">58</text><text x="152.7" y="135.8" font-size="10.3" text-anchor="middle" dominant-baseline="central" transform="rotate(-8.0 152.7 135.8)" textLength="10.1" lengthAdjust="spacingAndGlyphs">63</text><text x="185.3" y="128.5" font-size="10.3" text-anchor="middle" dominant-baseline="central" transform="rotate(-8.0 185.3 128.5)" textLength="10.1" lengthAdjust="spacingAndGlyphs">68</text><text x="213.8" y="123.3" font-size="10.3" text-anchor="middle" dominant-baseline="central" transform="rotate(-8.0 213.8 123.3)" textLength="10.1" lengthAdjust="spacingAndGlyphs">73</text><text x="234.8" y="117.4" font-size="10.3" text-anchor="middle" dominant-baseline="central" transform="rotate(-8.0 234.8 117.4)" textLength="10.1" lengthAdjust="spacingAndGlyphs">78</text><text x="8.2" y="64.0" font-size="11.0" text-anchor="middle" dominant-baseline="central" transform="rotate(-90.0 8.2 64.0)">Pressure <tspan font-style="italic">p</tspan>/MPa</text><text x="58.0" y="135.2" font-size="11.6" text-anchor="middle" dominant-baseline="central" transform="rotate(20.5 58.0 135.2)">Coordinate <tspan font-style="italic">θ/rad</tspan></text><text x="183.0" y="139.8" font-size="11.9" text-anchor="middle" dominant-baseline="central" transform="rotate(-11.5 183.0 139.8)">Radius r/mm</text><rect x="531.1" y="4.4" width="4.6" height="126.4" fill="url(#jet)"/><text x="536.6" y="103.2" font-size="8.5" text-anchor="start" dominant-baseline="central" textLength="4.1" lengthAdjust="spacingAndGlyphs">5</text><text x="536.6" y="67.2" font-size="8.5" text-anchor="start" dominant-baseline="central" textLength="8.2" lengthAdjust="spacingAndGlyphs">10</text><text x="536.6" y="31.2" font-size="8.5" text-anchor="start" dominant-baseline="central" textLength="8.2" lengthAdjust="spacingAndGlyphs">15</text><text x="306.5" y="101.3" font-size="10.3" text-anchor="end" dominant-baseline="central" textLength="4.2" lengthAdjust="spacingAndGlyphs">0</text><text x="306.5" y="66.3" font-size="10.3" text-anchor="end" dominant-baseline="central" textLength="8.5" lengthAdjust="spacingAndGlyphs">10</text><text x="306.5" y="31.3" font-size="10.3" text-anchor="end" dominant-baseline="central" textLength="8.5" lengthAdjust="spacingAndGlyphs">20</text><text x="394.8" y="140.5" font-size="10.3" text-anchor="end" dominant-baseline="central" textLength="4.5" lengthAdjust="spacingAndGlyphs">0</text><text x="370.0" y="131.3" font-size="10.3" text-anchor="end" dominant-baseline="central" textLength="11.2" lengthAdjust="spacingAndGlyphs">0.2</text><text x="345.2" y="122.0" font-size="10.3" text-anchor="end" dominant-baseline="central" textLength="11.2" lengthAdjust="spacingAndGlyphs">0.4</text><text x="320.4" y="112.8" font-size="10.3" text-anchor="end" dominant-baseline="central" textLength="11.2" lengthAdjust="spacingAndGlyphs">0.6</text><text x="408.6" y="141.4" font-size="10.3" text-anchor="middle" dominant-baseline="central" transform="rotate(-8.0 408.6 141.4)" textLength="10.1" lengthAdjust="spacingAndGlyphs">58</text><text x="435.6" y="136.3" font-size="10.3" text-anchor="middle" dominant-baseline="central" transform="rotate(-8.0 435.6 136.3)" textLength="10.1" lengthAdjust="spacingAndGlyphs">63</text><text x="462.6" y="130.3" font-size="10.3" text-anchor="middle" dominant-baseline="central" transform="rotate(-8.0 462.6 130.3)" textLength="10.1" lengthAdjust="spacingAndGlyphs">68</text><text x="489.8" y="123.8" font-size="10.3" text-anchor="middle" dominant-baseline="central" transform="rotate(-8.0 489.8 123.8)" textLength="10.1" lengthAdjust="spacingAndGlyphs">73</text><text x="513.5" y="118.5" font-size="10.3" text-anchor="middle" dominant-baseline="central" transform="rotate(-8.0 513.5 118.5)" textLength="10.1" lengthAdjust="spacingAndGlyphs">78</text><text x="290.2" y="63.3" font-size="11.0" text-anchor="middle" dominant-baseline="central" transform="rotate(-90.0 290.2 63.3)">Pressure <tspan font-style="italic">p</tspan>/MPa</text><text x="338.5" y="135.3" font-size="11.6" text-anchor="middle" dominant-baseline="central" transform="rotate(21.5 338.5 135.3)">Coordinate <tspan font-style="italic">θ/rad</tspan></text><text x="466.5" y="139.6" font-size="11.9" text-anchor="middle" dominant-baseline="central" transform="rotate(-11.5 466.5 139.6)">Radius r/mm</text><rect x="248.1" y="178.0" width="5.0" height="122.8" fill="url(#jet)"/><text x="253.9" y="292.7" font-size="8.5" text-anchor="start" dominant-baseline="central" textLength="4.1" lengthAdjust="spacingAndGlyphs">2</text><text x="253.9" y="274.5" font-size="8.5" text-anchor="start" dominant-baseline="central" textLength="4.1" lengthAdjust="spacingAndGlyphs">4</text><text x="253.9" y="256.4" font-size="8.5" text-anchor="start" dominant-baseline="central" textLength="4.1" lengthAdjust="spacingAndGlyphs">6</text><text x="253.9" y="238.2" font-size="8.5" text-anchor="start" dominant-baseline="central" textLength="4.1" lengthAdjust="spacingAndGlyphs">8</text><text x="253.9" y="220.1" font-size="8.5" text-anchor="start" dominant-baseline="central" textLength="8.2" lengthAdjust="spacingAndGlyphs">10</text><text x="253.9" y="201.9" font-size="8.5" text-anchor="start" dominant-baseline="central" textLength="8.2" lengthAdjust="spacingAndGlyphs">12</text><text x="253.9" y="183.7" font-size="8.5" text-anchor="start" dominant-baseline="central" textLength="8.2" lengthAdjust="spacingAndGlyphs">14</text><text x="23.8" y="269.9" font-size="10.3" text-anchor="end" dominant-baseline="central" textLength="4.2" lengthAdjust="spacingAndGlyphs">0</text><text x="23.8" y="247.5" font-size="10.3" text-anchor="end" dominant-baseline="central" textLength="4.2" lengthAdjust="spacingAndGlyphs">5</text><text x="23.8" y="225.0" font-size="10.3" text-anchor="end" dominant-baseline="central" textLength="8.5" lengthAdjust="spacingAndGlyphs">10</text><text x="23.8" y="202.5" font-size="10.3" text-anchor="end" dominant-baseline="central" textLength="8.5" lengthAdjust="spacingAndGlyphs">15</text><text x="112.5" y="307.8" font-size="10.3" text-anchor="end" dominant-baseline="central" textLength="4.5" lengthAdjust="spacingAndGlyphs">0</text><text x="88.3" y="298.8" font-size="10.3" text-anchor="end" dominant-baseline="central" textLength="11.2" lengthAdjust="spacingAndGlyphs">0.1</text><text x="64.1" y="289.7" font-size="10.3" text-anchor="end" dominant-baseline="central" textLength="11.2" lengthAdjust="spacingAndGlyphs">0.2</text><text x="40.0" y="280.7" font-size="10.3" text-anchor="end" dominant-baseline="central" textLength="11.2" lengthAdjust="spacingAndGlyphs">0.3</text><text x="124.8" y="313.3" font-size="10.3" text-anchor="middle" dominant-baseline="central" transform="rotate(-8.0 124.8 313.3)" textLength="10.1" lengthAdjust="spacingAndGlyphs">58</text><text x="149.4" y="307.4" font-size="10.3" text-anchor="middle" dominant-baseline="central" transform="rotate(-8.0 149.4 307.4)" textLength="10.1" lengthAdjust="spacingAndGlyphs">63</text><text x="178.7" y="301.0" font-size="10.3" text-anchor="middle" dominant-baseline="central" transform="rotate(-8.0 178.7 301.0)" textLength="10.1" lengthAdjust="spacingAndGlyphs">68</text><text x="208.0" y="294.7" font-size="10.3" text-anchor="middle" dominant-baseline="central" transform="rotate(-8.0 208.0 294.7)" textLength="10.1" lengthAdjust="spacingAndGlyphs">73</text><text x="230.9" y="289.1" font-size="10.3" text-anchor="middle" dominant-baseline="central" transform="rotate(-8.0 230.9 289.1)" textLength="10.1" lengthAdjust="spacingAndGlyphs">78</text><text x="9.9" y="237.4" font-size="11.0" text-anchor="middle" dominant-baseline="central" transform="rotate(-90.0 9.9 237.4)">Pressure <tspan font-style="italic">p</tspan>/MPa</text><text x="57.8" y="306.0" font-size="11.6" text-anchor="middle" dominant-baseline="central" transform="rotate(21.5 57.8 306.0)">Coordinate <tspan font-style="italic">θ/rad</tspan></text><text x="182.0" y="310.3" font-size="11.9" text-anchor="middle" dominant-baseline="central" transform="rotate(-11.5 182.0 310.3)">Radius r/mm</text><rect x="531.7" y="178.5" width="5.0" height="125.5" fill="url(#jet)"/><text x="537.3" y="295.3" font-size="8.5" text-anchor="start" dominant-baseline="central" textLength="4.1" lengthAdjust="spacingAndGlyphs">2</text><text x="537.3" y="276.5" font-size="8.5" text-anchor="start" dominant-baseline="central" textLength="4.1" lengthAdjust="spacingAndGlyphs">4</text><text x="537.3" y="257.7" font-size="8.5" text-anchor="start" dominant-baseline="central" textLength="4.1" lengthAdjust="spacingAndGlyphs">6</text><text x="537.3" y="238.9" font-size="8.5" text-anchor="start" dominant-baseline="central" textLength="4.1" lengthAdjust="spacingAndGlyphs">8</text><text x="537.3" y="220.1" font-size="8.5" text-anchor="start" dominant-baseline="central" textLength="8.2" lengthAdjust="spacingAndGlyphs">10</text><text x="537.3" y="201.3" font-size="8.5" text-anchor="start" dominant-baseline="central" textLength="8.2" lengthAdjust="spacingAndGlyphs">12</text><text x="537.3" y="182.5" font-size="8.5" text-anchor="start" dominant-baseline="central" textLength="8.2" lengthAdjust="spacingAndGlyphs">14</text><text x="305.2" y="271.6" font-size="10.3" text-anchor="end" dominant-baseline="central" textLength="4.2" lengthAdjust="spacingAndGlyphs">0</text><text x="305.2" y="248.7" font-size="10.3" text-anchor="end" dominant-baseline="central" textLength="4.2" lengthAdjust="spacingAndGlyphs">5</text><text x="305.2" y="225.8" font-size="10.3" text-anchor="end" dominant-baseline="central" textLength="8.5" lengthAdjust="spacingAndGlyphs">10</text><text x="305.2" y="202.9" font-size="10.3" text-anchor="end" dominant-baseline="central" textLength="8.5" lengthAdjust="spacingAndGlyphs">15</text><text x="394.7" y="309.7" font-size="10.3" text-anchor="end" dominant-baseline="central" textLength="4.5" lengthAdjust="spacingAndGlyphs">0</text><text x="360.0" y="297.7" font-size="10.3" text-anchor="end" dominant-baseline="central" textLength="11.2" lengthAdjust="spacingAndGlyphs">0.1</text><text x="324.2" y="285.5" font-size="10.3" text-anchor="end" dominant-baseline="central" textLength="11.2" lengthAdjust="spacingAndGlyphs">0.2</text><text x="406.6" y="312.8" font-size="10.3" text-anchor="middle" dominant-baseline="central" transform="rotate(-8.0 406.6 312.8)" textLength="10.1" lengthAdjust="spacingAndGlyphs">58</text><text x="435.4" y="306.6" font-size="10.3" text-anchor="middle" dominant-baseline="central" transform="rotate(-8.0 435.4 306.6)" textLength="10.1" lengthAdjust="spacingAndGlyphs">63</text><text x="466.0" y="300.6" font-size="10.3" text-anchor="middle" dominant-baseline="central" transform="rotate(-8.0 466.0 300.6)" textLength="10.1" lengthAdjust="spacingAndGlyphs">68</text><text x="490.6" y="295.2" font-size="10.3" text-anchor="middle" dominant-baseline="central" transform="rotate(-8.0 490.6 295.2)" textLength="10.1" lengthAdjust="spacingAndGlyphs">73</text><text x="514.8" y="290.4" font-size="10.3" text-anchor="middle" dominant-baseline="central" transform="rotate(-8.0 514.8 290.4)" textLength="10.1" lengthAdjust="spacingAndGlyphs">78</text><text x="290.7" y="235.0" font-size="11.0" text-anchor="middle" dominant-baseline="central" transform="rotate(-90.0 290.7 235.0)">Pressure <tspan font-style="italic">p</tspan>/MPa</text><text x="339.5" y="305.2" font-size="11.6" text-anchor="middle" dominant-baseline="central" transform="rotate(22.0 339.5 305.2)">Coordinate <tspan font-style="italic">θ/rad</tspan></text><text x="470.5" y="311.0" font-size="11.9" text-anchor="middle" dominant-baseline="central" transform="rotate(-11.5 470.5 311.0)">Radius r/mm</text></g><g font-family="'Liberation Serif','Times New Roman',serif" font-size="13.7" fill="#111" text-anchor="middle"><text x="133.7" y="171.0">(<tspan font-weight="bold">a</tspan>)</text><text x="416.1" y="170.4">(<tspan font-weight="bold">b</tspan>)</text><text x="133.7" y="340.6">(<tspan font-weight="bold">c</tspan>)</text><text x="416.1" y="340.3">(<tspan font-weight="bold">d</tspan>)</text></g></svg></body></html>
